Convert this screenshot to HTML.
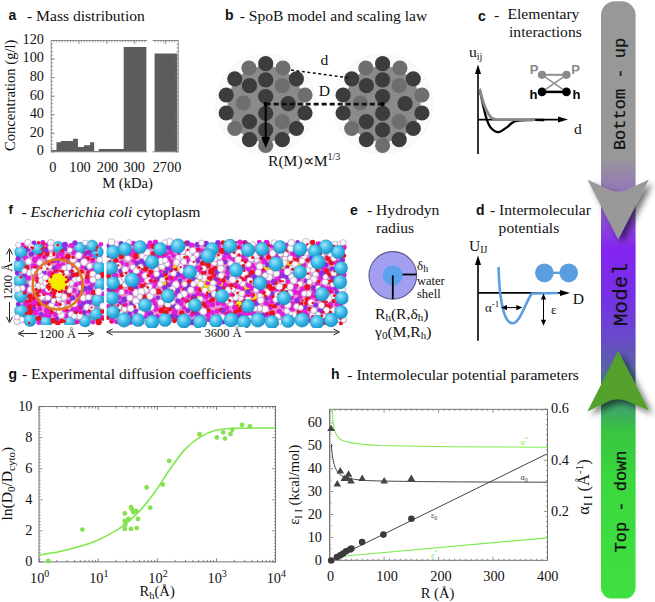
<!DOCTYPE html>
<html><head><meta charset="utf-8"><style>html,body{margin:0;padding:0;background:#fff;}svg{display:block}</style></head>
<body><svg width="655" height="602" viewBox="0 0 655 602">
<rect width="655" height="602" fill="#fff"/>
<text x="8.5" y="20.2" style='font-family:"Liberation Sans",sans-serif;font-size:14px;font-weight:bold' fill="#111" text-anchor="start" >a</text>
<text x="27" y="20.9" style='font-family:"Liberation Serif",serif;font-size:15.6px;font-weight:normal' fill="#111" text-anchor="start" >- Mass distribution</text>
<path d="M51.2,151.8 L51.2,150.1 L56.5,150.1 L56.5,142.2 L60.8,142.2 L60.8,141.1 L66.9,141.1 L66.9,140.9 L73,140.9 L73,138.8 L77.9,138.8 L77.9,147.1 L84,147.1 L84,145.3 L90.1,145.3 L90.1,142.2 L94.2,142.2 L94.2,151.0 L98.7,151.0 L98.7,148.9 L123.7,148.9 L123.7,47.0 L146.4,47.0 L146.4,151.8 Z" fill="#5c5c5c"/>
<rect x="154.6" y="53.5" width="22.7" height="98.3" fill="#5c5c5c"/>
<path d="M51.2,151.8 L51.2,40.5 L147.2,40.5 M152.6,40.5 L178.3,40.5 L178.3,151.8 M51.2,151.8 L147.2,151.8 M152.6,151.8 L178.3,151.8" fill="none" stroke="#808080" stroke-width="0.9"/>
<line x1="54.0" y1="40.5" x2="54.0" y2="42.3" stroke="#808080" stroke-width="0.8"/>
<line x1="56.7" y1="40.5" x2="56.7" y2="42.3" stroke="#808080" stroke-width="0.8"/>
<line x1="59.5" y1="40.5" x2="59.5" y2="42.3" stroke="#808080" stroke-width="0.8"/>
<line x1="62.2" y1="40.5" x2="62.2" y2="42.3" stroke="#808080" stroke-width="0.8"/>
<line x1="65.0" y1="40.5" x2="65.0" y2="42.3" stroke="#808080" stroke-width="0.8"/>
<line x1="67.7" y1="40.5" x2="67.7" y2="42.3" stroke="#808080" stroke-width="0.8"/>
<line x1="70.5" y1="40.5" x2="70.5" y2="42.3" stroke="#808080" stroke-width="0.8"/>
<line x1="73.2" y1="40.5" x2="73.2" y2="42.3" stroke="#808080" stroke-width="0.8"/>
<line x1="76.0" y1="40.5" x2="76.0" y2="42.3" stroke="#808080" stroke-width="0.8"/>
<line x1="78.7" y1="40.5" x2="78.7" y2="42.3" stroke="#808080" stroke-width="0.8"/>
<line x1="81.5" y1="40.5" x2="81.5" y2="42.3" stroke="#808080" stroke-width="0.8"/>
<line x1="84.2" y1="40.5" x2="84.2" y2="42.3" stroke="#808080" stroke-width="0.8"/>
<line x1="87.0" y1="40.5" x2="87.0" y2="42.3" stroke="#808080" stroke-width="0.8"/>
<line x1="89.7" y1="40.5" x2="89.7" y2="42.3" stroke="#808080" stroke-width="0.8"/>
<line x1="92.5" y1="40.5" x2="92.5" y2="42.3" stroke="#808080" stroke-width="0.8"/>
<line x1="95.2" y1="40.5" x2="95.2" y2="42.3" stroke="#808080" stroke-width="0.8"/>
<line x1="98.0" y1="40.5" x2="98.0" y2="42.3" stroke="#808080" stroke-width="0.8"/>
<line x1="100.7" y1="40.5" x2="100.7" y2="42.3" stroke="#808080" stroke-width="0.8"/>
<line x1="103.5" y1="40.5" x2="103.5" y2="42.3" stroke="#808080" stroke-width="0.8"/>
<line x1="106.2" y1="40.5" x2="106.2" y2="42.3" stroke="#808080" stroke-width="0.8"/>
<line x1="109.0" y1="40.5" x2="109.0" y2="42.3" stroke="#808080" stroke-width="0.8"/>
<line x1="111.7" y1="40.5" x2="111.7" y2="42.3" stroke="#808080" stroke-width="0.8"/>
<line x1="114.5" y1="40.5" x2="114.5" y2="42.3" stroke="#808080" stroke-width="0.8"/>
<line x1="117.2" y1="40.5" x2="117.2" y2="42.3" stroke="#808080" stroke-width="0.8"/>
<line x1="120.0" y1="40.5" x2="120.0" y2="42.3" stroke="#808080" stroke-width="0.8"/>
<line x1="122.7" y1="40.5" x2="122.7" y2="42.3" stroke="#808080" stroke-width="0.8"/>
<line x1="125.5" y1="40.5" x2="125.5" y2="42.3" stroke="#808080" stroke-width="0.8"/>
<line x1="128.2" y1="40.5" x2="128.2" y2="42.3" stroke="#808080" stroke-width="0.8"/>
<line x1="130.9" y1="40.5" x2="130.9" y2="42.3" stroke="#808080" stroke-width="0.8"/>
<line x1="133.7" y1="40.5" x2="133.7" y2="42.3" stroke="#808080" stroke-width="0.8"/>
<line x1="136.4" y1="40.5" x2="136.4" y2="42.3" stroke="#808080" stroke-width="0.8"/>
<line x1="139.2" y1="40.5" x2="139.2" y2="42.3" stroke="#808080" stroke-width="0.8"/>
<line x1="141.9" y1="40.5" x2="141.9" y2="42.3" stroke="#808080" stroke-width="0.8"/>
<line x1="144.7" y1="40.5" x2="144.7" y2="42.3" stroke="#808080" stroke-width="0.8"/>
<line x1="155.3" y1="40.5" x2="155.3" y2="42.3" stroke="#808080" stroke-width="0.8"/>
<line x1="158.1" y1="40.5" x2="158.1" y2="42.3" stroke="#808080" stroke-width="0.8"/>
<line x1="160.8" y1="40.5" x2="160.8" y2="42.3" stroke="#808080" stroke-width="0.8"/>
<line x1="163.6" y1="40.5" x2="163.6" y2="42.3" stroke="#808080" stroke-width="0.8"/>
<line x1="166.3" y1="40.5" x2="166.3" y2="42.3" stroke="#808080" stroke-width="0.8"/>
<line x1="169.1" y1="40.5" x2="169.1" y2="42.3" stroke="#808080" stroke-width="0.8"/>
<line x1="171.8" y1="40.5" x2="171.8" y2="42.3" stroke="#808080" stroke-width="0.8"/>
<line x1="174.6" y1="40.5" x2="174.6" y2="42.3" stroke="#808080" stroke-width="0.8"/>
<line x1="79" y1="40.5" x2="79" y2="44.0" stroke="#808080" stroke-width="0.8"/>
<line x1="106.8" y1="40.5" x2="106.8" y2="44.0" stroke="#808080" stroke-width="0.8"/>
<line x1="134.6" y1="40.5" x2="134.6" y2="44.0" stroke="#808080" stroke-width="0.8"/>
<line x1="165.4" y1="40.5" x2="165.4" y2="44.0" stroke="#808080" stroke-width="0.8"/>
<line x1="178.3" y1="151.8" x2="176.5" y2="151.8" stroke="#808080" stroke-width="0.8"/>
<line x1="51.2" y1="151.8" x2="53.0" y2="151.8" stroke="#808080" stroke-width="0.8"/>
<line x1="178.3" y1="148.1" x2="176.5" y2="148.1" stroke="#808080" stroke-width="0.8"/>
<line x1="51.2" y1="148.1" x2="53.0" y2="148.1" stroke="#808080" stroke-width="0.8"/>
<line x1="178.3" y1="144.4" x2="176.5" y2="144.4" stroke="#808080" stroke-width="0.8"/>
<line x1="51.2" y1="144.4" x2="53.0" y2="144.4" stroke="#808080" stroke-width="0.8"/>
<line x1="178.3" y1="140.7" x2="176.5" y2="140.7" stroke="#808080" stroke-width="0.8"/>
<line x1="51.2" y1="140.7" x2="53.0" y2="140.7" stroke="#808080" stroke-width="0.8"/>
<line x1="178.3" y1="137.0" x2="176.5" y2="137.0" stroke="#808080" stroke-width="0.8"/>
<line x1="51.2" y1="137.0" x2="53.0" y2="137.0" stroke="#808080" stroke-width="0.8"/>
<line x1="178.3" y1="133.2" x2="176.5" y2="133.2" stroke="#808080" stroke-width="0.8"/>
<line x1="51.2" y1="133.2" x2="53.0" y2="133.2" stroke="#808080" stroke-width="0.8"/>
<line x1="178.3" y1="129.5" x2="176.5" y2="129.5" stroke="#808080" stroke-width="0.8"/>
<line x1="51.2" y1="129.5" x2="53.0" y2="129.5" stroke="#808080" stroke-width="0.8"/>
<line x1="178.3" y1="125.8" x2="176.5" y2="125.8" stroke="#808080" stroke-width="0.8"/>
<line x1="51.2" y1="125.8" x2="53.0" y2="125.8" stroke="#808080" stroke-width="0.8"/>
<line x1="178.3" y1="122.1" x2="176.5" y2="122.1" stroke="#808080" stroke-width="0.8"/>
<line x1="51.2" y1="122.1" x2="53.0" y2="122.1" stroke="#808080" stroke-width="0.8"/>
<line x1="178.3" y1="118.4" x2="176.5" y2="118.4" stroke="#808080" stroke-width="0.8"/>
<line x1="51.2" y1="118.4" x2="53.0" y2="118.4" stroke="#808080" stroke-width="0.8"/>
<line x1="178.3" y1="114.7" x2="176.5" y2="114.7" stroke="#808080" stroke-width="0.8"/>
<line x1="51.2" y1="114.7" x2="53.0" y2="114.7" stroke="#808080" stroke-width="0.8"/>
<line x1="178.3" y1="111.0" x2="176.5" y2="111.0" stroke="#808080" stroke-width="0.8"/>
<line x1="51.2" y1="111.0" x2="53.0" y2="111.0" stroke="#808080" stroke-width="0.8"/>
<line x1="178.3" y1="107.3" x2="176.5" y2="107.3" stroke="#808080" stroke-width="0.8"/>
<line x1="51.2" y1="107.3" x2="53.0" y2="107.3" stroke="#808080" stroke-width="0.8"/>
<line x1="178.3" y1="103.6" x2="176.5" y2="103.6" stroke="#808080" stroke-width="0.8"/>
<line x1="51.2" y1="103.6" x2="53.0" y2="103.6" stroke="#808080" stroke-width="0.8"/>
<line x1="178.3" y1="99.9" x2="176.5" y2="99.9" stroke="#808080" stroke-width="0.8"/>
<line x1="51.2" y1="99.9" x2="53.0" y2="99.9" stroke="#808080" stroke-width="0.8"/>
<line x1="178.3" y1="96.2" x2="176.5" y2="96.2" stroke="#808080" stroke-width="0.8"/>
<line x1="51.2" y1="96.2" x2="53.0" y2="96.2" stroke="#808080" stroke-width="0.8"/>
<line x1="178.3" y1="92.4" x2="176.5" y2="92.4" stroke="#808080" stroke-width="0.8"/>
<line x1="51.2" y1="92.4" x2="53.0" y2="92.4" stroke="#808080" stroke-width="0.8"/>
<line x1="178.3" y1="88.7" x2="176.5" y2="88.7" stroke="#808080" stroke-width="0.8"/>
<line x1="51.2" y1="88.7" x2="53.0" y2="88.7" stroke="#808080" stroke-width="0.8"/>
<line x1="178.3" y1="85.0" x2="176.5" y2="85.0" stroke="#808080" stroke-width="0.8"/>
<line x1="51.2" y1="85.0" x2="53.0" y2="85.0" stroke="#808080" stroke-width="0.8"/>
<line x1="178.3" y1="81.3" x2="176.5" y2="81.3" stroke="#808080" stroke-width="0.8"/>
<line x1="51.2" y1="81.3" x2="53.0" y2="81.3" stroke="#808080" stroke-width="0.8"/>
<line x1="178.3" y1="77.6" x2="176.5" y2="77.6" stroke="#808080" stroke-width="0.8"/>
<line x1="51.2" y1="77.6" x2="53.0" y2="77.6" stroke="#808080" stroke-width="0.8"/>
<line x1="178.3" y1="73.9" x2="176.5" y2="73.9" stroke="#808080" stroke-width="0.8"/>
<line x1="51.2" y1="73.9" x2="53.0" y2="73.9" stroke="#808080" stroke-width="0.8"/>
<line x1="178.3" y1="70.2" x2="176.5" y2="70.2" stroke="#808080" stroke-width="0.8"/>
<line x1="51.2" y1="70.2" x2="53.0" y2="70.2" stroke="#808080" stroke-width="0.8"/>
<line x1="178.3" y1="66.5" x2="176.5" y2="66.5" stroke="#808080" stroke-width="0.8"/>
<line x1="51.2" y1="66.5" x2="53.0" y2="66.5" stroke="#808080" stroke-width="0.8"/>
<line x1="178.3" y1="62.8" x2="176.5" y2="62.8" stroke="#808080" stroke-width="0.8"/>
<line x1="51.2" y1="62.8" x2="53.0" y2="62.8" stroke="#808080" stroke-width="0.8"/>
<line x1="178.3" y1="59.0" x2="176.5" y2="59.0" stroke="#808080" stroke-width="0.8"/>
<line x1="51.2" y1="59.0" x2="53.0" y2="59.0" stroke="#808080" stroke-width="0.8"/>
<line x1="178.3" y1="55.3" x2="176.5" y2="55.3" stroke="#808080" stroke-width="0.8"/>
<line x1="51.2" y1="55.3" x2="53.0" y2="55.3" stroke="#808080" stroke-width="0.8"/>
<line x1="178.3" y1="51.6" x2="176.5" y2="51.6" stroke="#808080" stroke-width="0.8"/>
<line x1="51.2" y1="51.6" x2="53.0" y2="51.6" stroke="#808080" stroke-width="0.8"/>
<line x1="178.3" y1="47.9" x2="176.5" y2="47.9" stroke="#808080" stroke-width="0.8"/>
<line x1="51.2" y1="47.9" x2="53.0" y2="47.9" stroke="#808080" stroke-width="0.8"/>
<line x1="178.3" y1="44.2" x2="176.5" y2="44.2" stroke="#808080" stroke-width="0.8"/>
<line x1="51.2" y1="44.2" x2="53.0" y2="44.2" stroke="#808080" stroke-width="0.8"/>
<line x1="178.3" y1="40.5" x2="176.5" y2="40.5" stroke="#808080" stroke-width="0.8"/>
<line x1="51.2" y1="40.5" x2="53.0" y2="40.5" stroke="#808080" stroke-width="0.8"/>
<text x="44" y="155.20000000000002" style='font-family:"Liberation Serif",serif;font-size:14.3px;font-weight:normal' fill="#111" text-anchor="end" >0</text>
<line x1="51.2" y1="151.8" x2="54.7" y2="151.8" stroke="#808080" stroke-width="0.9"/>
<line x1="178.3" y1="151.8" x2="174.8" y2="151.8" stroke="#808080" stroke-width="0.9"/>
<text x="44" y="136.65" style='font-family:"Liberation Serif",serif;font-size:14.3px;font-weight:normal' fill="#111" text-anchor="end" >20</text>
<line x1="51.2" y1="133.2" x2="54.7" y2="133.2" stroke="#808080" stroke-width="0.9"/>
<line x1="178.3" y1="133.2" x2="174.8" y2="133.2" stroke="#808080" stroke-width="0.9"/>
<text x="44" y="118.10000000000002" style='font-family:"Liberation Serif",serif;font-size:14.3px;font-weight:normal' fill="#111" text-anchor="end" >40</text>
<line x1="51.2" y1="114.7" x2="54.7" y2="114.7" stroke="#808080" stroke-width="0.9"/>
<line x1="178.3" y1="114.7" x2="174.8" y2="114.7" stroke="#808080" stroke-width="0.9"/>
<text x="44" y="99.55000000000001" style='font-family:"Liberation Serif",serif;font-size:14.3px;font-weight:normal' fill="#111" text-anchor="end" >60</text>
<line x1="51.2" y1="96.2" x2="54.7" y2="96.2" stroke="#808080" stroke-width="0.9"/>
<line x1="178.3" y1="96.2" x2="174.8" y2="96.2" stroke="#808080" stroke-width="0.9"/>
<text x="44" y="81.00000000000001" style='font-family:"Liberation Serif",serif;font-size:14.3px;font-weight:normal' fill="#111" text-anchor="end" >80</text>
<line x1="51.2" y1="77.6" x2="54.7" y2="77.6" stroke="#808080" stroke-width="0.9"/>
<line x1="178.3" y1="77.6" x2="174.8" y2="77.6" stroke="#808080" stroke-width="0.9"/>
<text x="44" y="62.449999999999996" style='font-family:"Liberation Serif",serif;font-size:14.3px;font-weight:normal' fill="#111" text-anchor="end" >100</text>
<line x1="51.2" y1="59.0" x2="54.7" y2="59.0" stroke="#808080" stroke-width="0.9"/>
<line x1="178.3" y1="59.0" x2="174.8" y2="59.0" stroke="#808080" stroke-width="0.9"/>
<text x="44" y="43.9" style='font-family:"Liberation Serif",serif;font-size:14.3px;font-weight:normal' fill="#111" text-anchor="end" >120</text>
<line x1="51.2" y1="40.5" x2="54.7" y2="40.5" stroke="#808080" stroke-width="0.9"/>
<line x1="178.3" y1="40.5" x2="174.8" y2="40.5" stroke="#808080" stroke-width="0.9"/>
<text x="52.8" y="172" style='font-family:"Liberation Serif",serif;font-size:14.3px;font-weight:normal' fill="#111" text-anchor="middle" >0</text>
<text x="80" y="172" style='font-family:"Liberation Serif",serif;font-size:14.3px;font-weight:normal' fill="#111" text-anchor="middle" >100</text>
<text x="107.5" y="172" style='font-family:"Liberation Serif",serif;font-size:14.3px;font-weight:normal' fill="#111" text-anchor="middle" >200</text>
<text x="134.3" y="172" style='font-family:"Liberation Serif",serif;font-size:14.3px;font-weight:normal' fill="#111" text-anchor="middle" >300</text>
<text x="167" y="172" style='font-family:"Liberation Serif",serif;font-size:14.3px;font-weight:normal' fill="#111" text-anchor="middle" >2700</text>
<text x="127.6" y="188" style='font-family:"Liberation Serif",serif;font-size:14.6px;font-weight:normal' fill="#111" text-anchor="middle" >M (kDa)</text>
<text transform="translate(14.5,95.3) rotate(-90)" style='font-family:"Liberation Serif",serif;font-size:14.6px' fill="#111" text-anchor="middle">Concentration (g/l)</text>
<text x="225" y="20.2" style='font-family:"Liberation Sans",sans-serif;font-size:14px;font-weight:bold' fill="#111" text-anchor="start" >b</text>
<text x="239.7" y="20.9" style='font-family:"Liberation Serif",serif;font-size:15.6px;font-weight:normal' fill="#111" text-anchor="start" >- SpoB model and scaling law</text>
<circle cx="265.7" cy="104.1" r="50" fill="#fafafa" stroke="#f0f0f0" stroke-width="0.6"/>
<circle cx="265.7" cy="104.1" r="38" fill="#8a8a8a"/>
<circle cx="248.9" cy="68.0" r="7.6" fill="#6e6e6e"/>
<circle cx="265.7" cy="63.7" r="7.6" fill="#3c3c3c"/>
<circle cx="283.0" cy="68.0" r="7.6" fill="#6e6e6e"/>
<circle cx="234.8" cy="78.8" r="7.6" fill="#3c3c3c"/>
<circle cx="296.4" cy="78.8" r="7.6" fill="#3c3c3c"/>
<circle cx="249.5" cy="85.7" r="7.6" fill="#3c3c3c"/>
<circle cx="265.7" cy="79.9" r="7.6" fill="#3c3c3c"/>
<circle cx="282.3" cy="85.7" r="7.6" fill="#6e6e6e"/>
<circle cx="226.2" cy="95.0" r="7.6" fill="#3c3c3c"/>
<circle cx="305.0" cy="95.0" r="7.6" fill="#6e6e6e"/>
<circle cx="243.4" cy="103.0" r="7.6" fill="#6e6e6e"/>
<circle cx="265.7" cy="96.5" r="7.6" fill="#3c3c3c"/>
<circle cx="288.2" cy="103.7" r="7.6" fill="#3c3c3c"/>
<circle cx="226.2" cy="113.0" r="7.6" fill="#3c3c3c"/>
<circle cx="305.0" cy="113.0" r="7.6" fill="#3c3c3c"/>
<circle cx="249.5" cy="121.6" r="7.6" fill="#3c3c3c"/>
<circle cx="265.7" cy="113.4" r="7.6" fill="#3c3c3c"/>
<circle cx="282.3" cy="121.6" r="7.6" fill="#6e6e6e"/>
<circle cx="234.8" cy="128.5" r="7.6" fill="#6e6e6e"/>
<circle cx="296.4" cy="128.5" r="7.6" fill="#3c3c3c"/>
<circle cx="265.7" cy="129.8" r="7.6" fill="#3c3c3c"/>
<circle cx="249.5" cy="139.7" r="7.6" fill="#3c3c3c"/>
<circle cx="282.3" cy="139.7" r="7.6" fill="#3c3c3c"/>
<circle cx="265.7" cy="145.4" r="7.6" fill="#6e6e6e"/>
<circle cx="382.6" cy="104.1" r="50" fill="#fafafa" stroke="#f0f0f0" stroke-width="0.6"/>
<circle cx="382.6" cy="104.1" r="38" fill="#8a8a8a"/>
<circle cx="365.8" cy="68.0" r="7.6" fill="#6e6e6e"/>
<circle cx="382.6" cy="63.7" r="7.6" fill="#3c3c3c"/>
<circle cx="399.9" cy="68.0" r="7.6" fill="#6e6e6e"/>
<circle cx="351.7" cy="78.8" r="7.6" fill="#3c3c3c"/>
<circle cx="413.3" cy="78.8" r="7.6" fill="#3c3c3c"/>
<circle cx="366.4" cy="85.7" r="7.6" fill="#3c3c3c"/>
<circle cx="382.6" cy="79.9" r="7.6" fill="#3c3c3c"/>
<circle cx="399.2" cy="85.7" r="7.6" fill="#6e6e6e"/>
<circle cx="343.1" cy="95.0" r="7.6" fill="#3c3c3c"/>
<circle cx="421.9" cy="95.0" r="7.6" fill="#6e6e6e"/>
<circle cx="360.3" cy="103.0" r="7.6" fill="#6e6e6e"/>
<circle cx="382.6" cy="96.5" r="7.6" fill="#3c3c3c"/>
<circle cx="405.1" cy="103.7" r="7.6" fill="#3c3c3c"/>
<circle cx="343.1" cy="113.0" r="7.6" fill="#3c3c3c"/>
<circle cx="421.9" cy="113.0" r="7.6" fill="#3c3c3c"/>
<circle cx="366.4" cy="121.6" r="7.6" fill="#3c3c3c"/>
<circle cx="382.6" cy="113.4" r="7.6" fill="#3c3c3c"/>
<circle cx="399.2" cy="121.6" r="7.6" fill="#6e6e6e"/>
<circle cx="351.7" cy="128.5" r="7.6" fill="#6e6e6e"/>
<circle cx="413.3" cy="128.5" r="7.6" fill="#3c3c3c"/>
<circle cx="382.6" cy="129.8" r="7.6" fill="#3c3c3c"/>
<circle cx="366.4" cy="139.7" r="7.6" fill="#3c3c3c"/>
<circle cx="399.2" cy="139.7" r="7.6" fill="#3c3c3c"/>
<circle cx="382.6" cy="145.4" r="7.6" fill="#6e6e6e"/>
<line x1="291" y1="70" x2="350" y2="78" stroke="#111" stroke-width="1.5" stroke-dasharray="3,2.5"/>
<line x1="265.7" y1="104.1" x2="382.6" y2="104.1" stroke="#111" stroke-width="2.6" stroke-dasharray="5,3"/>
<circle cx="265.7" cy="104.1" r="2.2" fill="#000"/><circle cx="382.6" cy="104.1" r="2.2" fill="#000"/>
<line x1="265.7" y1="104.1" x2="265.7" y2="140" stroke="#000" stroke-width="2"/>
<path d="M261.2,137 L265.7,148 L270.2,137 Z" fill="#000"/>
<text x="324.5" y="65" style='font-family:"Liberation Serif",serif;font-size:15.6px;font-weight:normal' fill="#111" text-anchor="middle" >d</text>
<text x="324.5" y="96" style='font-family:"Liberation Serif",serif;font-size:15.6px;font-weight:normal' fill="#111" text-anchor="middle" >D</text>
<text x="268" y="166" style='font-family:"Liberation Serif",serif;font-size:15.6px;font-weight:normal' fill="#111" text-anchor="start" >R(M)∝M<tspan dy="-6" font-size="10">1/3</tspan></text>
<text x="478" y="20.5" style='font-family:"Liberation Sans",sans-serif;font-size:14px;font-weight:bold' fill="#111" text-anchor="start" >c</text>
<text x="494" y="19.5" style='font-family:"Liberation Serif",serif;font-size:15.6px;font-weight:normal' fill="#111" text-anchor="start" >-</text>
<text x="507.5" y="19.3" style='font-family:"Liberation Serif",serif;font-size:15.6px;font-weight:normal' fill="#111" text-anchor="start" >Elementary</text>
<text x="509" y="36.8" style='font-family:"Liberation Serif",serif;font-size:15.6px;font-weight:normal' fill="#111" text-anchor="start" >interactions</text>
<line x1="478" y1="154" x2="478" y2="70" stroke="#000" stroke-width="1.6"/><path d="M475,74 L478,64.5 L481,74 Z" fill="#000"/>
<line x1="478" y1="119.6" x2="562" y2="119.6" stroke="#000" stroke-width="1.6"/><path d="M558,116.6 L568,119.6 L558,122.6 Z" fill="#000"/>
<text x="469" y="57" style='font-family:"Liberation Serif",serif;font-size:15.6px;font-weight:normal' fill="#111" text-anchor="start" >u<tspan dy="3" font-size="10">ij</tspan></text>
<text x="578" y="133.5" style='font-family:"Liberation Serif",serif;font-size:15.6px;font-weight:normal' fill="#111" text-anchor="middle" >d</text>
<path d="M479.6,88.9 C480.2,91.5 481.9,99.8 483,104.7 C484.1,109.6 485.2,114.7 486.5,118.5 C487.8,122.3 488.7,125.1 490.6,127.4 C492.6,129.7 495.7,132.1 498.2,132.2 C500.7,132.3 503.3,129.7 505.7,128.1 C508.1,126.5 510.5,123.9 512.6,122.6 C514.7,121.3 515.2,120.9 518.1,120.5 C521.0,120.1 525.6,120.1 530,120 C534.4,119.9 541.8,120.0 544.2,120" fill="none" stroke="#000" stroke-width="2.3"/>
<path d="M479.6,88.9 C480.3,91.3 482.3,99.4 483.7,103.4 C485.1,107.4 486.3,110.4 487.9,113 C489.5,115.6 490.5,117.8 493.4,118.9 C496.2,120.0 498.0,119.5 505,119.6 C512.0,119.7 530.2,119.6 535.2,119.6" fill="none" stroke="#8a8a8a" stroke-width="2.8"/>
<line x1="542" y1="74.8" x2="566.5" y2="74.8" stroke="#8f8f8f" stroke-width="2"/><line x1="542" y1="74.8" x2="566.5" y2="91.9" stroke="#8f8f8f" stroke-width="1.5"/><line x1="566.5" y1="74.8" x2="542" y2="91.9" stroke="#8f8f8f" stroke-width="1.5"/>
<line x1="542" y1="91.9" x2="566.5" y2="91.9" stroke="#000" stroke-width="2.5"/>
<circle cx="542" cy="74.8" r="4.1" fill="#8a8a8a"/><circle cx="566.5" cy="74.8" r="4.1" fill="#8a8a8a"/><circle cx="542" cy="91.9" r="4.3" fill="#000"/><circle cx="566.5" cy="91.9" r="4.3" fill="#000"/>
<text x="529.8" y="73.8" style='font-family:"Liberation Sans",sans-serif;font-size:13px;font-weight:bold' fill="#8a8a8a" text-anchor="start" >P</text>
<text x="571.3" y="73.8" style='font-family:"Liberation Sans",sans-serif;font-size:13px;font-weight:bold' fill="#8a8a8a" text-anchor="start" >P</text>
<text x="529.5" y="99.4" style='font-family:"Liberation Sans",sans-serif;font-size:13px;font-weight:bold' fill="#000" text-anchor="start" >h</text>
<text x="572.5" y="99.4" style='font-family:"Liberation Sans",sans-serif;font-size:13px;font-weight:bold' fill="#000" text-anchor="start" >h</text>
<text x="8.6" y="213.6" style='font-family:"Liberation Sans",sans-serif;font-size:13px;font-weight:bold' fill="#111" text-anchor="start" >f</text>
<text x="21.5" y="216.8" style='font-family:"Liberation Serif",serif;font-size:15.6px;font-weight:normal' fill="#111" text-anchor="start" >- <tspan font-style="italic">Escherichia coli</tspan> cytoplasm</text>
<defs><radialGradient id="bs" cx="0.38" cy="0.35" r="0.7"><stop offset="0" stop-color="#9be8fc"/><stop offset="0.5" stop-color="#3cbbe8"/><stop offset="1" stop-color="#1890c8"/></radialGradient><radialGradient id="ws" cx="0.4" cy="0.38" r="0.7"><stop offset="0" stop-color="#ffffff"/><stop offset="0.75" stop-color="#f6f0f8"/><stop offset="1" stop-color="#c9a0d0"/></radialGradient><clipPath id="c1"><rect x="13" y="237" width="91" height="91"/></clipPath><clipPath id="c2"><rect x="106.5" y="236" width="242" height="92"/></clipPath></defs>
<g clip-path="url(#c1)">
<rect x="19" y="244.5" width="82" height="76.5" fill="#e890d0"/>
<circle cx="21.0" cy="252.0" r="6.3" fill="url(#bs)" stroke="#1a7fb5" stroke-width="0.4"/>
<circle cx="19.0" cy="266.0" r="6.5" fill="url(#bs)" stroke="#1a7fb5" stroke-width="0.4"/>
<circle cx="20.0" cy="281.0" r="6.5" fill="url(#bs)" stroke="#1a7fb5" stroke-width="0.4"/>
<circle cx="21.0" cy="296.0" r="6.5" fill="url(#bs)" stroke="#1a7fb5" stroke-width="0.4"/>
<circle cx="21.0" cy="311.0" r="6.5" fill="url(#bs)" stroke="#1a7fb5" stroke-width="0.4"/>
<circle cx="30.0" cy="320.0" r="6.5" fill="url(#bs)" stroke="#1a7fb5" stroke-width="0.4"/>
<circle cx="46.0" cy="322.0" r="6.0" fill="url(#bs)" stroke="#1a7fb5" stroke-width="0.4"/>
<circle cx="97.0" cy="252.0" r="6.3" fill="url(#bs)" stroke="#1a7fb5" stroke-width="0.4"/>
<circle cx="99.0" cy="268.0" r="6.5" fill="url(#bs)" stroke="#1a7fb5" stroke-width="0.4"/>
<circle cx="100.0" cy="284.0" r="6.5" fill="url(#bs)" stroke="#1a7fb5" stroke-width="0.4"/>
<circle cx="98.0" cy="300.0" r="6.5" fill="url(#bs)" stroke="#1a7fb5" stroke-width="0.4"/>
<circle cx="96.0" cy="314.0" r="6.5" fill="url(#bs)" stroke="#1a7fb5" stroke-width="0.4"/>
<circle cx="85.0" cy="321.0" r="6.0" fill="url(#bs)" stroke="#1a7fb5" stroke-width="0.4"/>
<circle cx="70.0" cy="322.0" r="6.0" fill="url(#bs)" stroke="#1a7fb5" stroke-width="0.4"/>
<circle cx="80.0" cy="248.0" r="6.0" fill="url(#bs)" stroke="#1a7fb5" stroke-width="0.4"/>
<circle cx="92.0" cy="246.0" r="6.0" fill="url(#bs)" stroke="#1a7fb5" stroke-width="0.4"/>
<circle cx="38.0" cy="249.0" r="6.0" fill="url(#bs)" stroke="#1a7fb5" stroke-width="0.4"/>
<circle cx="58.0" cy="247.0" r="5.8" fill="url(#bs)" stroke="#1a7fb5" stroke-width="0.4"/>
<circle cx="56.2" cy="276.5" r="3.1" fill="#ee1020"/>
<circle cx="102.9" cy="311.1" r="2.7" fill="#ee1020"/>
<circle cx="88.5" cy="272.6" r="2.4" fill="#ee1020"/>
<circle cx="35.9" cy="294.5" r="3.1" fill="#ee1020"/>
<circle cx="93.5" cy="292.4" r="2.7" fill="#ee1020"/>
<circle cx="37.2" cy="281.3" r="2.6" fill="#ee1020"/>
<circle cx="26.9" cy="267.6" r="2.5" fill="#ee1020"/>
<circle cx="61.0" cy="289.7" r="2.3" fill="#ee1020"/>
<circle cx="77.5" cy="274.6" r="2.7" fill="#ee1020"/>
<circle cx="53.3" cy="320.8" r="3.0" fill="#ee1020"/>
<circle cx="61.6" cy="321.0" r="2.4" fill="#ee1020"/>
<circle cx="98.7" cy="322.0" r="3.2" fill="#ee1020"/>
<circle cx="67.8" cy="256.6" r="2.9" fill="#ee1020"/>
<circle cx="29.9" cy="296.2" r="2.7" fill="#ee1020"/>
<circle cx="54.5" cy="296.9" r="2.6" fill="#ee1020"/>
<circle cx="39.3" cy="303.5" r="2.8" fill="#ee1020"/>
<circle cx="87.7" cy="258.7" r="2.4" fill="#ee1020"/>
<circle cx="30.2" cy="311.8" r="3.1" fill="#ee1020"/>
<circle cx="38.6" cy="318.5" r="2.8" fill="#ee1020"/>
<circle cx="52.0" cy="311.3" r="2.6" fill="#ee1020"/>
<circle cx="81.4" cy="271.8" r="2.6" fill="#ee1020"/>
<circle cx="47.2" cy="254.1" r="2.6" fill="#ee1020"/>
<circle cx="69.2" cy="294.8" r="2.4" fill="#ee1020"/>
<circle cx="33.6" cy="298.8" r="2.3" fill="#ee1020"/>
<circle cx="86.9" cy="276.9" r="2.6" fill="#ee1020"/>
<circle cx="102.8" cy="275.0" r="3.1" fill="#ee1020"/>
<circle cx="29.6" cy="306.8" r="3.0" fill="#ee1020"/>
<circle cx="73.1" cy="275.1" r="2.5" fill="#ee1020"/>
<circle cx="38.9" cy="290.5" r="2.5" fill="#ee1020"/>
<circle cx="29.8" cy="301.1" r="2.3" fill="#ee1020"/>
<circle cx="57.8" cy="323.0" r="2.7" fill="#ee1020"/>
<circle cx="80.8" cy="306.5" r="2.9" fill="#8c2ee0"/>
<circle cx="57.0" cy="318.4" r="2.3" fill="#8c2ee0"/>
<circle cx="85.6" cy="253.7" r="2.4" fill="#8c2ee0"/>
<circle cx="35.0" cy="259.8" r="3.1" fill="#e21cd8"/>
<circle cx="31.3" cy="254.2" r="2.6" fill="#8c2ee0"/>
<circle cx="42.9" cy="291.1" r="2.4" fill="#e21cd8"/>
<circle cx="87.4" cy="281.2" r="2.6" fill="#e21cd8"/>
<circle cx="100.9" cy="244.3" r="2.4" fill="#e21cd8"/>
<circle cx="33.9" cy="303.3" r="3.2" fill="#e21cd8"/>
<circle cx="58.2" cy="265.9" r="3.0" fill="#e21cd8"/>
<circle cx="46.1" cy="249.7" r="2.8" fill="#8c2ee0"/>
<circle cx="84.3" cy="312.3" r="2.6" fill="#8c2ee0"/>
<circle cx="47.1" cy="310.4" r="3.1" fill="#e21cd8"/>
<circle cx="61.6" cy="285.1" r="3.2" fill="#e21cd8"/>
<circle cx="71.3" cy="245.9" r="2.9" fill="#e21cd8"/>
<circle cx="44.3" cy="257.1" r="2.4" fill="#e21cd8"/>
<circle cx="65.7" cy="292.0" r="2.4" fill="#8c2ee0"/>
<circle cx="54.1" cy="260.7" r="2.6" fill="#e21cd8"/>
<circle cx="70.5" cy="278.2" r="2.4" fill="#8c2ee0"/>
<circle cx="62.8" cy="264.5" r="2.3" fill="#e21cd8"/>
<circle cx="68.9" cy="302.3" r="2.9" fill="#e21cd8"/>
<circle cx="82.4" cy="266.7" r="2.4" fill="#e21cd8"/>
<circle cx="56.9" cy="271.6" r="2.8" fill="#e21cd8"/>
<circle cx="53.8" cy="288.8" r="3.0" fill="#e21cd8"/>
<circle cx="50.2" cy="274.0" r="3.1" fill="#e21cd8"/>
<circle cx="33.9" cy="266.4" r="3.1" fill="#e21cd8"/>
<circle cx="54.1" cy="267.8" r="2.4" fill="#8c2ee0"/>
<circle cx="61.5" cy="253.3" r="3.0" fill="#e21cd8"/>
<circle cx="48.9" cy="301.8" r="2.5" fill="#8c2ee0"/>
<circle cx="78.3" cy="295.2" r="2.5" fill="#e21cd8"/>
<circle cx="68.1" cy="261.7" r="2.4" fill="#e21cd8"/>
<circle cx="70.7" cy="271.0" r="2.4" fill="#8c2ee0"/>
<circle cx="26.3" cy="286.1" r="2.6" fill="#8c2ee0"/>
<circle cx="28.2" cy="249.1" r="2.6" fill="#8c2ee0"/>
<circle cx="44.0" cy="303.1" r="2.7" fill="#8c2ee0"/>
<circle cx="64.9" cy="244.7" r="3.0" fill="#8c2ee0"/>
<circle cx="47.3" cy="262.5" r="2.5" fill="#e21cd8"/>
<circle cx="75.7" cy="312.0" r="2.6" fill="#8c2ee0"/>
<circle cx="89.1" cy="302.0" r="2.9" fill="#8c2ee0"/>
<circle cx="72.6" cy="298.1" r="2.8" fill="#8c2ee0"/>
<circle cx="25.7" cy="258.1" r="2.7" fill="#e21cd8"/>
<circle cx="26.0" cy="303.5" r="2.9" fill="#e21cd8"/>
<circle cx="84.9" cy="288.8" r="2.9" fill="#8c2ee0"/>
<circle cx="49.9" cy="284.1" r="2.7" fill="#e21cd8"/>
<circle cx="35.6" cy="276.4" r="3.2" fill="#e21cd8"/>
<circle cx="64.4" cy="309.3" r="2.6" fill="#e21cd8"/>
<circle cx="88.3" cy="292.9" r="2.5" fill="#e21cd8"/>
<circle cx="42.7" cy="242.6" r="2.5" fill="#e21cd8"/>
<circle cx="80.9" cy="283.1" r="2.8" fill="#e21cd8"/>
<circle cx="18.2" cy="304.2" r="2.4" fill="#8c2ee0"/>
<circle cx="93.1" cy="322.2" r="2.3" fill="#e21cd8"/>
<circle cx="74.2" cy="290.4" r="2.5" fill="#e21cd8"/>
<circle cx="39.7" cy="308.7" r="2.6" fill="#e21cd8"/>
<circle cx="28.3" cy="277.8" r="2.7" fill="#e21cd8"/>
<circle cx="79.7" cy="301.4" r="3.1" fill="#e21cd8"/>
<circle cx="41.2" cy="314.5" r="2.5" fill="#8c2ee0"/>
<circle cx="55.3" cy="314.6" r="2.5" fill="#e21cd8"/>
<circle cx="75.5" cy="284.6" r="2.5" fill="#e21cd8"/>
<circle cx="77.3" cy="322.1" r="2.4" fill="#e21cd8"/>
<circle cx="56.6" cy="304.1" r="2.4" fill="#e21cd8"/>
<circle cx="35.8" cy="312.5" r="2.9" fill="#e21cd8"/>
<circle cx="62.7" cy="258.4" r="2.7" fill="#e21cd8"/>
<circle cx="57.1" cy="256.0" r="2.7" fill="#e21cd8"/>
<circle cx="90.0" cy="288.1" r="3.0" fill="#8c2ee0"/>
<circle cx="47.2" cy="244.6" r="2.3" fill="#e21cd8"/>
<circle cx="72.4" cy="308.5" r="2.8" fill="#e21cd8"/>
<circle cx="92.7" cy="260.4" r="2.6" fill="#e21cd8"/>
<circle cx="73.9" cy="252.7" r="2.8" fill="#e21cd8"/>
<circle cx="102.7" cy="317.7" r="2.7" fill="#e21cd8"/>
<circle cx="34.0" cy="242.8" r="2.4" fill="#8c2ee0"/>
<circle cx="65.8" cy="316.0" r="2.5" fill="#e21cd8"/>
<circle cx="22.5" cy="244.7" r="2.3" fill="#e21cd8"/>
<circle cx="90.6" cy="255.5" r="2.3" fill="#e21cd8"/>
<circle cx="49.2" cy="315.4" r="2.6" fill="#e21cd8"/>
<circle cx="33.9" cy="308.2" r="2.4" fill="#8c2ee0"/>
<circle cx="79.7" cy="260.0" r="2.4" fill="#8c2ee0"/>
<circle cx="72.3" cy="265.5" r="2.4" fill="#e21cd8"/>
<circle cx="39.1" cy="256.2" r="2.5" fill="#e21cd8"/>
<circle cx="86.3" cy="268.3" r="2.3" fill="#8c2ee0"/>
<circle cx="83.6" cy="257.2" r="2.3" fill="#e21cd8"/>
<circle cx="84.0" cy="303.0" r="2.5" fill="#8c2ee0"/>
<circle cx="80.6" cy="291.9" r="2.4" fill="#8c2ee0"/>
<circle cx="74.9" cy="242.8" r="2.6" fill="#8c2ee0"/>
<circle cx="92.4" cy="284.1" r="2.6" fill="#e21cd8"/>
<circle cx="38.8" cy="322.7" r="2.4" fill="#e21cd8"/>
<circle cx="44.0" cy="272.4" r="2.6" fill="#8c2ee0"/>
<circle cx="58.3" cy="260.6" r="2.4" fill="#8c2ee0"/>
<circle cx="50.5" cy="294.0" r="2.7" fill="#e21cd8"/>
<circle cx="17.1" cy="273.1" r="2.4" fill="#8c2ee0"/>
<circle cx="65.0" cy="249.1" r="2.3" fill="#8c2ee0"/>
<circle cx="89.1" cy="311.3" r="2.3" fill="#e21cd8"/>
<circle cx="38.9" cy="267.2" r="2.6" fill="#e21cd8"/>
<circle cx="26.0" cy="290.2" r="2.4" fill="#e21cd8"/>
<circle cx="102.9" cy="293.7" r="2.3" fill="#e21cd8"/>
<circle cx="38.0" cy="298.9" r="2.7" fill="#e21cd8"/>
<circle cx="17.9" cy="258.8" r="2.5" fill="#8c2ee0"/>
<circle cx="80.0" cy="311.2" r="2.6" fill="#e21cd8"/>
<circle cx="89.1" cy="252.1" r="2.3" fill="#8c2ee0"/>
<circle cx="24.5" cy="275.1" r="2.3" fill="#8c2ee0"/>
<circle cx="68.3" cy="310.9" r="2.6" fill="#e21cd8"/>
<circle cx="45.1" cy="315.2" r="2.3" fill="#e21cd8"/>
<circle cx="46.4" cy="292.9" r="2.4" fill="#e21cd8"/>
<circle cx="91.7" cy="269.8" r="2.3" fill="#e21cd8"/>
<circle cx="76.7" cy="307.8" r="2.5" fill="#e21cd8"/>
<circle cx="38.2" cy="286.3" r="3.2" fill="url(#ws)" stroke="#a080b0" stroke-width="0.5"/>
<circle cx="27.9" cy="242.6" r="3.4" fill="url(#ws)" stroke="#a080b0" stroke-width="0.5"/>
<circle cx="63.4" cy="297.1" r="3.7" fill="url(#ws)" stroke="#a080b0" stroke-width="0.5"/>
<circle cx="75.3" cy="269.7" r="2.7" fill="url(#ws)" stroke="#a080b0" stroke-width="0.5"/>
<circle cx="58.4" cy="299.2" r="3.0" fill="url(#ws)" stroke="#a080b0" stroke-width="0.5"/>
<circle cx="48.5" cy="289.1" r="3.6" fill="url(#ws)" stroke="#a080b0" stroke-width="0.5"/>
<circle cx="62.1" cy="304.9" r="3.1" fill="url(#ws)" stroke="#a080b0" stroke-width="0.5"/>
<circle cx="43.9" cy="268.0" r="3.3" fill="url(#ws)" stroke="#a080b0" stroke-width="0.5"/>
<circle cx="89.6" cy="266.2" r="2.9" fill="url(#ws)" stroke="#a080b0" stroke-width="0.5"/>
<circle cx="56.0" cy="281.8" r="3.8" fill="url(#ws)" stroke="#a080b0" stroke-width="0.5"/>
<circle cx="29.6" cy="272.8" r="3.1" fill="url(#ws)" stroke="#a080b0" stroke-width="0.5"/>
<circle cx="74.1" cy="303.7" r="3.5" fill="url(#ws)" stroke="#a080b0" stroke-width="0.5"/>
<circle cx="77.6" cy="265.1" r="3.1" fill="url(#ws)" stroke="#a080b0" stroke-width="0.5"/>
<circle cx="83.2" cy="298.1" r="3.2" fill="url(#ws)" stroke="#a080b0" stroke-width="0.5"/>
<circle cx="74.8" cy="279.8" r="3.0" fill="url(#ws)" stroke="#a080b0" stroke-width="0.5"/>
<circle cx="72.9" cy="260.1" r="3.2" fill="url(#ws)" stroke="#a080b0" stroke-width="0.5"/>
<circle cx="69.6" cy="290.0" r="3.1" fill="url(#ws)" stroke="#a080b0" stroke-width="0.5"/>
<circle cx="41.0" cy="275.5" r="3.1" fill="url(#ws)" stroke="#a080b0" stroke-width="0.5"/>
<circle cx="69.8" cy="250.1" r="2.7" fill="url(#ws)" stroke="#a080b0" stroke-width="0.5"/>
<circle cx="71.1" cy="314.2" r="2.9" fill="url(#ws)" stroke="#a080b0" stroke-width="0.5"/>
<circle cx="41.6" cy="280.9" r="3.2" fill="url(#ws)" stroke="#a080b0" stroke-width="0.5"/>
<circle cx="84.2" cy="262.3" r="3.7" fill="url(#ws)" stroke="#a080b0" stroke-width="0.5"/>
<circle cx="30.2" cy="289.7" r="3.1" fill="url(#ws)" stroke="#a080b0" stroke-width="0.5"/>
<circle cx="52.6" cy="255.5" r="3.4" fill="url(#ws)" stroke="#a080b0" stroke-width="0.5"/>
<circle cx="71.3" cy="283.2" r="2.9" fill="url(#ws)" stroke="#a080b0" stroke-width="0.5"/>
<circle cx="42.0" cy="296.8" r="3.4" fill="url(#ws)" stroke="#a080b0" stroke-width="0.5"/>
<circle cx="78.7" cy="255.6" r="3.5" fill="url(#ws)" stroke="#a080b0" stroke-width="0.5"/>
<circle cx="32.4" cy="283.4" r="3.7" fill="url(#ws)" stroke="#a080b0" stroke-width="0.5"/>
<circle cx="66.1" cy="272.8" r="3.2" fill="url(#ws)" stroke="#a080b0" stroke-width="0.5"/>
<circle cx="79.4" cy="316.0" r="3.4" fill="url(#ws)" stroke="#a080b0" stroke-width="0.5"/>
<circle cx="55.6" cy="309.0" r="3.0" fill="url(#ws)" stroke="#a080b0" stroke-width="0.5"/>
<circle cx="98.6" cy="291.8" r="3.6" fill="url(#ws)" stroke="#a080b0" stroke-width="0.5"/>
<circle cx="92.8" cy="274.1" r="3.2" fill="url(#ws)" stroke="#a080b0" stroke-width="0.5"/>
<circle cx="24.5" cy="271.1" r="2.8" fill="url(#ws)" stroke="#a080b0" stroke-width="0.5"/>
<circle cx="50.8" cy="242.7" r="3.3" fill="url(#ws)" stroke="#a080b0" stroke-width="0.5"/>
<circle cx="22.4" cy="288.1" r="2.9" fill="url(#ws)" stroke="#a080b0" stroke-width="0.5"/>
<circle cx="87.2" cy="307.2" r="3.5" fill="url(#ws)" stroke="#a080b0" stroke-width="0.5"/>
<circle cx="28.7" cy="261.5" r="3.3" fill="url(#ws)" stroke="#a080b0" stroke-width="0.5"/>
<circle cx="80.6" cy="287.7" r="2.8" fill="url(#ws)" stroke="#a080b0" stroke-width="0.5"/>
<circle cx="61.4" cy="315.1" r="3.5" fill="url(#ws)" stroke="#a080b0" stroke-width="0.5"/>
<circle cx="39.3" cy="271.3" r="2.8" fill="url(#ws)" stroke="#a080b0" stroke-width="0.5"/>
<circle cx="63.7" cy="277.7" r="3.8" fill="url(#ws)" stroke="#a080b0" stroke-width="0.5"/>
<circle cx="66.4" cy="282.8" r="3.7" fill="url(#ws)" stroke="#a080b0" stroke-width="0.5"/>
<circle cx="21.2" cy="319.7" r="3.3" fill="url(#ws)" stroke="#a080b0" stroke-width="0.5"/>
<circle cx="61.4" cy="272.5" r="2.9" fill="url(#ws)" stroke="#a080b0" stroke-width="0.5"/>
<circle cx="47.9" cy="297.8" r="2.9" fill="url(#ws)" stroke="#a080b0" stroke-width="0.5"/>
<circle cx="93.1" cy="279.9" r="3.2" fill="url(#ws)" stroke="#a080b0" stroke-width="0.5"/>
<circle cx="102.9" cy="306.1" r="3.4" fill="url(#ws)" stroke="#a080b0" stroke-width="0.5"/>
<circle cx="68.5" cy="267.3" r="3.3" fill="url(#ws)" stroke="#a080b0" stroke-width="0.5"/>
<circle cx="49.4" cy="279.5" r="3.0" fill="url(#ws)" stroke="#a080b0" stroke-width="0.5"/>
<circle cx="50.7" cy="247.7" r="2.9" fill="url(#ws)" stroke="#a080b0" stroke-width="0.5"/>
<circle cx="39.8" cy="262.7" r="3.0" fill="url(#ws)" stroke="#a080b0" stroke-width="0.5"/>
<circle cx="82.1" cy="276.5" r="3.1" fill="url(#ws)" stroke="#a080b0" stroke-width="0.5"/>
<circle cx="18.4" cy="245.0" r="2.9" fill="url(#ws)" stroke="#a080b0" stroke-width="0.5"/>
<circle cx="48.9" cy="266.4" r="3.3" fill="url(#ws)" stroke="#a080b0" stroke-width="0.5"/>
<circle cx="99.8" cy="259.8" r="3.0" fill="url(#ws)" stroke="#a080b0" stroke-width="0.5"/>
<circle cx="51.4" cy="305.7" r="3.1" fill="url(#ws)" stroke="#a080b0" stroke-width="0.5"/>
<circle cx="98.0" cy="276.8" r="2.9" fill="url(#ws)" stroke="#a080b0" stroke-width="0.5"/>
<circle cx="91.5" cy="307.7" r="2.8" fill="url(#ws)" stroke="#a080b0" stroke-width="0.5"/>
<circle cx="42.9" cy="286.3" r="3.1" fill="url(#ws)" stroke="#a080b0" stroke-width="0.5"/>
<circle cx="58.8" cy="294.2" r="3.5" fill="url(#ws)" stroke="#a080b0" stroke-width="0.5"/>
<circle cx="78.7" cy="279.1" r="2.7" fill="url(#ws)" stroke="#a080b0" stroke-width="0.5"/>
<circle cx="45.4" cy="277.8" r="3.1" fill="url(#ws)" stroke="#a080b0" stroke-width="0.5"/>
<circle cx="45.5" cy="282.9" r="2.9" fill="url(#ws)" stroke="#a080b0" stroke-width="0.5"/>
<circle cx="65.3" cy="288.1" r="2.9" fill="url(#ws)" stroke="#a080b0" stroke-width="0.5"/>
<circle cx="34.6" cy="289.3" r="3.2" fill="url(#ws)" stroke="#a080b0" stroke-width="0.5"/>
<circle cx="17.6" cy="289.0" r="3.4" fill="url(#ws)" stroke="#a080b0" stroke-width="0.5"/>
<circle cx="85.2" cy="242.8" r="2.7" fill="url(#ws)" stroke="#a080b0" stroke-width="0.5"/>
<circle cx="59.4" cy="311.0" r="3.1" fill="url(#ws)" stroke="#a080b0" stroke-width="0.5"/>
<circle cx="68.6" cy="307.0" r="2.7" fill="url(#ws)" stroke="#a080b0" stroke-width="0.5"/>
<circle cx="49.7" cy="259.0" r="2.8" fill="url(#ws)" stroke="#a080b0" stroke-width="0.5"/>
<circle cx="53.9" cy="301.0" r="2.9" fill="url(#ws)" stroke="#a080b0" stroke-width="0.5"/>
<circle cx="88.5" cy="297.3" r="3.0" fill="url(#ws)" stroke="#a080b0" stroke-width="0.5"/>
<circle cx="17.0" cy="321.4" r="3.2" fill="url(#ws)" stroke="#a080b0" stroke-width="0.5"/>
<circle cx="64.3" cy="268.0" r="2.8" fill="url(#ws)" stroke="#a080b0" stroke-width="0.5"/>
<circle cx="74.4" cy="316.3" r="2.8" fill="url(#ws)" stroke="#a080b0" stroke-width="0.5"/>
<circle cx="34.3" cy="271.6" r="3.5" fill="url(#ws)" stroke="#a080b0" stroke-width="0.5"/>
<circle cx="31.3" cy="246.6" r="2.8" fill="url(#ws)" stroke="#a080b0" stroke-width="0.5"/>
<circle cx="17.1" cy="317.2" r="2.9" fill="url(#ws)" stroke="#a080b0" stroke-width="0.5"/>
<circle cx="68.6" cy="302.8" r="1.2" fill="#ee1020"/>
<circle cx="38.4" cy="304.5" r="1.5" fill="#ee1020"/>
<circle cx="46.6" cy="303.6" r="1.4" fill="#ee1020"/>
<circle cx="57.7" cy="245.1" r="1.5" fill="#ee1020"/>
<circle cx="43.8" cy="257.1" r="1.1" fill="#ee1020"/>
<circle cx="38.5" cy="242.7" r="1.6" fill="#ee1020"/>
<circle cx="50.5" cy="286.2" r="1.1" fill="#ee1020"/>
<circle cx="31.6" cy="247.4" r="1.3" fill="#ee1020"/>
<circle cx="34.8" cy="266.9" r="1.5" fill="#ee1020"/>
<circle cx="68.1" cy="279.9" r="1.6" fill="#ee1020"/>
<circle cx="76.3" cy="312.5" r="1.8" fill="#ee1020"/>
<circle cx="102.6" cy="318.8" r="1.7" fill="#ee1020"/>
<circle cx="40.0" cy="254.9" r="1.7" fill="#ee1020"/>
<circle cx="53.8" cy="253.0" r="1.6" fill="#ee1020"/>
<circle cx="42.3" cy="254.0" r="1.2" fill="#ee1020"/>
<circle cx="76.2" cy="322.7" r="1.2" fill="#ee1020"/>
<circle cx="73.1" cy="257.4" r="1.7" fill="#ee1020"/>
<circle cx="62.3" cy="258.3" r="1.2" fill="#ee1020"/>
<circle cx="57.2" cy="270.5" r="1.3" fill="#ee1020"/>
<circle cx="62.7" cy="271.7" r="1.6" fill="#ee1020"/>
<circle cx="66.8" cy="310.4" r="1.2" fill="#ee1020"/>
<circle cx="86.7" cy="252.1" r="1.2" fill="#ee1020"/>
<circle cx="96.7" cy="255.1" r="1.3" fill="#ee1020"/>
<circle cx="43.6" cy="294.6" r="1.5" fill="#ee1020"/>
<circle cx="96.2" cy="250.3" r="1.2" fill="#ee1020"/>
<circle cx="41.9" cy="249.2" r="1.2" fill="#ee1020"/>
<circle cx="80.4" cy="312.7" r="1.5" fill="#ee1020"/>
<circle cx="64.2" cy="321.2" r="1.6" fill="#ee1020"/>
<circle cx="37.2" cy="277.9" r="1.2" fill="#ee1020"/>
<circle cx="97.1" cy="247.4" r="1.4" fill="#ee1020"/>
<circle cx="51.8" cy="261.8" r="1.6" fill="#ee1020"/>
<circle cx="34.2" cy="306.0" r="1.2" fill="#ee1020"/>
<circle cx="55.5" cy="280.1" r="1.4" fill="#ee1020"/>
<circle cx="72.6" cy="271.2" r="1.4" fill="#ee1020"/>
<circle cx="43.4" cy="246.7" r="1.3" fill="#ee1020"/>
<circle cx="43.6" cy="243.6" r="1.6" fill="#ee1020"/>
<circle cx="56.2" cy="301.9" r="1.1" fill="#ee1020"/>
<circle cx="71.5" cy="271.1" r="1.1" fill="#ee1020"/>
<circle cx="62.2" cy="250.7" r="1.7" fill="#ee1020"/>
<circle cx="73.3" cy="276.3" r="1.4" fill="#ee1020"/>
<circle cx="50.3" cy="288.1" r="1.4" fill="#ee1020"/>
<circle cx="25.2" cy="247.3" r="1.2" fill="#ee1020"/>
<circle cx="39.7" cy="295.8" r="1.1" fill="#ee1020"/>
<circle cx="41.4" cy="267.7" r="1.2" fill="#ee1020"/>
<circle cx="53.3" cy="290.0" r="1.7" fill="#ee1020"/>
<circle cx="92.7" cy="259.4" r="1.3" fill="#ee1020"/>
<circle cx="89.1" cy="310.5" r="1.3" fill="#ee1020"/>
<circle cx="82.7" cy="286.3" r="1.7" fill="#ee1020"/>
<circle cx="21.0" cy="277.0" r="1.5" fill="#ee1020"/>
<circle cx="57.0" cy="286.7" r="1.2" fill="#ee1020"/>
<circle cx="79.8" cy="307.8" r="1.1" fill="#ee1020"/>
<circle cx="26.4" cy="313.5" r="1.6" fill="#ee1020"/>
<circle cx="29.1" cy="323.0" r="1.2" fill="#ee1020"/>
<circle cx="60.2" cy="304.4" r="1.6" fill="#ee1020"/>
<circle cx="26.8" cy="301.5" r="1.4" fill="#ee1020"/>
<circle cx="45.7" cy="248.1" r="1.1" fill="#ee1020"/>
<circle cx="91.5" cy="307.6" r="1.1" fill="#ee1020"/>
<circle cx="53.9" cy="254.8" r="1.7" fill="#ee1020"/>
<circle cx="61.1" cy="291.8" r="1.4" fill="#ee1020"/>
<circle cx="32.7" cy="248.1" r="1.4" fill="#ee1020"/>
<circle cx="43.1" cy="251.9" r="1.2" fill="#ee1020"/>
<circle cx="36.0" cy="289.7" r="1.8" fill="#ee1020"/>
<circle cx="67.0" cy="309.6" r="1.3" fill="#ee1020"/>
<circle cx="48.9" cy="264.2" r="1.7" fill="#ee1020"/>
<circle cx="37.4" cy="318.5" r="1.7" fill="#ee1020"/>
<circle cx="24.5" cy="293.0" r="1.8" fill="#ee1020"/>
<circle cx="47.6" cy="268.6" r="1.2" fill="#ee1020"/>
<circle cx="57.8" cy="282.5" r="9.5" fill="#f5ec00"/>
<circle cx="51.0" cy="277.0" r="1.4" fill="#ee1020"/>
<circle cx="54.7" cy="271.3" r="1.4" fill="#ee1020"/>
<circle cx="53.2" cy="273.1" r="1.4" fill="#ee1020"/>
<circle cx="47.7" cy="286.4" r="1.4" fill="#ee1020"/>
<circle cx="66.4" cy="287.1" r="1.4" fill="#ee1020"/>
<circle cx="47.1" cy="281.2" r="1.4" fill="#ee1020"/>
<circle cx="54.8" cy="293.6" r="1.4" fill="#ee1020"/>
<circle cx="54.3" cy="293.4" r="1.4" fill="#ee1020"/>
<circle cx="59.2" cy="291.9" r="1.4" fill="#ee1020"/>
<circle cx="50.2" cy="286.8" r="1.4" fill="#ee1020"/>
<circle cx="66.8" cy="287.8" r="1.4" fill="#ee1020"/>
<circle cx="52.7" cy="289.4" r="1.4" fill="#ee1020"/>
<circle cx="48.9" cy="289.6" r="1.4" fill="#ee1020"/>
<circle cx="60.5" cy="271.1" r="1.4" fill="#ee1020"/>
<circle cx="49.3" cy="284.1" r="1.4" fill="#ee1020"/>
<circle cx="66.2" cy="288.5" r="1.4" fill="#ee1020"/>
<circle cx="67.2" cy="281.7" r="1.4" fill="#ee1020"/>
<circle cx="55.4" cy="290.8" r="1.4" fill="#ee1020"/>
<circle cx="65.3" cy="291.3" r="1.4" fill="#ee1020"/>
<circle cx="56.2" cy="291.1" r="1.4" fill="#ee1020"/>
<circle cx="66.4" cy="277.2" r="1.4" fill="#ee1020"/>
<circle cx="54.2" cy="291.9" r="1.4" fill="#ee1020"/>
<circle cx="51.9" cy="274.2" r="1.4" fill="#ee1020"/>
<circle cx="61.9" cy="290.9" r="1.4" fill="#ee1020"/>
<circle cx="51.2" cy="292.7" r="1.4" fill="#ee1020"/>
<circle cx="47.6" cy="285.4" r="1.4" fill="#ee1020"/>
<circle cx="54.5" cy="290.7" r="1.4" fill="#ee1020"/>
<circle cx="47.7" cy="287.6" r="1.4" fill="#ee1020"/>
<circle cx="66.0" cy="282.1" r="1.4" fill="#ee1020"/>
<circle cx="63.5" cy="274.6" r="1.4" fill="#ee1020"/>
<circle cx="57.8" cy="284.5" r="25" fill="none" stroke="#e07a20" stroke-width="2.6"/>
</g>
<g clip-path="url(#c2)">
<rect x="110" y="244" width="232" height="77" fill="#e890d0"/>
<circle cx="221.6" cy="250.9" r="3.2" fill="#ee1020"/>
<circle cx="238.3" cy="303.2" r="3.0" fill="#ee1020"/>
<circle cx="145.4" cy="268.6" r="3.1" fill="#ee1020"/>
<circle cx="202.8" cy="263.6" r="2.8" fill="#ee1020"/>
<circle cx="161.3" cy="310.4" r="2.9" fill="#ee1020"/>
<circle cx="327.8" cy="258.2" r="2.7" fill="#ee1020"/>
<circle cx="130.9" cy="288.3" r="2.8" fill="#ee1020"/>
<circle cx="144.2" cy="297.2" r="2.9" fill="#ee1020"/>
<circle cx="241.9" cy="277.9" r="2.6" fill="#ee1020"/>
<circle cx="309.6" cy="309.1" r="2.4" fill="#ee1020"/>
<circle cx="203.8" cy="272.5" r="2.7" fill="#ee1020"/>
<circle cx="210.2" cy="278.3" r="2.6" fill="#ee1020"/>
<circle cx="301.0" cy="303.8" r="2.4" fill="#ee1020"/>
<circle cx="181.8" cy="313.1" r="2.8" fill="#ee1020"/>
<circle cx="326.5" cy="270.9" r="2.9" fill="#ee1020"/>
<circle cx="307.6" cy="260.1" r="2.4" fill="#ee1020"/>
<circle cx="203.8" cy="303.9" r="2.5" fill="#ee1020"/>
<circle cx="211.4" cy="271.5" r="3.2" fill="#ee1020"/>
<circle cx="115.9" cy="260.7" r="2.7" fill="#ee1020"/>
<circle cx="135.6" cy="256.2" r="2.9" fill="#ee1020"/>
<circle cx="231.7" cy="285.4" r="2.5" fill="#ee1020"/>
<circle cx="272.1" cy="313.3" r="3.1" fill="#ee1020"/>
<circle cx="290.7" cy="262.3" r="2.3" fill="#ee1020"/>
<circle cx="142.4" cy="286.4" r="3.0" fill="#ee1020"/>
<circle cx="120.1" cy="286.5" r="3.1" fill="#ee1020"/>
<circle cx="331.4" cy="262.2" r="3.0" fill="#ee1020"/>
<circle cx="239.2" cy="309.9" r="2.9" fill="#ee1020"/>
<circle cx="329.6" cy="282.0" r="2.5" fill="#ee1020"/>
<circle cx="158.2" cy="291.4" r="3.0" fill="#ee1020"/>
<circle cx="333.3" cy="300.9" r="2.3" fill="#ee1020"/>
<circle cx="121.4" cy="256.5" r="2.7" fill="#ee1020"/>
<circle cx="223.1" cy="280.7" r="2.7" fill="#ee1020"/>
<circle cx="189.4" cy="281.7" r="2.6" fill="#ee1020"/>
<circle cx="268.9" cy="286.4" r="3.1" fill="#ee1020"/>
<circle cx="274.9" cy="306.1" r="2.4" fill="#ee1020"/>
<circle cx="307.3" cy="287.2" r="3.1" fill="#ee1020"/>
<circle cx="251.6" cy="272.7" r="2.9" fill="#ee1020"/>
<circle cx="174.3" cy="320.9" r="2.3" fill="#ee1020"/>
<circle cx="208.2" cy="310.5" r="2.6" fill="#ee1020"/>
<circle cx="165.9" cy="312.5" r="2.7" fill="#ee1020"/>
<circle cx="212.5" cy="299.7" r="2.6" fill="#ee1020"/>
<circle cx="200.4" cy="289.3" r="2.8" fill="#ee1020"/>
<circle cx="299.0" cy="312.9" r="2.8" fill="#ee1020"/>
<circle cx="268.7" cy="257.1" r="2.7" fill="#ee1020"/>
<circle cx="187.3" cy="301.4" r="2.5" fill="#ee1020"/>
<circle cx="307.7" cy="299.2" r="2.9" fill="#ee1020"/>
<circle cx="323.7" cy="301.7" r="2.4" fill="#ee1020"/>
<circle cx="296.5" cy="260.1" r="2.7" fill="#ee1020"/>
<circle cx="214.8" cy="268.3" r="2.6" fill="#ee1020"/>
<circle cx="312.6" cy="242.3" r="2.6" fill="#ee1020"/>
<circle cx="317.0" cy="270.4" r="2.7" fill="#ee1020"/>
<circle cx="153.2" cy="246.1" r="3.0" fill="#ee1020"/>
<circle cx="208.0" cy="265.4" r="2.9" fill="#ee1020"/>
<circle cx="112.5" cy="290.0" r="2.6" fill="#ee1020"/>
<circle cx="121.8" cy="274.7" r="2.4" fill="#ee1020"/>
<circle cx="338.5" cy="274.7" r="2.6" fill="#ee1020"/>
<circle cx="223.0" cy="242.7" r="2.4" fill="#ee1020"/>
<circle cx="150.7" cy="272.1" r="2.6" fill="#ee1020"/>
<circle cx="108.3" cy="276.0" r="2.9" fill="#ee1020"/>
<circle cx="253.8" cy="299.4" r="2.7" fill="#ee1020"/>
<circle cx="285.2" cy="286.5" r="2.8" fill="#ee1020"/>
<circle cx="235.4" cy="312.0" r="2.4" fill="#ee1020"/>
<circle cx="153.0" cy="253.7" r="2.5" fill="#ee1020"/>
<circle cx="282.9" cy="290.6" r="2.6" fill="#ee1020"/>
<circle cx="169.5" cy="308.6" r="2.8" fill="#ee1020"/>
<circle cx="175.9" cy="268.5" r="2.7" fill="#ee1020"/>
<circle cx="164.7" cy="307.2" r="2.3" fill="#ee1020"/>
<circle cx="108.1" cy="317.5" r="2.4" fill="#ee1020"/>
<circle cx="286.7" cy="250.6" r="2.4" fill="#ee1020"/>
<circle cx="329.2" cy="275.1" r="2.5" fill="#ee1020"/>
<circle cx="273.0" cy="288.6" r="2.4" fill="#ee1020"/>
<circle cx="165.1" cy="283.3" r="2.5" fill="#ee1020"/>
<circle cx="341.0" cy="322.9" r="2.3" fill="#ee1020"/>
<circle cx="324.2" cy="322.6" r="2.5" fill="#ee1020"/>
<circle cx="325.9" cy="305.9" r="2.6" fill="#ee1020"/>
<circle cx="243.4" cy="301.0" r="2.3" fill="#ee1020"/>
<circle cx="344.0" cy="255.7" r="2.3" fill="#ee1020"/>
<circle cx="306.4" cy="303.3" r="2.4" fill="#ee1020"/>
<circle cx="214.1" cy="275.6" r="2.3" fill="#ee1020"/>
<circle cx="179.5" cy="269.0" r="2.4" fill="#f4e400"/>
<circle cx="174.4" cy="264.4" r="3.5" fill="#f4e400"/>
<circle cx="157.9" cy="269.8" r="3.1" fill="#f4e400"/>
<circle cx="172.8" cy="265.5" r="2.9" fill="#f4e400"/>
<circle cx="163.8" cy="266.0" r="2.9" fill="#f4e400"/>
<circle cx="164.3" cy="271.8" r="3.4" fill="#f4e400"/>
<circle cx="172.7" cy="293.6" r="3.2" fill="#f4e400"/>
<circle cx="159.6" cy="270.2" r="2.7" fill="#f4e400"/>
<circle cx="157.7" cy="269.8" r="2.7" fill="#f4e400"/>
<circle cx="176.4" cy="275.7" r="2.5" fill="#f4e400"/>
<circle cx="165.0" cy="274.2" r="3.5" fill="#f4e400"/>
<circle cx="154.5" cy="278.3" r="3.3" fill="#f4e400"/>
<circle cx="162.5" cy="283.1" r="3.6" fill="#f4e400"/>
<circle cx="170.4" cy="263.3" r="2.7" fill="#f4e400"/>
<circle cx="205.5" cy="282.1" r="2.4" fill="#f4e400"/>
<circle cx="197.9" cy="296.7" r="2.4" fill="#f4e400"/>
<circle cx="212.9" cy="288.6" r="3.5" fill="#f4e400"/>
<circle cx="215.9" cy="280.8" r="3.3" fill="#f4e400"/>
<circle cx="220.8" cy="285.8" r="3.7" fill="#f4e400"/>
<circle cx="215.2" cy="281.6" r="2.6" fill="#f4e400"/>
<circle cx="195.7" cy="286.0" r="2.5" fill="#f4e400"/>
<circle cx="201.6" cy="281.0" r="3.3" fill="#f4e400"/>
<circle cx="206.8" cy="283.0" r="3.5" fill="#f4e400"/>
<circle cx="214.4" cy="289.6" r="2.8" fill="#f4e400"/>
<circle cx="206.8" cy="292.1" r="2.8" fill="#f4e400"/>
<circle cx="203.3" cy="287.3" r="2.8" fill="#f4e400"/>
<circle cx="216.3" cy="288.6" r="3.1" fill="#f4e400"/>
<circle cx="207.3" cy="287.1" r="3.0" fill="#f4e400"/>
<circle cx="267.0" cy="267.7" r="2.8" fill="#f4e400"/>
<circle cx="281.0" cy="272.6" r="2.9" fill="#f4e400"/>
<circle cx="300.1" cy="271.8" r="3.3" fill="#f4e400"/>
<circle cx="288.0" cy="267.6" r="3.3" fill="#f4e400"/>
<circle cx="280.2" cy="266.3" r="3.3" fill="#f4e400"/>
<circle cx="295.1" cy="265.4" r="2.8" fill="#f4e400"/>
<circle cx="279.8" cy="275.1" r="2.5" fill="#f4e400"/>
<circle cx="285.1" cy="274.5" r="3.1" fill="#f4e400"/>
<circle cx="282.1" cy="276.9" r="3.1" fill="#f4e400"/>
<circle cx="291.0" cy="267.3" r="2.8" fill="#f4e400"/>
<circle cx="285.8" cy="263.5" r="3.3" fill="#f4e400"/>
<circle cx="273.7" cy="264.2" r="2.4" fill="#f4e400"/>
<circle cx="280.8" cy="263.7" r="3.2" fill="#f4e400"/>
<circle cx="299.6" cy="264.7" r="2.4" fill="#f4e400"/>
<circle cx="247.3" cy="288.5" r="3.2" fill="#f4e400"/>
<circle cx="264.5" cy="292.9" r="3.1" fill="#f4e400"/>
<circle cx="262.7" cy="293.6" r="2.9" fill="#f4e400"/>
<circle cx="258.5" cy="283.9" r="3.6" fill="#f4e400"/>
<circle cx="239.0" cy="303.5" r="2.5" fill="#f4e400"/>
<circle cx="242.6" cy="294.7" r="2.5" fill="#f4e400"/>
<circle cx="253.4" cy="296.4" r="3.3" fill="#f4e400"/>
<circle cx="260.9" cy="288.5" r="2.3" fill="#f4e400"/>
<circle cx="259.8" cy="289.9" r="2.4" fill="#f4e400"/>
<circle cx="242.7" cy="293.7" r="3.3" fill="#f4e400"/>
<circle cx="250.0" cy="297.0" r="2.5" fill="#f4e400"/>
<circle cx="238.4" cy="304.3" r="2.8" fill="#f4e400"/>
<circle cx="248.5" cy="289.2" r="3.5" fill="#f4e400"/>
<circle cx="250.7" cy="288.4" r="2.9" fill="#f4e400"/>
<circle cx="223.7" cy="322.1" r="2.4" fill="#8c2ee0"/>
<circle cx="266.3" cy="303.6" r="3.0" fill="#e21cd8"/>
<circle cx="170.0" cy="277.8" r="2.8" fill="#e21cd8"/>
<circle cx="152.8" cy="276.4" r="2.8" fill="#e21cd8"/>
<circle cx="243.0" cy="256.3" r="2.7" fill="#e21cd8"/>
<circle cx="255.6" cy="268.7" r="2.4" fill="#e21cd8"/>
<circle cx="282.1" cy="271.3" r="2.6" fill="#e21cd8"/>
<circle cx="320.2" cy="310.7" r="2.9" fill="#8c2ee0"/>
<circle cx="157.8" cy="297.7" r="2.3" fill="#8c2ee0"/>
<circle cx="342.2" cy="260.1" r="2.9" fill="#8c2ee0"/>
<circle cx="133.9" cy="261.1" r="2.5" fill="#e21cd8"/>
<circle cx="119.3" cy="297.6" r="2.3" fill="#e21cd8"/>
<circle cx="165.6" cy="272.7" r="2.8" fill="#8c2ee0"/>
<circle cx="248.5" cy="268.9" r="2.8" fill="#e21cd8"/>
<circle cx="120.7" cy="270.7" r="2.5" fill="#8c2ee0"/>
<circle cx="210.0" cy="295.1" r="2.3" fill="#8c2ee0"/>
<circle cx="176.0" cy="294.6" r="2.4" fill="#e21cd8"/>
<circle cx="287.9" cy="281.6" r="2.4" fill="#e21cd8"/>
<circle cx="183.7" cy="276.7" r="2.9" fill="#e21cd8"/>
<circle cx="207.8" cy="314.9" r="2.6" fill="#e21cd8"/>
<circle cx="239.3" cy="247.5" r="2.6" fill="#e21cd8"/>
<circle cx="199.3" cy="267.6" r="2.4" fill="#e21cd8"/>
<circle cx="177.9" cy="301.0" r="2.5" fill="#8c2ee0"/>
<circle cx="175.7" cy="277.8" r="2.4" fill="#e21cd8"/>
<circle cx="330.3" cy="304.8" r="2.9" fill="#e21cd8"/>
<circle cx="271.9" cy="293.6" r="2.7" fill="#8c2ee0"/>
<circle cx="191.9" cy="314.8" r="2.4" fill="#e21cd8"/>
<circle cx="121.7" cy="262.9" r="2.6" fill="#e21cd8"/>
<circle cx="130.7" cy="271.4" r="2.8" fill="#e21cd8"/>
<circle cx="112.0" cy="320.7" r="2.8" fill="#e21cd8"/>
<circle cx="150.3" cy="314.0" r="3.1" fill="#8c2ee0"/>
<circle cx="198.4" cy="250.0" r="2.7" fill="#e21cd8"/>
<circle cx="229.5" cy="256.1" r="2.9" fill="#e21cd8"/>
<circle cx="295.0" cy="286.5" r="2.6" fill="#e21cd8"/>
<circle cx="315.6" cy="305.1" r="2.5" fill="#8c2ee0"/>
<circle cx="321.0" cy="278.3" r="3.0" fill="#e21cd8"/>
<circle cx="212.1" cy="304.4" r="2.9" fill="#e21cd8"/>
<circle cx="223.7" cy="303.7" r="2.6" fill="#e21cd8"/>
<circle cx="317.7" cy="283.6" r="2.6" fill="#e21cd8"/>
<circle cx="142.1" cy="279.4" r="3.0" fill="#e21cd8"/>
<circle cx="229.4" cy="312.6" r="2.6" fill="#e21cd8"/>
<circle cx="294.4" cy="291.9" r="3.0" fill="#e21cd8"/>
<circle cx="302.5" cy="289.2" r="2.6" fill="#e21cd8"/>
<circle cx="183.0" cy="299.4" r="3.0" fill="#e21cd8"/>
<circle cx="217.9" cy="242.8" r="2.7" fill="#8c2ee0"/>
<circle cx="161.4" cy="276.0" r="2.8" fill="#8c2ee0"/>
<circle cx="174.9" cy="311.9" r="3.1" fill="#e21cd8"/>
<circle cx="264.2" cy="261.2" r="2.9" fill="#e21cd8"/>
<circle cx="188.4" cy="296.3" r="2.5" fill="#e21cd8"/>
<circle cx="157.4" cy="316.3" r="2.4" fill="#e21cd8"/>
<circle cx="227.4" cy="272.3" r="2.6" fill="#e21cd8"/>
<circle cx="248.0" cy="291.8" r="2.8" fill="#8c2ee0"/>
<circle cx="245.0" cy="242.5" r="2.6" fill="#8c2ee0"/>
<circle cx="217.2" cy="272.0" r="2.7" fill="#8c2ee0"/>
<circle cx="274.0" cy="281.9" r="3.1" fill="#8c2ee0"/>
<circle cx="217.2" cy="311.0" r="2.6" fill="#e21cd8"/>
<circle cx="131.6" cy="303.9" r="2.6" fill="#8c2ee0"/>
<circle cx="171.3" cy="261.7" r="2.5" fill="#e21cd8"/>
<circle cx="173.3" cy="306.1" r="2.8" fill="#8c2ee0"/>
<circle cx="177.2" cy="290.3" r="3.0" fill="#8c2ee0"/>
<circle cx="248.8" cy="284.9" r="3.0" fill="#e21cd8"/>
<circle cx="261.3" cy="291.4" r="2.8" fill="#e21cd8"/>
<circle cx="297.0" cy="300.7" r="2.9" fill="#8c2ee0"/>
<circle cx="332.1" cy="269.2" r="2.7" fill="#8c2ee0"/>
<circle cx="163.2" cy="256.2" r="3.0" fill="#e21cd8"/>
<circle cx="202.6" cy="250.9" r="2.4" fill="#e21cd8"/>
<circle cx="331.0" cy="287.9" r="2.3" fill="#e21cd8"/>
<circle cx="271.6" cy="302.2" r="2.3" fill="#e21cd8"/>
<circle cx="282.7" cy="314.6" r="2.7" fill="#e21cd8"/>
<circle cx="254.2" cy="277.1" r="3.1" fill="#8c2ee0"/>
<circle cx="170.9" cy="269.9" r="2.6" fill="#8c2ee0"/>
<circle cx="266.6" cy="242.8" r="3.1" fill="#e21cd8"/>
<circle cx="187.8" cy="310.5" r="2.5" fill="#8c2ee0"/>
<circle cx="155.8" cy="308.8" r="3.0" fill="#e21cd8"/>
<circle cx="194.0" cy="297.1" r="3.1" fill="#8c2ee0"/>
<circle cx="168.6" cy="258.2" r="2.4" fill="#e21cd8"/>
<circle cx="218.1" cy="302.9" r="2.7" fill="#e21cd8"/>
<circle cx="155.3" cy="303.9" r="2.7" fill="#e21cd8"/>
<circle cx="299.6" cy="292.8" r="2.9" fill="#e21cd8"/>
<circle cx="336.9" cy="304.0" r="2.5" fill="#e21cd8"/>
<circle cx="215.8" cy="279.3" r="2.5" fill="#8c2ee0"/>
<circle cx="305.9" cy="280.7" r="2.5" fill="#8c2ee0"/>
<circle cx="197.7" cy="293.7" r="2.5" fill="#e21cd8"/>
<circle cx="209.1" cy="319.4" r="2.6" fill="#e21cd8"/>
<circle cx="217.3" cy="287.8" r="3.0" fill="#8c2ee0"/>
<circle cx="272.0" cy="246.3" r="2.3" fill="#e21cd8"/>
<circle cx="124.2" cy="299.6" r="3.1" fill="#8c2ee0"/>
<circle cx="246.6" cy="260.5" r="2.7" fill="#e21cd8"/>
<circle cx="155.8" cy="283.1" r="2.9" fill="#e21cd8"/>
<circle cx="242.6" cy="289.4" r="2.3" fill="#e21cd8"/>
<circle cx="263.0" cy="271.5" r="2.9" fill="#e21cd8"/>
<circle cx="137.6" cy="263.6" r="2.9" fill="#8c2ee0"/>
<circle cx="293.3" cy="254.5" r="3.2" fill="#e21cd8"/>
<circle cx="169.0" cy="284.9" r="2.4" fill="#8c2ee0"/>
<circle cx="277.0" cy="290.2" r="2.4" fill="#e21cd8"/>
<circle cx="191.6" cy="245.3" r="2.8" fill="#e21cd8"/>
<circle cx="169.1" cy="247.6" r="3.1" fill="#8c2ee0"/>
<circle cx="248.6" cy="313.8" r="2.4" fill="#e21cd8"/>
<circle cx="305.1" cy="307.6" r="2.6" fill="#8c2ee0"/>
<circle cx="282.9" cy="306.1" r="2.6" fill="#e21cd8"/>
<circle cx="207.6" cy="283.2" r="2.3" fill="#e21cd8"/>
<circle cx="188.3" cy="260.5" r="2.7" fill="#e21cd8"/>
<circle cx="225.6" cy="285.5" r="3.1" fill="#e21cd8"/>
<circle cx="337.0" cy="292.1" r="2.5" fill="#8c2ee0"/>
<circle cx="133.5" cy="251.3" r="2.7" fill="#e21cd8"/>
<circle cx="133.4" cy="243.3" r="2.6" fill="#e21cd8"/>
<circle cx="135.6" cy="287.6" r="2.9" fill="#8c2ee0"/>
<circle cx="253.2" cy="313.0" r="3.1" fill="#e21cd8"/>
<circle cx="322.6" cy="286.6" r="2.3" fill="#e21cd8"/>
<circle cx="197.5" cy="244.6" r="2.9" fill="#8c2ee0"/>
<circle cx="141.4" cy="272.6" r="2.3" fill="#e21cd8"/>
<circle cx="291.6" cy="309.2" r="3.2" fill="#e21cd8"/>
<circle cx="240.0" cy="242.2" r="2.7" fill="#e21cd8"/>
<circle cx="256.7" cy="303.3" r="2.7" fill="#8c2ee0"/>
<circle cx="141.8" cy="261.1" r="2.6" fill="#8c2ee0"/>
<circle cx="219.2" cy="282.8" r="2.6" fill="#e21cd8"/>
<circle cx="332.9" cy="278.5" r="2.9" fill="#8c2ee0"/>
<circle cx="313.6" cy="287.8" r="2.9" fill="#8c2ee0"/>
<circle cx="270.5" cy="307.3" r="2.7" fill="#e21cd8"/>
<circle cx="131.0" cy="292.7" r="2.6" fill="#e21cd8"/>
<circle cx="129.8" cy="313.3" r="2.4" fill="#8c2ee0"/>
<circle cx="195.5" cy="288.4" r="2.9" fill="#e21cd8"/>
<circle cx="238.9" cy="287.0" r="2.7" fill="#e21cd8"/>
<circle cx="172.3" cy="316.2" r="2.6" fill="#8c2ee0"/>
<circle cx="170.9" cy="252.2" r="2.5" fill="#e21cd8"/>
<circle cx="126.7" cy="264.6" r="2.3" fill="#e21cd8"/>
<circle cx="225.0" cy="261.8" r="2.7" fill="#8c2ee0"/>
<circle cx="314.6" cy="292.1" r="2.5" fill="#e21cd8"/>
<circle cx="334.9" cy="288.1" r="2.3" fill="#8c2ee0"/>
<circle cx="234.9" cy="307.5" r="2.7" fill="#e21cd8"/>
<circle cx="222.9" cy="310.3" r="3.1" fill="#8c2ee0"/>
<circle cx="196.2" cy="313.2" r="2.6" fill="#8c2ee0"/>
<circle cx="164.8" cy="287.6" r="2.7" fill="#8c2ee0"/>
<circle cx="316.8" cy="299.0" r="2.4" fill="#e21cd8"/>
<circle cx="279.2" cy="311.6" r="2.8" fill="#e21cd8"/>
<circle cx="226.0" cy="252.9" r="2.5" fill="#8c2ee0"/>
<circle cx="303.7" cy="265.0" r="2.8" fill="#e21cd8"/>
<circle cx="298.3" cy="279.2" r="2.9" fill="#e21cd8"/>
<circle cx="231.9" cy="295.1" r="2.6" fill="#e21cd8"/>
<circle cx="312.1" cy="296.1" r="2.7" fill="#e21cd8"/>
<circle cx="184.5" cy="307.9" r="2.5" fill="#e21cd8"/>
<circle cx="243.7" cy="313.8" r="3.1" fill="#e21cd8"/>
<circle cx="263.8" cy="314.8" r="2.8" fill="#8c2ee0"/>
<circle cx="192.5" cy="322.4" r="2.9" fill="#8c2ee0"/>
<circle cx="292.3" cy="303.7" r="2.6" fill="#e21cd8"/>
<circle cx="251.7" cy="295.0" r="3.0" fill="#e21cd8"/>
<circle cx="336.5" cy="262.3" r="2.9" fill="#e21cd8"/>
<circle cx="233.3" cy="259.0" r="2.9" fill="#e21cd8"/>
<circle cx="187.4" cy="243.1" r="2.9" fill="#8c2ee0"/>
<circle cx="178.7" cy="274.4" r="2.9" fill="#8c2ee0"/>
<circle cx="282.1" cy="275.8" r="3.0" fill="#8c2ee0"/>
<circle cx="259.2" cy="242.1" r="2.4" fill="#e21cd8"/>
<circle cx="252.4" cy="265.8" r="2.7" fill="#e21cd8"/>
<circle cx="287.2" cy="245.3" r="2.8" fill="#e21cd8"/>
<circle cx="135.6" cy="311.2" r="2.7" fill="#8c2ee0"/>
<circle cx="304.4" cy="312.2" r="3.2" fill="#e21cd8"/>
<circle cx="291.8" cy="297.9" r="2.4" fill="#e21cd8"/>
<circle cx="171.1" cy="265.7" r="2.4" fill="#e21cd8"/>
<circle cx="145.9" cy="316.9" r="2.3" fill="#e21cd8"/>
<circle cx="206.0" cy="296.8" r="2.8" fill="#e21cd8"/>
<circle cx="212.3" cy="312.6" r="2.5" fill="#e21cd8"/>
<circle cx="173.5" cy="255.8" r="2.4" fill="#e21cd8"/>
<circle cx="267.6" cy="264.9" r="2.6" fill="#8c2ee0"/>
<circle cx="245.3" cy="295.9" r="2.4" fill="#e21cd8"/>
<circle cx="121.0" cy="243.4" r="2.3" fill="#8c2ee0"/>
<circle cx="115.1" cy="275.8" r="3.1" fill="#e21cd8"/>
<circle cx="325.9" cy="264.9" r="2.7" fill="#8c2ee0"/>
<circle cx="181.0" cy="304.1" r="2.5" fill="#e21cd8"/>
<circle cx="147.3" cy="246.7" r="2.8" fill="#e21cd8"/>
<circle cx="205.9" cy="243.9" r="3.1" fill="#8c2ee0"/>
<circle cx="287.5" cy="267.4" r="2.4" fill="#8c2ee0"/>
<circle cx="311.1" cy="258.3" r="2.5" fill="#8c2ee0"/>
<circle cx="150.0" cy="242.9" r="2.6" fill="#e21cd8"/>
<circle cx="176.9" cy="317.5" r="2.8" fill="#8c2ee0"/>
<circle cx="266.7" cy="298.4" r="2.4" fill="#8c2ee0"/>
<circle cx="299.9" cy="297.3" r="2.4" fill="#e21cd8"/>
<circle cx="327.1" cy="288.8" r="2.6" fill="#e21cd8"/>
<circle cx="225.2" cy="314.3" r="2.4" fill="#e21cd8"/>
<circle cx="193.7" cy="278.5" r="2.6" fill="#8c2ee0"/>
<circle cx="180.0" cy="280.6" r="2.3" fill="#8c2ee0"/>
<circle cx="126.1" cy="291.8" r="2.4" fill="#e21cd8"/>
<circle cx="131.1" cy="317.4" r="2.3" fill="#e21cd8"/>
<circle cx="199.9" cy="256.9" r="2.3" fill="#8c2ee0"/>
<circle cx="278.1" cy="278.5" r="2.9" fill="#e21cd8"/>
<circle cx="116.8" cy="321.7" r="2.5" fill="#e21cd8"/>
<circle cx="239.2" cy="315.8" r="2.7" fill="#8c2ee0"/>
<circle cx="130.9" cy="322.4" r="2.4" fill="#e21cd8"/>
<circle cx="197.6" cy="260.9" r="2.5" fill="#8c2ee0"/>
<circle cx="277.2" cy="256.4" r="2.8" fill="#e21cd8"/>
<circle cx="224.0" cy="257.6" r="2.6" fill="#e21cd8"/>
<circle cx="331.5" cy="291.8" r="2.4" fill="#e21cd8"/>
<circle cx="270.9" cy="298.1" r="2.5" fill="#e21cd8"/>
<circle cx="125.5" cy="304.8" r="2.4" fill="#e21cd8"/>
<circle cx="252.0" cy="288.4" r="2.7" fill="#e21cd8"/>
<circle cx="321.9" cy="273.3" r="3.1" fill="#8c2ee0"/>
<circle cx="185.3" cy="289.1" r="2.5" fill="#8c2ee0"/>
<circle cx="309.9" cy="320.6" r="2.3" fill="#e21cd8"/>
<circle cx="227.0" cy="308.0" r="2.4" fill="#e21cd8"/>
<circle cx="130.1" cy="254.6" r="2.5" fill="#e21cd8"/>
<circle cx="120.3" cy="303.0" r="2.3" fill="#8c2ee0"/>
<circle cx="158.0" cy="256.2" r="3.1" fill="#e21cd8"/>
<circle cx="318.6" cy="244.4" r="3.1" fill="#e21cd8"/>
<circle cx="227.6" cy="277.4" r="2.4" fill="#8c2ee0"/>
<circle cx="138.7" cy="283.1" r="2.4" fill="#e21cd8"/>
<circle cx="228.2" cy="268.0" r="2.4" fill="#8c2ee0"/>
<circle cx="138.8" cy="275.9" r="2.6" fill="#e21cd8"/>
<circle cx="172.7" cy="281.4" r="2.6" fill="#e21cd8"/>
<circle cx="261.1" cy="257.0" r="2.6" fill="#8c2ee0"/>
<circle cx="166.8" cy="253.7" r="2.3" fill="#e21cd8"/>
<circle cx="207.6" cy="302.1" r="2.3" fill="#e21cd8"/>
<circle cx="343.5" cy="275.0" r="3.1" fill="#e21cd8"/>
<circle cx="108.2" cy="306.3" r="2.3" fill="#e21cd8"/>
<circle cx="180.2" cy="286.4" r="2.5" fill="#e21cd8"/>
<circle cx="116.9" cy="290.3" r="2.4" fill="#e21cd8"/>
<circle cx="145.9" cy="312.6" r="2.5" fill="#e21cd8"/>
<circle cx="340.7" cy="304.8" r="2.3" fill="#e21cd8"/>
<circle cx="200.2" cy="314.9" r="2.3" fill="#e21cd8"/>
<circle cx="221.7" cy="288.5" r="2.5" fill="#8c2ee0"/>
<circle cx="234.1" cy="301.6" r="2.4" fill="#e21cd8"/>
<circle cx="286.8" cy="276.9" r="2.5" fill="#8c2ee0"/>
<circle cx="188.7" cy="286.1" r="2.5" fill="#8c2ee0"/>
<circle cx="179.4" cy="253.7" r="2.4" fill="#e21cd8"/>
<circle cx="343.9" cy="247.2" r="2.8" fill="#e21cd8"/>
<circle cx="108.4" cy="289.8" r="2.3" fill="#8c2ee0"/>
<circle cx="160.5" cy="271.4" r="2.4" fill="#e21cd8"/>
<circle cx="268.1" cy="281.7" r="2.4" fill="#e21cd8"/>
<circle cx="298.3" cy="255.9" r="2.4" fill="#8c2ee0"/>
<circle cx="297.6" cy="242.3" r="2.3" fill="#8c2ee0"/>
<circle cx="278.0" cy="303.4" r="2.3" fill="#8c2ee0"/>
<circle cx="308.4" cy="315.4" r="2.4" fill="#e21cd8"/>
<circle cx="202.1" cy="294.5" r="2.4" fill="#e21cd8"/>
<circle cx="235.5" cy="283.6" r="2.4" fill="#e21cd8"/>
<circle cx="155.5" cy="242.0" r="2.6" fill="#e21cd8"/>
<circle cx="268.2" cy="315.8" r="2.3" fill="#e21cd8"/>
<circle cx="207.3" cy="306.4" r="2.4" fill="#e21cd8"/>
<circle cx="157.7" cy="278.4" r="2.7" fill="#8c2ee0"/>
<circle cx="245.8" cy="279.0" r="2.3" fill="#e21cd8"/>
<circle cx="166.8" cy="268.5" r="2.4" fill="#8c2ee0"/>
<circle cx="152.9" cy="299.8" r="2.8" fill="#e21cd8"/>
<circle cx="218.7" cy="247.0" r="2.3" fill="#e21cd8"/>
<circle cx="322.8" cy="267.8" r="2.5" fill="#e21cd8"/>
<circle cx="195.5" cy="267.3" r="2.4" fill="#e21cd8"/>
<circle cx="243.0" cy="268.0" r="2.6" fill="#8c2ee0"/>
<circle cx="151.6" cy="281.4" r="2.4" fill="#e21cd8"/>
<circle cx="268.1" cy="252.9" r="2.4" fill="#e21cd8"/>
<circle cx="108.7" cy="245.8" r="2.5" fill="#8c2ee0"/>
<circle cx="153.6" cy="287.3" r="2.5" fill="#e21cd8"/>
<circle cx="248.9" cy="276.4" r="2.4" fill="#8c2ee0"/>
<circle cx="145.2" cy="264.1" r="2.5" fill="#8c2ee0"/>
<circle cx="199.5" cy="271.6" r="2.4" fill="#e21cd8"/>
<circle cx="184.8" cy="267.1" r="2.4" fill="#e21cd8"/>
<circle cx="232.7" cy="279.7" r="3.6" fill="url(#ws)" stroke="#a080b0" stroke-width="0.5"/>
<circle cx="290.9" cy="248.2" r="3.7" fill="url(#ws)" stroke="#a080b0" stroke-width="0.5"/>
<circle cx="222.4" cy="317.3" r="3.1" fill="url(#ws)" stroke="#a080b0" stroke-width="0.5"/>
<circle cx="125.0" cy="284.6" r="3.0" fill="url(#ws)" stroke="#a080b0" stroke-width="0.5"/>
<circle cx="178.6" cy="258.0" r="3.2" fill="url(#ws)" stroke="#a080b0" stroke-width="0.5"/>
<circle cx="282.8" cy="281.1" r="3.0" fill="url(#ws)" stroke="#a080b0" stroke-width="0.5"/>
<circle cx="304.3" cy="256.5" r="2.9" fill="url(#ws)" stroke="#a080b0" stroke-width="0.5"/>
<circle cx="276.3" cy="273.7" r="3.3" fill="url(#ws)" stroke="#a080b0" stroke-width="0.5"/>
<circle cx="238.4" cy="259.7" r="3.7" fill="url(#ws)" stroke="#a080b0" stroke-width="0.5"/>
<circle cx="343.6" cy="319.6" r="3.1" fill="url(#ws)" stroke="#a080b0" stroke-width="0.5"/>
<circle cx="196.8" cy="281.9" r="2.8" fill="url(#ws)" stroke="#a080b0" stroke-width="0.5"/>
<circle cx="212.4" cy="288.0" r="3.6" fill="url(#ws)" stroke="#a080b0" stroke-width="0.5"/>
<circle cx="272.8" cy="253.4" r="3.3" fill="url(#ws)" stroke="#a080b0" stroke-width="0.5"/>
<circle cx="287.2" cy="290.6" r="2.8" fill="url(#ws)" stroke="#a080b0" stroke-width="0.5"/>
<circle cx="124.4" cy="309.5" r="2.8" fill="url(#ws)" stroke="#a080b0" stroke-width="0.5"/>
<circle cx="287.8" cy="305.0" r="3.5" fill="url(#ws)" stroke="#a080b0" stroke-width="0.5"/>
<circle cx="312.4" cy="315.1" r="3.0" fill="url(#ws)" stroke="#a080b0" stroke-width="0.5"/>
<circle cx="285.6" cy="254.5" r="2.9" fill="url(#ws)" stroke="#a080b0" stroke-width="0.5"/>
<circle cx="234.0" cy="254.3" r="3.4" fill="url(#ws)" stroke="#a080b0" stroke-width="0.5"/>
<circle cx="136.0" cy="301.2" r="3.6" fill="url(#ws)" stroke="#a080b0" stroke-width="0.5"/>
<circle cx="126.2" cy="274.6" r="3.3" fill="url(#ws)" stroke="#a080b0" stroke-width="0.5"/>
<circle cx="190.9" cy="290.1" r="3.4" fill="url(#ws)" stroke="#a080b0" stroke-width="0.5"/>
<circle cx="213.2" cy="283.1" r="2.9" fill="url(#ws)" stroke="#a080b0" stroke-width="0.5"/>
<circle cx="279.6" cy="322.0" r="2.7" fill="url(#ws)" stroke="#a080b0" stroke-width="0.5"/>
<circle cx="325.1" cy="282.0" r="3.3" fill="url(#ws)" stroke="#a080b0" stroke-width="0.5"/>
<circle cx="184.6" cy="284.2" r="2.8" fill="url(#ws)" stroke="#a080b0" stroke-width="0.5"/>
<circle cx="237.2" cy="292.8" r="3.7" fill="url(#ws)" stroke="#a080b0" stroke-width="0.5"/>
<circle cx="265.1" cy="309.2" r="3.7" fill="url(#ws)" stroke="#a080b0" stroke-width="0.5"/>
<circle cx="307.7" cy="276.4" r="2.8" fill="url(#ws)" stroke="#a080b0" stroke-width="0.5"/>
<circle cx="203.4" cy="311.5" r="3.6" fill="url(#ws)" stroke="#a080b0" stroke-width="0.5"/>
<circle cx="182.5" cy="256.5" r="2.8" fill="url(#ws)" stroke="#a080b0" stroke-width="0.5"/>
<circle cx="312.4" cy="269.9" r="3.1" fill="url(#ws)" stroke="#a080b0" stroke-width="0.5"/>
<circle cx="311.0" cy="302.4" r="3.2" fill="url(#ws)" stroke="#a080b0" stroke-width="0.5"/>
<circle cx="277.7" cy="316.5" r="3.1" fill="url(#ws)" stroke="#a080b0" stroke-width="0.5"/>
<circle cx="333.0" cy="296.3" r="2.9" fill="url(#ws)" stroke="#a080b0" stroke-width="0.5"/>
<circle cx="219.2" cy="256.5" r="3.2" fill="url(#ws)" stroke="#a080b0" stroke-width="0.5"/>
<circle cx="259.3" cy="308.5" r="3.2" fill="url(#ws)" stroke="#a080b0" stroke-width="0.5"/>
<circle cx="230.7" cy="303.6" r="2.9" fill="url(#ws)" stroke="#a080b0" stroke-width="0.5"/>
<circle cx="127.9" cy="258.4" r="3.0" fill="url(#ws)" stroke="#a080b0" stroke-width="0.5"/>
<circle cx="220.6" cy="263.4" r="3.1" fill="url(#ws)" stroke="#a080b0" stroke-width="0.5"/>
<circle cx="315.5" cy="274.6" r="3.0" fill="url(#ws)" stroke="#a080b0" stroke-width="0.5"/>
<circle cx="256.6" cy="259.8" r="2.9" fill="url(#ws)" stroke="#a080b0" stroke-width="0.5"/>
<circle cx="240.5" cy="298.0" r="3.1" fill="url(#ws)" stroke="#a080b0" stroke-width="0.5"/>
<circle cx="252.8" cy="244.6" r="2.9" fill="url(#ws)" stroke="#a080b0" stroke-width="0.5"/>
<circle cx="125.2" cy="269.7" r="3.3" fill="url(#ws)" stroke="#a080b0" stroke-width="0.5"/>
<circle cx="295.2" cy="264.8" r="3.6" fill="url(#ws)" stroke="#a080b0" stroke-width="0.5"/>
<circle cx="136.1" cy="292.7" r="3.6" fill="url(#ws)" stroke="#a080b0" stroke-width="0.5"/>
<circle cx="121.7" cy="292.3" r="2.8" fill="url(#ws)" stroke="#a080b0" stroke-width="0.5"/>
<circle cx="248.3" cy="298.8" r="2.9" fill="url(#ws)" stroke="#a080b0" stroke-width="0.5"/>
<circle cx="145.9" cy="290.0" r="3.3" fill="url(#ws)" stroke="#a080b0" stroke-width="0.5"/>
<circle cx="294.1" cy="314.8" r="3.2" fill="url(#ws)" stroke="#a080b0" stroke-width="0.5"/>
<circle cx="149.7" cy="286.7" r="2.8" fill="url(#ws)" stroke="#a080b0" stroke-width="0.5"/>
<circle cx="291.3" cy="276.6" r="2.9" fill="url(#ws)" stroke="#a080b0" stroke-width="0.5"/>
<circle cx="270.1" cy="272.5" r="3.3" fill="url(#ws)" stroke="#a080b0" stroke-width="0.5"/>
<circle cx="132.9" cy="267.3" r="2.8" fill="url(#ws)" stroke="#a080b0" stroke-width="0.5"/>
<circle cx="196.5" cy="254.9" r="2.9" fill="url(#ws)" stroke="#a080b0" stroke-width="0.5"/>
<circle cx="183.7" cy="262.0" r="3.2" fill="url(#ws)" stroke="#a080b0" stroke-width="0.5"/>
<circle cx="156.5" cy="269.6" r="2.7" fill="url(#ws)" stroke="#a080b0" stroke-width="0.5"/>
<circle cx="313.5" cy="279.5" r="3.5" fill="url(#ws)" stroke="#a080b0" stroke-width="0.5"/>
<circle cx="306.1" cy="242.1" r="3.7" fill="url(#ws)" stroke="#a080b0" stroke-width="0.5"/>
<circle cx="200.9" cy="284.4" r="3.1" fill="url(#ws)" stroke="#a080b0" stroke-width="0.5"/>
<circle cx="162.1" cy="266.4" r="3.3" fill="url(#ws)" stroke="#a080b0" stroke-width="0.5"/>
<circle cx="308.6" cy="293.7" r="2.9" fill="url(#ws)" stroke="#a080b0" stroke-width="0.5"/>
<circle cx="150.1" cy="296.3" r="3.4" fill="url(#ws)" stroke="#a080b0" stroke-width="0.5"/>
<circle cx="293.8" cy="280.5" r="3.4" fill="url(#ws)" stroke="#a080b0" stroke-width="0.5"/>
<circle cx="267.1" cy="292.4" r="3.7" fill="url(#ws)" stroke="#a080b0" stroke-width="0.5"/>
<circle cx="292.3" cy="269.1" r="3.5" fill="url(#ws)" stroke="#a080b0" stroke-width="0.5"/>
<circle cx="196.7" cy="274.5" r="3.1" fill="url(#ws)" stroke="#a080b0" stroke-width="0.5"/>
<circle cx="141.3" cy="313.0" r="3.7" fill="url(#ws)" stroke="#a080b0" stroke-width="0.5"/>
<circle cx="260.1" cy="296.1" r="2.9" fill="url(#ws)" stroke="#a080b0" stroke-width="0.5"/>
<circle cx="339.6" cy="244.2" r="2.8" fill="url(#ws)" stroke="#a080b0" stroke-width="0.5"/>
<circle cx="187.0" cy="249.2" r="3.1" fill="url(#ws)" stroke="#a080b0" stroke-width="0.5"/>
<circle cx="160.8" cy="261.2" r="3.5" fill="url(#ws)" stroke="#a080b0" stroke-width="0.5"/>
<circle cx="321.5" cy="305.5" r="3.2" fill="url(#ws)" stroke="#a080b0" stroke-width="0.5"/>
<circle cx="338.2" cy="319.4" r="2.8" fill="url(#ws)" stroke="#a080b0" stroke-width="0.5"/>
<circle cx="162.4" cy="280.2" r="3.0" fill="url(#ws)" stroke="#a080b0" stroke-width="0.5"/>
<circle cx="130.7" cy="308.4" r="3.5" fill="url(#ws)" stroke="#a080b0" stroke-width="0.5"/>
<circle cx="269.1" cy="277.3" r="3.5" fill="url(#ws)" stroke="#a080b0" stroke-width="0.5"/>
<circle cx="147.6" cy="279.9" r="3.3" fill="url(#ws)" stroke="#a080b0" stroke-width="0.5"/>
<circle cx="137.5" cy="306.1" r="2.9" fill="url(#ws)" stroke="#a080b0" stroke-width="0.5"/>
<circle cx="188.8" cy="254.1" r="3.6" fill="url(#ws)" stroke="#a080b0" stroke-width="0.5"/>
<circle cx="326.6" cy="310.2" r="3.3" fill="url(#ws)" stroke="#a080b0" stroke-width="0.5"/>
<circle cx="200.4" cy="299.0" r="2.7" fill="url(#ws)" stroke="#a080b0" stroke-width="0.5"/>
<circle cx="290.4" cy="286.8" r="3.3" fill="url(#ws)" stroke="#a080b0" stroke-width="0.5"/>
<circle cx="285.0" cy="259.1" r="2.8" fill="url(#ws)" stroke="#a080b0" stroke-width="0.5"/>
<circle cx="220.8" cy="268.8" r="3.4" fill="url(#ws)" stroke="#a080b0" stroke-width="0.5"/>
<circle cx="296.6" cy="306.5" r="3.0" fill="url(#ws)" stroke="#a080b0" stroke-width="0.5"/>
<circle cx="279.4" cy="286.8" r="3.3" fill="url(#ws)" stroke="#a080b0" stroke-width="0.5"/>
<circle cx="160.8" cy="302.6" r="3.4" fill="url(#ws)" stroke="#a080b0" stroke-width="0.5"/>
<circle cx="214.3" cy="263.2" r="2.8" fill="url(#ws)" stroke="#a080b0" stroke-width="0.5"/>
<circle cx="259.7" cy="266.6" r="3.4" fill="url(#ws)" stroke="#a080b0" stroke-width="0.5"/>
<circle cx="167.9" cy="304.1" r="3.5" fill="url(#ws)" stroke="#a080b0" stroke-width="0.5"/>
<circle cx="204.0" cy="278.1" r="3.4" fill="url(#ws)" stroke="#a080b0" stroke-width="0.5"/>
<circle cx="142.6" cy="255.6" r="3.3" fill="url(#ws)" stroke="#a080b0" stroke-width="0.5"/>
<circle cx="169.4" cy="242.0" r="3.7" fill="url(#ws)" stroke="#a080b0" stroke-width="0.5"/>
<circle cx="115.6" cy="244.3" r="3.1" fill="url(#ws)" stroke="#a080b0" stroke-width="0.5"/>
<circle cx="201.5" cy="242.9" r="2.9" fill="url(#ws)" stroke="#a080b0" stroke-width="0.5"/>
<circle cx="256.5" cy="254.9" r="3.7" fill="url(#ws)" stroke="#a080b0" stroke-width="0.5"/>
<circle cx="241.8" cy="264.2" r="2.9" fill="url(#ws)" stroke="#a080b0" stroke-width="0.5"/>
<circle cx="175.9" cy="284.7" r="3.7" fill="url(#ws)" stroke="#a080b0" stroke-width="0.5"/>
<circle cx="221.3" cy="275.6" r="3.1" fill="url(#ws)" stroke="#a080b0" stroke-width="0.5"/>
<circle cx="287.5" cy="271.8" r="3.5" fill="url(#ws)" stroke="#a080b0" stroke-width="0.5"/>
<circle cx="129.9" cy="297.9" r="3.2" fill="url(#ws)" stroke="#a080b0" stroke-width="0.5"/>
<circle cx="334.7" cy="244.3" r="3.1" fill="url(#ws)" stroke="#a080b0" stroke-width="0.5"/>
<circle cx="180.6" cy="266.6" r="3.0" fill="url(#ws)" stroke="#a080b0" stroke-width="0.5"/>
<circle cx="343.2" cy="242.6" r="3.0" fill="url(#ws)" stroke="#a080b0" stroke-width="0.5"/>
<circle cx="173.5" cy="273.5" r="3.1" fill="url(#ws)" stroke="#a080b0" stroke-width="0.5"/>
<circle cx="204.9" cy="290.5" r="3.1" fill="url(#ws)" stroke="#a080b0" stroke-width="0.5"/>
<circle cx="249.9" cy="280.4" r="3.1" fill="url(#ws)" stroke="#a080b0" stroke-width="0.5"/>
<circle cx="184.0" cy="293.9" r="3.5" fill="url(#ws)" stroke="#a080b0" stroke-width="0.5"/>
<circle cx="145.1" cy="275.7" r="3.1" fill="url(#ws)" stroke="#a080b0" stroke-width="0.5"/>
<circle cx="321.9" cy="254.3" r="3.3" fill="url(#ws)" stroke="#a080b0" stroke-width="0.5"/>
<circle cx="342.1" cy="290.2" r="3.5" fill="url(#ws)" stroke="#a080b0" stroke-width="0.5"/>
<circle cx="325.5" cy="277.0" r="2.7" fill="url(#ws)" stroke="#a080b0" stroke-width="0.5"/>
<circle cx="310.0" cy="265.7" r="2.9" fill="url(#ws)" stroke="#a080b0" stroke-width="0.5"/>
<circle cx="276.2" cy="299.0" r="3.6" fill="url(#ws)" stroke="#a080b0" stroke-width="0.5"/>
<circle cx="118.0" cy="265.9" r="3.5" fill="url(#ws)" stroke="#a080b0" stroke-width="0.5"/>
<circle cx="230.6" cy="263.5" r="2.9" fill="url(#ws)" stroke="#a080b0" stroke-width="0.5"/>
<circle cx="214.4" cy="293.9" r="3.1" fill="url(#ws)" stroke="#a080b0" stroke-width="0.5"/>
<circle cx="119.0" cy="307.1" r="2.8" fill="url(#ws)" stroke="#a080b0" stroke-width="0.5"/>
<circle cx="242.6" cy="283.6" r="3.0" fill="url(#ws)" stroke="#a080b0" stroke-width="0.5"/>
<circle cx="244.4" cy="273.7" r="3.8" fill="url(#ws)" stroke="#a080b0" stroke-width="0.5"/>
<circle cx="256.1" cy="290.1" r="2.8" fill="url(#ws)" stroke="#a080b0" stroke-width="0.5"/>
<circle cx="192.6" cy="263.7" r="3.8" fill="url(#ws)" stroke="#a080b0" stroke-width="0.5"/>
<circle cx="284.1" cy="263.1" r="3.1" fill="url(#ws)" stroke="#a080b0" stroke-width="0.5"/>
<circle cx="111.4" cy="242.1" r="3.5" fill="url(#ws)" stroke="#a080b0" stroke-width="0.5"/>
<circle cx="290.1" cy="313.7" r="2.8" fill="url(#ws)" stroke="#a080b0" stroke-width="0.5"/>
<circle cx="291.4" cy="242.8" r="3.5" fill="url(#ws)" stroke="#a080b0" stroke-width="0.5"/>
<circle cx="160.2" cy="284.2" r="2.8" fill="url(#ws)" stroke="#a080b0" stroke-width="0.5"/>
<circle cx="333.9" cy="273.2" r="3.0" fill="url(#ws)" stroke="#a080b0" stroke-width="0.5"/>
<circle cx="313.8" cy="310.4" r="3.1" fill="url(#ws)" stroke="#a080b0" stroke-width="0.5"/>
<circle cx="300.0" cy="284.0" r="2.9" fill="url(#ws)" stroke="#a080b0" stroke-width="0.5"/>
<circle cx="146.9" cy="252.4" r="3.6" fill="url(#ws)" stroke="#a080b0" stroke-width="0.5"/>
<circle cx="153.1" cy="291.7" r="3.4" fill="url(#ws)" stroke="#a080b0" stroke-width="0.5"/>
<circle cx="136.2" cy="271.1" r="3.4" fill="url(#ws)" stroke="#a080b0" stroke-width="0.5"/>
<circle cx="120.4" cy="280.8" r="3.6" fill="url(#ws)" stroke="#a080b0" stroke-width="0.5"/>
<circle cx="286.9" cy="311.2" r="2.9" fill="url(#ws)" stroke="#a080b0" stroke-width="0.5"/>
<circle cx="318.0" cy="314.5" r="2.7" fill="url(#ws)" stroke="#a080b0" stroke-width="0.5"/>
<circle cx="239.2" cy="252.6" r="3.4" fill="url(#ws)" stroke="#a080b0" stroke-width="0.5"/>
<circle cx="258.2" cy="272.5" r="3.3" fill="url(#ws)" stroke="#a080b0" stroke-width="0.5"/>
<circle cx="140.6" cy="267.0" r="2.9" fill="url(#ws)" stroke="#a080b0" stroke-width="0.5"/>
<circle cx="230.8" cy="299.4" r="2.8" fill="url(#ws)" stroke="#a080b0" stroke-width="0.5"/>
<circle cx="260.8" cy="300.5" r="3.3" fill="url(#ws)" stroke="#a080b0" stroke-width="0.5"/>
<circle cx="304.3" cy="293.6" r="2.9" fill="url(#ws)" stroke="#a080b0" stroke-width="0.5"/>
<circle cx="302.1" cy="260.9" r="3.0" fill="url(#ws)" stroke="#a080b0" stroke-width="0.5"/>
<circle cx="203.8" cy="268.3" r="2.8" fill="url(#ws)" stroke="#a080b0" stroke-width="0.5"/>
<circle cx="232.7" cy="289.8" r="2.9" fill="url(#ws)" stroke="#a080b0" stroke-width="0.5"/>
<circle cx="324.2" cy="316.9" r="2.9" fill="url(#ws)" stroke="#a080b0" stroke-width="0.5"/>
<circle cx="192.8" cy="258.4" r="3.0" fill="url(#ws)" stroke="#a080b0" stroke-width="0.5"/>
<circle cx="108.0" cy="258.9" r="2.9" fill="url(#ws)" stroke="#a080b0" stroke-width="0.5"/>
<circle cx="176.6" cy="262.4" r="3.2" fill="url(#ws)" stroke="#a080b0" stroke-width="0.5"/>
<circle cx="330.6" cy="253.6" r="3.4" fill="url(#ws)" stroke="#a080b0" stroke-width="0.5"/>
<circle cx="308.7" cy="246.6" r="2.9" fill="url(#ws)" stroke="#a080b0" stroke-width="0.5"/>
<circle cx="300.7" cy="307.7" r="2.8" fill="url(#ws)" stroke="#a080b0" stroke-width="0.5"/>
<circle cx="265.1" cy="275.3" r="2.9" fill="url(#ws)" stroke="#a080b0" stroke-width="0.5"/>
<circle cx="332.8" cy="310.5" r="3.3" fill="url(#ws)" stroke="#a080b0" stroke-width="0.5"/>
<circle cx="177.6" cy="307.1" r="2.8" fill="url(#ws)" stroke="#a080b0" stroke-width="0.5"/>
<circle cx="128.9" cy="242.3" r="2.8" fill="url(#ws)" stroke="#a080b0" stroke-width="0.5"/>
<circle cx="146.1" cy="258.4" r="2.8" fill="url(#ws)" stroke="#a080b0" stroke-width="0.5"/>
<circle cx="306.4" cy="253.2" r="2.8" fill="url(#ws)" stroke="#a080b0" stroke-width="0.5"/>
<circle cx="239.3" cy="281.1" r="2.8" fill="url(#ws)" stroke="#a080b0" stroke-width="0.5"/>
<circle cx="141.3" cy="291.8" r="3.7" fill="url(#ws)" stroke="#a080b0" stroke-width="0.5"/>
<circle cx="328.6" cy="298.7" r="3.6" fill="url(#ws)" stroke="#a080b0" stroke-width="0.5"/>
<circle cx="333.9" cy="258.4" r="3.0" fill="url(#ws)" stroke="#a080b0" stroke-width="0.5"/>
<circle cx="192.7" cy="250.6" r="3.4" fill="url(#ws)" stroke="#a080b0" stroke-width="0.5"/>
<circle cx="228.0" cy="290.2" r="3.5" fill="url(#ws)" stroke="#a080b0" stroke-width="0.5"/>
<circle cx="251.4" cy="258.6" r="3.5" fill="url(#ws)" stroke="#a080b0" stroke-width="0.5"/>
<circle cx="120.5" cy="312.9" r="3.2" fill="url(#ws)" stroke="#a080b0" stroke-width="0.5"/>
<circle cx="139.9" cy="296.7" r="2.8" fill="url(#ws)" stroke="#a080b0" stroke-width="0.5"/>
<circle cx="151.6" cy="307.3" r="2.9" fill="url(#ws)" stroke="#a080b0" stroke-width="0.5"/>
<circle cx="290.2" cy="293.7" r="3.0" fill="url(#ws)" stroke="#a080b0" stroke-width="0.5"/>
<circle cx="274.3" cy="242.7" r="3.0" fill="url(#ws)" stroke="#a080b0" stroke-width="0.5"/>
<circle cx="309.6" cy="282.0" r="2.7" fill="url(#ws)" stroke="#a080b0" stroke-width="0.5"/>
<circle cx="250.0" cy="318.1" r="2.8" fill="url(#ws)" stroke="#a080b0" stroke-width="0.5"/>
<circle cx="255.1" cy="308.9" r="2.7" fill="url(#ws)" stroke="#a080b0" stroke-width="0.5"/>
<circle cx="307.5" cy="270.4" r="3.0" fill="url(#ws)" stroke="#a080b0" stroke-width="0.5"/>
<circle cx="167.2" cy="264.1" r="2.8" fill="url(#ws)" stroke="#a080b0" stroke-width="0.5"/>
<circle cx="165.1" cy="260.3" r="2.9" fill="url(#ws)" stroke="#a080b0" stroke-width="0.5"/>
<circle cx="290.5" cy="258.3" r="2.9" fill="url(#ws)" stroke="#a080b0" stroke-width="0.5"/>
<circle cx="164.8" cy="242.5" r="2.8" fill="url(#ws)" stroke="#a080b0" stroke-width="0.5"/>
<circle cx="172.7" cy="288.9" r="3.0" fill="url(#ws)" stroke="#a080b0" stroke-width="0.5"/>
<circle cx="235.6" cy="297.5" r="3.1" fill="url(#ws)" stroke="#a080b0" stroke-width="0.5"/>
<circle cx="181.7" cy="270.7" r="2.8" fill="url(#ws)" stroke="#a080b0" stroke-width="0.5"/>
<circle cx="280.7" cy="254.0" r="2.8" fill="url(#ws)" stroke="#a080b0" stroke-width="0.5"/>
<circle cx="199.9" cy="277.1" r="2.7" fill="url(#ws)" stroke="#a080b0" stroke-width="0.5"/>
<circle cx="183.0" cy="251.7" r="2.9" fill="url(#ws)" stroke="#a080b0" stroke-width="0.5"/>
<circle cx="172.3" cy="302.0" r="3.0" fill="url(#ws)" stroke="#a080b0" stroke-width="0.5"/>
<circle cx="144.7" cy="321.5" r="2.7" fill="url(#ws)" stroke="#a080b0" stroke-width="0.5"/>
<circle cx="248.5" cy="264.4" r="2.8" fill="url(#ws)" stroke="#a080b0" stroke-width="0.5"/>
<circle cx="277.5" cy="294.5" r="3.0" fill="url(#ws)" stroke="#a080b0" stroke-width="0.5"/>
<circle cx="179.8" cy="296.2" r="2.8" fill="url(#ws)" stroke="#a080b0" stroke-width="0.5"/>
<circle cx="215.0" cy="259.1" r="2.7" fill="url(#ws)" stroke="#a080b0" stroke-width="0.5"/>
<circle cx="188.2" cy="305.3" r="2.8" fill="url(#ws)" stroke="#a080b0" stroke-width="0.5"/>
<circle cx="318.3" cy="287.9" r="2.7" fill="url(#ws)" stroke="#a080b0" stroke-width="0.5"/>
<circle cx="227.3" cy="300.9" r="2.8" fill="url(#ws)" stroke="#a080b0" stroke-width="0.5"/>
<circle cx="241.9" cy="293.6" r="3.1" fill="url(#ws)" stroke="#a080b0" stroke-width="0.5"/>
<circle cx="124.4" cy="278.8" r="2.9" fill="url(#ws)" stroke="#a080b0" stroke-width="0.5"/>
<circle cx="193.4" cy="284.1" r="2.9" fill="url(#ws)" stroke="#a080b0" stroke-width="0.5"/>
<circle cx="156.6" cy="274.1" r="3.0" fill="url(#ws)" stroke="#a080b0" stroke-width="0.5"/>
<circle cx="332.9" cy="284.4" r="2.8" fill="url(#ws)" stroke="#a080b0" stroke-width="0.5"/>
<circle cx="237.5" cy="281.5" r="1.5" fill="#ee1020"/>
<circle cx="253.5" cy="272.1" r="1.4" fill="#ee1020"/>
<circle cx="264.1" cy="292.1" r="1.3" fill="#ee1020"/>
<circle cx="172.0" cy="290.8" r="1.4" fill="#ee1020"/>
<circle cx="206.9" cy="295.4" r="1.2" fill="#ee1020"/>
<circle cx="317.9" cy="263.1" r="1.5" fill="#ee1020"/>
<circle cx="329.3" cy="306.1" r="1.5" fill="#ee1020"/>
<circle cx="137.4" cy="274.7" r="1.2" fill="#ee1020"/>
<circle cx="286.6" cy="291.3" r="1.5" fill="#ee1020"/>
<circle cx="321.8" cy="316.1" r="1.5" fill="#ee1020"/>
<circle cx="267.1" cy="313.6" r="1.7" fill="#ee1020"/>
<circle cx="221.3" cy="243.0" r="1.2" fill="#ee1020"/>
<circle cx="253.2" cy="317.7" r="1.2" fill="#ee1020"/>
<circle cx="297.7" cy="285.2" r="1.1" fill="#ee1020"/>
<circle cx="187.9" cy="322.7" r="1.5" fill="#ee1020"/>
<circle cx="248.3" cy="295.7" r="1.3" fill="#ee1020"/>
<circle cx="201.3" cy="268.5" r="1.6" fill="#ee1020"/>
<circle cx="180.6" cy="266.9" r="1.1" fill="#ee1020"/>
<circle cx="281.1" cy="251.3" r="1.4" fill="#ee1020"/>
<circle cx="340.5" cy="318.3" r="1.6" fill="#ee1020"/>
<circle cx="192.9" cy="312.3" r="1.7" fill="#ee1020"/>
<circle cx="130.6" cy="318.9" r="1.4" fill="#ee1020"/>
<circle cx="259.4" cy="318.8" r="1.6" fill="#ee1020"/>
<circle cx="160.0" cy="248.5" r="1.6" fill="#ee1020"/>
<circle cx="178.8" cy="244.9" r="1.2" fill="#ee1020"/>
<circle cx="145.2" cy="283.7" r="1.1" fill="#ee1020"/>
<circle cx="315.5" cy="296.2" r="1.4" fill="#ee1020"/>
<circle cx="244.3" cy="270.9" r="1.2" fill="#ee1020"/>
<circle cx="243.5" cy="279.6" r="1.7" fill="#ee1020"/>
<circle cx="280.0" cy="297.3" r="1.3" fill="#ee1020"/>
<circle cx="207.3" cy="292.9" r="1.3" fill="#ee1020"/>
<circle cx="205.8" cy="322.8" r="1.2" fill="#ee1020"/>
<circle cx="330.4" cy="312.4" r="1.8" fill="#ee1020"/>
<circle cx="111.3" cy="321.8" r="1.6" fill="#ee1020"/>
<circle cx="139.0" cy="267.5" r="1.6" fill="#ee1020"/>
<circle cx="165.6" cy="274.9" r="1.8" fill="#ee1020"/>
<circle cx="233.2" cy="295.1" r="1.7" fill="#ee1020"/>
<circle cx="302.8" cy="255.1" r="1.2" fill="#ee1020"/>
<circle cx="272.9" cy="296.8" r="1.7" fill="#ee1020"/>
<circle cx="163.3" cy="254.2" r="1.7" fill="#ee1020"/>
<circle cx="308.1" cy="273.8" r="1.2" fill="#ee1020"/>
<circle cx="278.6" cy="260.3" r="1.3" fill="#ee1020"/>
<circle cx="270.2" cy="305.7" r="1.6" fill="#ee1020"/>
<circle cx="157.5" cy="244.2" r="1.4" fill="#ee1020"/>
<circle cx="211.2" cy="268.8" r="1.1" fill="#ee1020"/>
<circle cx="180.0" cy="283.1" r="1.1" fill="#ee1020"/>
<circle cx="183.1" cy="289.4" r="1.1" fill="#ee1020"/>
<circle cx="184.4" cy="257.2" r="1.2" fill="#ee1020"/>
<circle cx="148.4" cy="275.5" r="1.8" fill="#ee1020"/>
<circle cx="238.3" cy="247.5" r="1.8" fill="#ee1020"/>
<circle cx="297.6" cy="314.6" r="1.2" fill="#ee1020"/>
<circle cx="276.0" cy="283.1" r="1.6" fill="#ee1020"/>
<circle cx="126.1" cy="273.1" r="1.5" fill="#ee1020"/>
<circle cx="229.4" cy="285.3" r="1.3" fill="#ee1020"/>
<circle cx="316.2" cy="255.0" r="1.6" fill="#ee1020"/>
<circle cx="267.5" cy="244.6" r="1.2" fill="#ee1020"/>
<circle cx="147.2" cy="267.5" r="1.7" fill="#ee1020"/>
<circle cx="150.3" cy="280.6" r="1.7" fill="#ee1020"/>
<circle cx="212.1" cy="260.1" r="1.3" fill="#ee1020"/>
<circle cx="234.0" cy="252.5" r="1.5" fill="#ee1020"/>
<circle cx="112.5" cy="268.1" r="1.3" fill="#ee1020"/>
<circle cx="134.8" cy="254.8" r="1.2" fill="#ee1020"/>
<circle cx="334.6" cy="271.3" r="1.3" fill="#ee1020"/>
<circle cx="240.7" cy="306.5" r="1.2" fill="#ee1020"/>
<circle cx="245.5" cy="261.7" r="1.8" fill="#ee1020"/>
<circle cx="283.1" cy="281.3" r="1.1" fill="#ee1020"/>
<circle cx="198.0" cy="249.4" r="1.7" fill="#ee1020"/>
<circle cx="236.0" cy="242.2" r="1.3" fill="#ee1020"/>
<circle cx="325.5" cy="251.5" r="1.3" fill="#ee1020"/>
<circle cx="171.7" cy="277.6" r="1.6" fill="#ee1020"/>
<circle cx="149.3" cy="309.1" r="1.2" fill="#ee1020"/>
<circle cx="278.8" cy="294.2" r="1.4" fill="#ee1020"/>
<circle cx="297.9" cy="242.8" r="1.1" fill="#ee1020"/>
<circle cx="242.5" cy="259.9" r="1.5" fill="#ee1020"/>
<circle cx="166.8" cy="278.7" r="1.8" fill="#ee1020"/>
<circle cx="258.6" cy="254.1" r="1.3" fill="#ee1020"/>
<circle cx="118.2" cy="265.4" r="1.2" fill="#ee1020"/>
<circle cx="209.8" cy="272.4" r="1.4" fill="#ee1020"/>
<circle cx="246.4" cy="252.2" r="1.4" fill="#ee1020"/>
<circle cx="233.7" cy="313.2" r="1.3" fill="#ee1020"/>
<circle cx="318.7" cy="281.4" r="1.6" fill="#ee1020"/>
<circle cx="302.4" cy="300.4" r="1.2" fill="#ee1020"/>
<circle cx="141.8" cy="269.1" r="1.2" fill="#ee1020"/>
<circle cx="262.8" cy="278.8" r="1.4" fill="#ee1020"/>
<circle cx="229.7" cy="300.5" r="1.6" fill="#ee1020"/>
<circle cx="205.4" cy="306.3" r="1.7" fill="#ee1020"/>
<circle cx="218.5" cy="255.1" r="1.5" fill="#ee1020"/>
<circle cx="265.4" cy="296.1" r="1.5" fill="#ee1020"/>
<circle cx="264.2" cy="292.2" r="1.5" fill="#ee1020"/>
<circle cx="245.4" cy="252.4" r="1.5" fill="#ee1020"/>
<circle cx="112.1" cy="305.0" r="1.6" fill="#ee1020"/>
<circle cx="231.4" cy="288.4" r="1.1" fill="#ee1020"/>
<circle cx="263.2" cy="269.5" r="1.2" fill="#ee1020"/>
<circle cx="191.8" cy="299.2" r="1.6" fill="#ee1020"/>
<circle cx="252.6" cy="257.5" r="1.6" fill="#ee1020"/>
<circle cx="134.9" cy="306.8" r="1.5" fill="#ee1020"/>
<circle cx="133.0" cy="290.2" r="1.1" fill="#ee1020"/>
<circle cx="226.3" cy="298.6" r="1.1" fill="#ee1020"/>
<circle cx="293.6" cy="258.9" r="1.1" fill="#ee1020"/>
<circle cx="210.3" cy="300.9" r="1.6" fill="#ee1020"/>
<circle cx="243.1" cy="265.9" r="1.8" fill="#ee1020"/>
<circle cx="340.5" cy="252.9" r="1.3" fill="#ee1020"/>
<circle cx="263.8" cy="293.3" r="1.6" fill="#ee1020"/>
<circle cx="331.9" cy="280.9" r="1.7" fill="#ee1020"/>
<circle cx="237.5" cy="305.5" r="1.3" fill="#ee1020"/>
<circle cx="175.6" cy="242.6" r="1.2" fill="#ee1020"/>
<circle cx="218.8" cy="279.4" r="1.3" fill="#ee1020"/>
<circle cx="108.1" cy="256.2" r="1.5" fill="#ee1020"/>
<circle cx="224.2" cy="288.0" r="1.6" fill="#ee1020"/>
<circle cx="224.7" cy="277.0" r="1.2" fill="#ee1020"/>
<circle cx="330.5" cy="307.7" r="1.3" fill="#ee1020"/>
<circle cx="270.3" cy="289.4" r="1.6" fill="#ee1020"/>
<circle cx="268.6" cy="245.5" r="1.7" fill="#ee1020"/>
<circle cx="280.5" cy="281.0" r="1.5" fill="#ee1020"/>
<circle cx="147.8" cy="287.5" r="1.3" fill="#ee1020"/>
<circle cx="302.9" cy="321.5" r="1.4" fill="#ee1020"/>
<circle cx="192.7" cy="298.2" r="1.7" fill="#ee1020"/>
<circle cx="324.6" cy="292.7" r="1.3" fill="#ee1020"/>
<circle cx="235.6" cy="286.9" r="1.3" fill="#ee1020"/>
<circle cx="329.9" cy="249.0" r="1.4" fill="#ee1020"/>
<circle cx="314.5" cy="263.2" r="1.5" fill="#ee1020"/>
<circle cx="182.6" cy="298.3" r="1.1" fill="#ee1020"/>
<circle cx="207.4" cy="250.4" r="1.3" fill="#ee1020"/>
<circle cx="109.5" cy="261.2" r="1.2" fill="#ee1020"/>
<circle cx="226.9" cy="312.6" r="1.2" fill="#ee1020"/>
<circle cx="113.5" cy="315.0" r="1.5" fill="#ee1020"/>
<circle cx="248.5" cy="275.8" r="1.3" fill="#ee1020"/>
<circle cx="193.8" cy="262.1" r="1.1" fill="#ee1020"/>
<circle cx="292.8" cy="269.2" r="1.7" fill="#ee1020"/>
<circle cx="276.4" cy="282.4" r="1.4" fill="#ee1020"/>
<circle cx="330.3" cy="291.2" r="1.8" fill="#ee1020"/>
<circle cx="299.6" cy="268.4" r="1.2" fill="#ee1020"/>
<circle cx="246.1" cy="276.5" r="1.5" fill="#ee1020"/>
<circle cx="250.6" cy="281.7" r="1.5" fill="#ee1020"/>
<circle cx="303.7" cy="272.9" r="1.8" fill="#ee1020"/>
<circle cx="259.6" cy="254.1" r="1.7" fill="#ee1020"/>
<circle cx="254.0" cy="280.7" r="1.3" fill="#ee1020"/>
<circle cx="253.7" cy="295.1" r="1.3" fill="#ee1020"/>
<circle cx="154.9" cy="280.7" r="1.7" fill="#ee1020"/>
<circle cx="261.3" cy="258.6" r="1.3" fill="#ee1020"/>
<circle cx="280.9" cy="265.3" r="1.2" fill="#ee1020"/>
<circle cx="123.6" cy="305.0" r="1.2" fill="#ee1020"/>
<circle cx="160.9" cy="292.7" r="1.8" fill="#ee1020"/>
<circle cx="187.7" cy="249.8" r="1.3" fill="#ee1020"/>
<circle cx="122.2" cy="275.6" r="1.7" fill="#ee1020"/>
<circle cx="139.3" cy="249.6" r="1.3" fill="#ee1020"/>
<circle cx="208.0" cy="278.1" r="1.2" fill="#ee1020"/>
<circle cx="315.3" cy="259.3" r="1.6" fill="#ee1020"/>
<circle cx="259.9" cy="284.6" r="1.5" fill="#ee1020"/>
<circle cx="325.9" cy="322.8" r="1.6" fill="#ee1020"/>
<circle cx="273.6" cy="306.4" r="1.6" fill="#ee1020"/>
<circle cx="243.5" cy="242.1" r="1.6" fill="#ee1020"/>
<circle cx="320.9" cy="253.8" r="1.4" fill="#ee1020"/>
<circle cx="326.8" cy="301.7" r="1.2" fill="#ee1020"/>
<circle cx="287.7" cy="266.7" r="1.4" fill="#ee1020"/>
<circle cx="137.0" cy="253.1" r="1.8" fill="#ee1020"/>
<circle cx="324.4" cy="319.9" r="1.8" fill="#ee1020"/>
<circle cx="237.6" cy="292.8" r="1.4" fill="#ee1020"/>
<circle cx="133.9" cy="256.4" r="1.4" fill="#ee1020"/>
<circle cx="342.5" cy="266.3" r="1.5" fill="#ee1020"/>
<circle cx="176.0" cy="320.2" r="1.3" fill="#ee1020"/>
<circle cx="171.6" cy="271.2" r="1.1" fill="#ee1020"/>
<circle cx="248.1" cy="244.0" r="1.7" fill="#ee1020"/>
<circle cx="185.4" cy="242.5" r="1.6" fill="#ee1020"/>
<circle cx="334.4" cy="295.5" r="1.6" fill="#ee1020"/>
<circle cx="118.1" cy="305.6" r="1.3" fill="#ee1020"/>
<circle cx="334.0" cy="246.2" r="1.4" fill="#ee1020"/>
<circle cx="161.9" cy="311.4" r="1.3" fill="#ee1020"/>
<circle cx="119.0" cy="310.7" r="1.7" fill="#ee1020"/>
<circle cx="110.3" cy="297.4" r="1.7" fill="#ee1020"/>
<circle cx="307.2" cy="244.4" r="1.2" fill="#ee1020"/>
<circle cx="323.0" cy="312.1" r="1.7" fill="#ee1020"/>
<circle cx="334.2" cy="281.2" r="1.8" fill="#ee1020"/>
<circle cx="217.1" cy="290.6" r="1.6" fill="#ee1020"/>
<circle cx="142.9" cy="245.8" r="1.8" fill="#ee1020"/>
<circle cx="312.6" cy="316.6" r="1.7" fill="#ee1020"/>
<circle cx="298.5" cy="246.7" r="1.4" fill="#ee1020"/>
<circle cx="173.1" cy="318.1" r="1.1" fill="#ee1020"/>
<circle cx="239.1" cy="254.9" r="1.6" fill="#ee1020"/>
<circle cx="204.9" cy="305.7" r="1.8" fill="#ee1020"/>
<circle cx="312.8" cy="303.0" r="1.3" fill="#ee1020"/>
<circle cx="220.0" cy="309.6" r="1.6" fill="#ee1020"/>
<circle cx="187.3" cy="256.7" r="1.5" fill="#ee1020"/>
<circle cx="113.0" cy="252.0" r="6.8" fill="url(#bs)" stroke="#1a7fb5" stroke-width="0.4"/>
<circle cx="111.0" cy="268.0" r="6.6" fill="url(#bs)" stroke="#1a7fb5" stroke-width="0.4"/>
<circle cx="113.0" cy="283.0" r="6.6" fill="url(#bs)" stroke="#1a7fb5" stroke-width="0.4"/>
<circle cx="112.0" cy="298.0" r="6.8" fill="url(#bs)" stroke="#1a7fb5" stroke-width="0.4"/>
<circle cx="113.0" cy="312.0" r="6.6" fill="url(#bs)" stroke="#1a7fb5" stroke-width="0.4"/>
<circle cx="124.0" cy="320.0" r="7.2" fill="url(#bs)" stroke="#1a7fb5" stroke-width="0.4"/>
<circle cx="138.0" cy="320.0" r="6.6" fill="url(#bs)" stroke="#1a7fb5" stroke-width="0.4"/>
<circle cx="152.0" cy="322.0" r="6.9" fill="url(#bs)" stroke="#1a7fb5" stroke-width="0.4"/>
<circle cx="165.0" cy="320.0" r="6.6" fill="url(#bs)" stroke="#1a7fb5" stroke-width="0.4"/>
<circle cx="184.0" cy="321.0" r="7.2" fill="url(#bs)" stroke="#1a7fb5" stroke-width="0.4"/>
<circle cx="200.0" cy="322.0" r="6.9" fill="url(#bs)" stroke="#1a7fb5" stroke-width="0.4"/>
<circle cx="216.0" cy="321.0" r="6.6" fill="url(#bs)" stroke="#1a7fb5" stroke-width="0.4"/>
<circle cx="231.0" cy="320.0" r="7.2" fill="url(#bs)" stroke="#1a7fb5" stroke-width="0.4"/>
<circle cx="244.0" cy="322.0" r="6.8" fill="url(#bs)" stroke="#1a7fb5" stroke-width="0.4"/>
<circle cx="258.0" cy="320.0" r="7.2" fill="url(#bs)" stroke="#1a7fb5" stroke-width="0.4"/>
<circle cx="272.0" cy="322.0" r="6.8" fill="url(#bs)" stroke="#1a7fb5" stroke-width="0.4"/>
<circle cx="288.0" cy="321.0" r="6.6" fill="url(#bs)" stroke="#1a7fb5" stroke-width="0.4"/>
<circle cx="302.0" cy="320.0" r="7.2" fill="url(#bs)" stroke="#1a7fb5" stroke-width="0.4"/>
<circle cx="317.0" cy="322.0" r="6.9" fill="url(#bs)" stroke="#1a7fb5" stroke-width="0.4"/>
<circle cx="331.0" cy="320.0" r="6.9" fill="url(#bs)" stroke="#1a7fb5" stroke-width="0.4"/>
<circle cx="341.0" cy="312.0" r="6.6" fill="url(#bs)" stroke="#1a7fb5" stroke-width="0.4"/>
<circle cx="342.0" cy="298.0" r="6.6" fill="url(#bs)" stroke="#1a7fb5" stroke-width="0.4"/>
<circle cx="340.0" cy="282.0" r="6.9" fill="url(#bs)" stroke="#1a7fb5" stroke-width="0.4"/>
<circle cx="341.0" cy="268.0" r="6.6" fill="url(#bs)" stroke="#1a7fb5" stroke-width="0.4"/>
<circle cx="338.0" cy="252.0" r="6.8" fill="url(#bs)" stroke="#1a7fb5" stroke-width="0.4"/>
<circle cx="125.0" cy="249.0" r="6.6" fill="url(#bs)" stroke="#1a7fb5" stroke-width="0.4"/>
<circle cx="140.0" cy="247.0" r="6.6" fill="url(#bs)" stroke="#1a7fb5" stroke-width="0.4"/>
<circle cx="160.0" cy="249.0" r="6.6" fill="url(#bs)" stroke="#1a7fb5" stroke-width="0.4"/>
<circle cx="178.0" cy="246.0" r="7.2" fill="url(#bs)" stroke="#1a7fb5" stroke-width="0.4"/>
<circle cx="212.0" cy="249.0" r="6.6" fill="url(#bs)" stroke="#1a7fb5" stroke-width="0.4"/>
<circle cx="230.0" cy="246.0" r="6.9" fill="url(#bs)" stroke="#1a7fb5" stroke-width="0.4"/>
<circle cx="262.0" cy="249.0" r="6.8" fill="url(#bs)" stroke="#1a7fb5" stroke-width="0.4"/>
<circle cx="280.0" cy="247.0" r="6.6" fill="url(#bs)" stroke="#1a7fb5" stroke-width="0.4"/>
<circle cx="300.0" cy="249.0" r="6.9" fill="url(#bs)" stroke="#1a7fb5" stroke-width="0.4"/>
<circle cx="326.0" cy="247.0" r="7.2" fill="url(#bs)" stroke="#1a7fb5" stroke-width="0.4"/>
<circle cx="315.0" cy="251.0" r="6.6" fill="url(#bs)" stroke="#1a7fb5" stroke-width="0.4"/>
<circle cx="132.0" cy="280.0" r="7.2" fill="url(#bs)" stroke="#1a7fb5" stroke-width="0.4"/>
<circle cx="152.0" cy="262.0" r="6.8" fill="url(#bs)" stroke="#1a7fb5" stroke-width="0.4"/>
<circle cx="168.0" cy="296.0" r="6.9" fill="url(#bs)" stroke="#1a7fb5" stroke-width="0.4"/>
<circle cx="190.0" cy="272.0" r="6.8" fill="url(#bs)" stroke="#1a7fb5" stroke-width="0.4"/>
<circle cx="208.0" cy="256.0" r="7.2" fill="url(#bs)" stroke="#1a7fb5" stroke-width="0.4"/>
<circle cx="222.0" cy="296.0" r="6.8" fill="url(#bs)" stroke="#1a7fb5" stroke-width="0.4"/>
<circle cx="236.0" cy="270.0" r="6.9" fill="url(#bs)" stroke="#1a7fb5" stroke-width="0.4"/>
<circle cx="248.0" cy="250.0" r="6.8" fill="url(#bs)" stroke="#1a7fb5" stroke-width="0.4"/>
<circle cx="260.0" cy="283.0" r="6.8" fill="url(#bs)" stroke="#1a7fb5" stroke-width="0.4"/>
<circle cx="276.0" cy="264.0" r="7.2" fill="url(#bs)" stroke="#1a7fb5" stroke-width="0.4"/>
<circle cx="284.0" cy="298.0" r="6.9" fill="url(#bs)" stroke="#1a7fb5" stroke-width="0.4"/>
<circle cx="300.0" cy="272.0" r="6.8" fill="url(#bs)" stroke="#1a7fb5" stroke-width="0.4"/>
<circle cx="318.0" cy="262.0" r="7.2" fill="url(#bs)" stroke="#1a7fb5" stroke-width="0.4"/>
<circle cx="322.0" cy="294.0" r="6.9" fill="url(#bs)" stroke="#1a7fb5" stroke-width="0.4"/>
<circle cx="248.0" cy="306.0" r="6.6" fill="url(#bs)" stroke="#1a7fb5" stroke-width="0.4"/>
<circle cx="195.0" cy="305.0" r="6.6" fill="url(#bs)" stroke="#1a7fb5" stroke-width="0.4"/>
<circle cx="145.0" cy="305.0" r="6.6" fill="url(#bs)" stroke="#1a7fb5" stroke-width="0.4"/>
</g>
<rect x="38" y="325" width="40" height="14" fill="#fff"/>
<line x1="20" y1="333.5" x2="92" y2="333.5" stroke="#222" stroke-width="1"/>
<path d="M24,330.5 L18,333.5 L24,336.5" fill="none" stroke="#222" stroke-width="1"/>
<path d="M88,330.5 L94,333.5 L88,336.5" fill="none" stroke="#222" stroke-width="1"/>
<rect x="37" y="326" width="41" height="14" fill="#fff"/>
<text x="57.5" y="338" style='font-family:"Liberation Serif",serif;font-size:12.5px;font-weight:normal' fill="#111" text-anchor="middle" >1200 Å</text>
<line x1="9.5" y1="250.5" x2="9.5" y2="320.8" stroke="#222" stroke-width="1"/>
<path d="M6.5,254.5 L9.5,248.5 L12.5,254.5" fill="none" stroke="#222" stroke-width="1"/>
<path d="M6.5,316.8 L9.5,322.8 L12.5,316.8" fill="none" stroke="#222" stroke-width="1"/>
<rect x="1" y="262" width="13" height="40" fill="#fff"/>
<text transform="translate(11.8,281.4) rotate(-90)" style='font-family:"Liberation Serif",serif;font-size:12.5px' fill="#111" text-anchor="middle">1200 Å</text>
<line x1="108.6" y1="332" x2="337.5" y2="332" stroke="#222" stroke-width="1"/>
<path d="M112.6,329 L106.6,332 L112.6,335" fill="none" stroke="#222" stroke-width="1"/>
<path d="M333.5,329 L339.5,332 L333.5,335" fill="none" stroke="#222" stroke-width="1"/>
<rect x="201" y="327" width="44" height="12" fill="#fff"/>
<text x="223" y="337" style='font-family:"Liberation Serif",serif;font-size:12.5px;font-weight:normal' fill="#111" text-anchor="middle" >3600 Å</text>
<text x="350" y="215" style='font-family:"Liberation Sans",sans-serif;font-size:14px;font-weight:bold' fill="#111" text-anchor="start" >e</text>
<text x="367" y="215" style='font-family:"Liberation Serif",serif;font-size:15.6px;font-weight:normal' fill="#111" text-anchor="start" >- Hydrodyn</text>
<text x="376" y="232.5" style='font-family:"Liberation Serif",serif;font-size:15.6px;font-weight:normal' fill="#111" text-anchor="start" >radius</text>
<circle cx="392.8" cy="275.4" r="23.8" fill="#a39ef0" stroke="#5a5a90" stroke-width="1.1"/>
<circle cx="392.8" cy="275.4" r="10" fill="#5aa2ee"/>
<line x1="392.8" y1="275.4" x2="392.8" y2="299" stroke="#000" stroke-width="1.8"/>
<line x1="402.5" y1="274.5" x2="416.5" y2="274.5" stroke="#000" stroke-width="1.8"/>
<text x="417" y="270" style='font-family:"Liberation Serif",serif;font-size:13px;font-weight:normal' fill="#111" text-anchor="start" >δ<tspan dy="2" font-size="10">h</tspan></text>
<text x="417" y="284.5" style='font-family:"Liberation Serif",serif;font-size:12.5px;font-weight:normal' fill="#111" text-anchor="start" >water</text>
<text x="417" y="297.5" style='font-family:"Liberation Serif",serif;font-size:12.5px;font-weight:normal' fill="#111" text-anchor="start" >shell</text>
<text x="375" y="319" style='font-family:"Liberation Serif",serif;font-size:15.6px;font-weight:normal' fill="#111" text-anchor="start" >R<tspan dy="2" font-size="11">h</tspan><tspan dy="-2">(R,δ</tspan><tspan dy="2" font-size="11">h</tspan><tspan dy="-2">)</tspan></text>
<text x="375" y="337" style='font-family:"Liberation Serif",serif;font-size:15.6px;font-weight:normal' fill="#111" text-anchor="start" >γ<tspan dy="2" font-size="11">0</tspan><tspan dy="-2">(M,R</tspan><tspan dy="2" font-size="11">h</tspan><tspan dy="-2">)</tspan></text>
<text x="476" y="215" style='font-family:"Liberation Sans",sans-serif;font-size:14px;font-weight:bold' fill="#111" text-anchor="start" >d</text>
<text x="490" y="215" style='font-family:"Liberation Serif",serif;font-size:15.6px;font-weight:normal' fill="#111" text-anchor="start" >- Intermolecular</text>
<text x="498.6" y="232.5" style='font-family:"Liberation Serif",serif;font-size:15.6px;font-weight:normal' fill="#111" text-anchor="start" >potentials</text>
<text x="469" y="251" style='font-family:"Liberation Serif",serif;font-size:15.6px;font-weight:normal' fill="#111" text-anchor="start" >U<tspan dy="2" font-size="10">IJ</tspan></text>
<line x1="478" y1="340.7" x2="478" y2="262" stroke="#000" stroke-width="1.6"/><path d="M475,265 L478,255.5 L481,265 Z" fill="#000"/>
<line x1="478" y1="292.9" x2="563" y2="292.9" stroke="#000" stroke-width="1.6"/><path d="M560,289.9 L570,292.9 L560,295.9 Z" fill="#000"/>
<text x="578.5" y="303.6" style='font-family:"Liberation Serif",serif;font-size:15.6px;font-weight:normal' fill="#111" text-anchor="middle" >D</text>
<path d="M498.6,267 C499,290 502,320 511,323 C520,326 526,300 532,293.5 L558,293" fill="none" stroke="#5b9ee0" stroke-width="2.6"/>
<circle cx="544.4" cy="272.8" r="9.4" fill="#5b9ee0"/><circle cx="568.7" cy="272.8" r="9.4" fill="#5b9ee0"/><rect x="550" y="271.6" width="13" height="2.4" fill="#5b9ee0"/>
<line x1="503" y1="307.6" x2="520.3" y2="307.6" stroke="#000" stroke-width="1"/>
<path d="M507,305.0 L501,307.6 L507,310.20000000000005 Z" fill="#000"/>
<path d="M516.3,305.0 L522.3,307.6 L516.3,310.20000000000005 Z" fill="#000"/>
<line x1="543.5" y1="295.5" x2="543.5" y2="323.8" stroke="#000" stroke-width="1"/>
<path d="M540.9,299.5 L543.5,293.5 L546.1,299.5 Z" fill="#000"/>
<path d="M540.9,319.8 L543.5,325.8 L546.1,319.8 Z" fill="#000"/>
<text x="485" y="312" style='font-family:"Liberation Serif",serif;font-size:13px;font-weight:normal' fill="#111" text-anchor="start" >α<tspan dy="-5" font-size="9">-1</tspan></text>
<text x="551" y="313.5" style='font-family:"Liberation Serif",serif;font-size:13px;font-weight:normal' fill="#111" text-anchor="start" >ε</text>
<text x="8.5" y="379.2" style='font-family:"Liberation Sans",sans-serif;font-size:14px;font-weight:bold' fill="#111" text-anchor="start" >g</text>
<text x="22" y="378.7" style='font-family:"Liberation Serif",serif;font-size:15.6px;font-weight:normal' fill="#111" text-anchor="start" >- Experimental diffusion coefficients</text>
<rect x="39" y="406.6" width="236.60000000000002" height="155.29999999999995" fill="none" stroke="#666" stroke-width="0.9"/>
<line x1="39.0" y1="561.9" x2="39.0" y2="558.4" stroke="#666" stroke-width="0.8"/>
<line x1="39.0" y1="406.6" x2="39.0" y2="410.1" stroke="#666" stroke-width="0.8"/>
<line x1="56.8" y1="561.9" x2="56.8" y2="559.9" stroke="#666" stroke-width="0.8"/>
<line x1="56.8" y1="406.6" x2="56.8" y2="408.6" stroke="#666" stroke-width="0.8"/>
<line x1="67.2" y1="561.9" x2="67.2" y2="559.9" stroke="#666" stroke-width="0.8"/>
<line x1="67.2" y1="406.6" x2="67.2" y2="408.6" stroke="#666" stroke-width="0.8"/>
<line x1="74.6" y1="561.9" x2="74.6" y2="559.9" stroke="#666" stroke-width="0.8"/>
<line x1="74.6" y1="406.6" x2="74.6" y2="408.6" stroke="#666" stroke-width="0.8"/>
<line x1="80.3" y1="561.9" x2="80.3" y2="559.9" stroke="#666" stroke-width="0.8"/>
<line x1="80.3" y1="406.6" x2="80.3" y2="408.6" stroke="#666" stroke-width="0.8"/>
<line x1="85.0" y1="561.9" x2="85.0" y2="559.9" stroke="#666" stroke-width="0.8"/>
<line x1="85.0" y1="406.6" x2="85.0" y2="408.6" stroke="#666" stroke-width="0.8"/>
<line x1="89.0" y1="561.9" x2="89.0" y2="559.9" stroke="#666" stroke-width="0.8"/>
<line x1="89.0" y1="406.6" x2="89.0" y2="408.6" stroke="#666" stroke-width="0.8"/>
<line x1="92.4" y1="561.9" x2="92.4" y2="559.9" stroke="#666" stroke-width="0.8"/>
<line x1="92.4" y1="406.6" x2="92.4" y2="408.6" stroke="#666" stroke-width="0.8"/>
<line x1="95.4" y1="561.9" x2="95.4" y2="559.9" stroke="#666" stroke-width="0.8"/>
<line x1="95.4" y1="406.6" x2="95.4" y2="408.6" stroke="#666" stroke-width="0.8"/>
<line x1="98.2" y1="561.9" x2="98.2" y2="558.4" stroke="#666" stroke-width="0.8"/>
<line x1="98.2" y1="406.6" x2="98.2" y2="410.1" stroke="#666" stroke-width="0.8"/>
<line x1="116.0" y1="561.9" x2="116.0" y2="559.9" stroke="#666" stroke-width="0.8"/>
<line x1="116.0" y1="406.6" x2="116.0" y2="408.6" stroke="#666" stroke-width="0.8"/>
<line x1="126.4" y1="561.9" x2="126.4" y2="559.9" stroke="#666" stroke-width="0.8"/>
<line x1="126.4" y1="406.6" x2="126.4" y2="408.6" stroke="#666" stroke-width="0.8"/>
<line x1="133.8" y1="561.9" x2="133.8" y2="559.9" stroke="#666" stroke-width="0.8"/>
<line x1="133.8" y1="406.6" x2="133.8" y2="408.6" stroke="#666" stroke-width="0.8"/>
<line x1="139.5" y1="561.9" x2="139.5" y2="559.9" stroke="#666" stroke-width="0.8"/>
<line x1="139.5" y1="406.6" x2="139.5" y2="408.6" stroke="#666" stroke-width="0.8"/>
<line x1="144.2" y1="561.9" x2="144.2" y2="559.9" stroke="#666" stroke-width="0.8"/>
<line x1="144.2" y1="406.6" x2="144.2" y2="408.6" stroke="#666" stroke-width="0.8"/>
<line x1="148.1" y1="561.9" x2="148.1" y2="559.9" stroke="#666" stroke-width="0.8"/>
<line x1="148.1" y1="406.6" x2="148.1" y2="408.6" stroke="#666" stroke-width="0.8"/>
<line x1="151.6" y1="561.9" x2="151.6" y2="559.9" stroke="#666" stroke-width="0.8"/>
<line x1="151.6" y1="406.6" x2="151.6" y2="408.6" stroke="#666" stroke-width="0.8"/>
<line x1="154.6" y1="561.9" x2="154.6" y2="559.9" stroke="#666" stroke-width="0.8"/>
<line x1="154.6" y1="406.6" x2="154.6" y2="408.6" stroke="#666" stroke-width="0.8"/>
<line x1="157.3" y1="561.9" x2="157.3" y2="558.4" stroke="#666" stroke-width="0.8"/>
<line x1="157.3" y1="406.6" x2="157.3" y2="410.1" stroke="#666" stroke-width="0.8"/>
<line x1="175.1" y1="561.9" x2="175.1" y2="559.9" stroke="#666" stroke-width="0.8"/>
<line x1="175.1" y1="406.6" x2="175.1" y2="408.6" stroke="#666" stroke-width="0.8"/>
<line x1="185.5" y1="561.9" x2="185.5" y2="559.9" stroke="#666" stroke-width="0.8"/>
<line x1="185.5" y1="406.6" x2="185.5" y2="408.6" stroke="#666" stroke-width="0.8"/>
<line x1="192.9" y1="561.9" x2="192.9" y2="559.9" stroke="#666" stroke-width="0.8"/>
<line x1="192.9" y1="406.6" x2="192.9" y2="408.6" stroke="#666" stroke-width="0.8"/>
<line x1="198.6" y1="561.9" x2="198.6" y2="559.9" stroke="#666" stroke-width="0.8"/>
<line x1="198.6" y1="406.6" x2="198.6" y2="408.6" stroke="#666" stroke-width="0.8"/>
<line x1="203.3" y1="561.9" x2="203.3" y2="559.9" stroke="#666" stroke-width="0.8"/>
<line x1="203.3" y1="406.6" x2="203.3" y2="408.6" stroke="#666" stroke-width="0.8"/>
<line x1="207.3" y1="561.9" x2="207.3" y2="559.9" stroke="#666" stroke-width="0.8"/>
<line x1="207.3" y1="406.6" x2="207.3" y2="408.6" stroke="#666" stroke-width="0.8"/>
<line x1="210.7" y1="561.9" x2="210.7" y2="559.9" stroke="#666" stroke-width="0.8"/>
<line x1="210.7" y1="406.6" x2="210.7" y2="408.6" stroke="#666" stroke-width="0.8"/>
<line x1="213.7" y1="561.9" x2="213.7" y2="559.9" stroke="#666" stroke-width="0.8"/>
<line x1="213.7" y1="406.6" x2="213.7" y2="408.6" stroke="#666" stroke-width="0.8"/>
<line x1="216.5" y1="561.9" x2="216.5" y2="558.4" stroke="#666" stroke-width="0.8"/>
<line x1="216.5" y1="406.6" x2="216.5" y2="410.1" stroke="#666" stroke-width="0.8"/>
<line x1="234.3" y1="561.9" x2="234.3" y2="559.9" stroke="#666" stroke-width="0.8"/>
<line x1="234.3" y1="406.6" x2="234.3" y2="408.6" stroke="#666" stroke-width="0.8"/>
<line x1="244.7" y1="561.9" x2="244.7" y2="559.9" stroke="#666" stroke-width="0.8"/>
<line x1="244.7" y1="406.6" x2="244.7" y2="408.6" stroke="#666" stroke-width="0.8"/>
<line x1="252.1" y1="561.9" x2="252.1" y2="559.9" stroke="#666" stroke-width="0.8"/>
<line x1="252.1" y1="406.6" x2="252.1" y2="408.6" stroke="#666" stroke-width="0.8"/>
<line x1="257.8" y1="561.9" x2="257.8" y2="559.9" stroke="#666" stroke-width="0.8"/>
<line x1="257.8" y1="406.6" x2="257.8" y2="408.6" stroke="#666" stroke-width="0.8"/>
<line x1="262.5" y1="561.9" x2="262.5" y2="559.9" stroke="#666" stroke-width="0.8"/>
<line x1="262.5" y1="406.6" x2="262.5" y2="408.6" stroke="#666" stroke-width="0.8"/>
<line x1="266.4" y1="561.9" x2="266.4" y2="559.9" stroke="#666" stroke-width="0.8"/>
<line x1="266.4" y1="406.6" x2="266.4" y2="408.6" stroke="#666" stroke-width="0.8"/>
<line x1="269.9" y1="561.9" x2="269.9" y2="559.9" stroke="#666" stroke-width="0.8"/>
<line x1="269.9" y1="406.6" x2="269.9" y2="408.6" stroke="#666" stroke-width="0.8"/>
<line x1="272.9" y1="561.9" x2="272.9" y2="559.9" stroke="#666" stroke-width="0.8"/>
<line x1="272.9" y1="406.6" x2="272.9" y2="408.6" stroke="#666" stroke-width="0.8"/>
<line x1="39" y1="561.9" x2="42.5" y2="561.9" stroke="#666" stroke-width="0.7"/>
<line x1="275.6" y1="561.9" x2="272.1" y2="561.9" stroke="#666" stroke-width="0.7"/>
<line x1="39" y1="558.8" x2="40.6" y2="558.8" stroke="#666" stroke-width="0.7"/>
<line x1="275.6" y1="558.8" x2="274.0" y2="558.8" stroke="#666" stroke-width="0.7"/>
<line x1="39" y1="555.7" x2="40.6" y2="555.7" stroke="#666" stroke-width="0.7"/>
<line x1="275.6" y1="555.7" x2="274.0" y2="555.7" stroke="#666" stroke-width="0.7"/>
<line x1="39" y1="552.6" x2="40.6" y2="552.6" stroke="#666" stroke-width="0.7"/>
<line x1="275.6" y1="552.6" x2="274.0" y2="552.6" stroke="#666" stroke-width="0.7"/>
<line x1="39" y1="549.5" x2="40.6" y2="549.5" stroke="#666" stroke-width="0.7"/>
<line x1="275.6" y1="549.5" x2="274.0" y2="549.5" stroke="#666" stroke-width="0.7"/>
<line x1="39" y1="546.4" x2="40.6" y2="546.4" stroke="#666" stroke-width="0.7"/>
<line x1="275.6" y1="546.4" x2="274.0" y2="546.4" stroke="#666" stroke-width="0.7"/>
<line x1="39" y1="543.3" x2="40.6" y2="543.3" stroke="#666" stroke-width="0.7"/>
<line x1="275.6" y1="543.3" x2="274.0" y2="543.3" stroke="#666" stroke-width="0.7"/>
<line x1="39" y1="540.2" x2="40.6" y2="540.2" stroke="#666" stroke-width="0.7"/>
<line x1="275.6" y1="540.2" x2="274.0" y2="540.2" stroke="#666" stroke-width="0.7"/>
<line x1="39" y1="537.1" x2="40.6" y2="537.1" stroke="#666" stroke-width="0.7"/>
<line x1="275.6" y1="537.1" x2="274.0" y2="537.1" stroke="#666" stroke-width="0.7"/>
<line x1="39" y1="533.9" x2="40.6" y2="533.9" stroke="#666" stroke-width="0.7"/>
<line x1="275.6" y1="533.9" x2="274.0" y2="533.9" stroke="#666" stroke-width="0.7"/>
<line x1="39" y1="530.8" x2="42.5" y2="530.8" stroke="#666" stroke-width="0.7"/>
<line x1="275.6" y1="530.8" x2="272.1" y2="530.8" stroke="#666" stroke-width="0.7"/>
<line x1="39" y1="527.7" x2="40.6" y2="527.7" stroke="#666" stroke-width="0.7"/>
<line x1="275.6" y1="527.7" x2="274.0" y2="527.7" stroke="#666" stroke-width="0.7"/>
<line x1="39" y1="524.6" x2="40.6" y2="524.6" stroke="#666" stroke-width="0.7"/>
<line x1="275.6" y1="524.6" x2="274.0" y2="524.6" stroke="#666" stroke-width="0.7"/>
<line x1="39" y1="521.5" x2="40.6" y2="521.5" stroke="#666" stroke-width="0.7"/>
<line x1="275.6" y1="521.5" x2="274.0" y2="521.5" stroke="#666" stroke-width="0.7"/>
<line x1="39" y1="518.4" x2="40.6" y2="518.4" stroke="#666" stroke-width="0.7"/>
<line x1="275.6" y1="518.4" x2="274.0" y2="518.4" stroke="#666" stroke-width="0.7"/>
<line x1="39" y1="515.3" x2="40.6" y2="515.3" stroke="#666" stroke-width="0.7"/>
<line x1="275.6" y1="515.3" x2="274.0" y2="515.3" stroke="#666" stroke-width="0.7"/>
<line x1="39" y1="512.2" x2="40.6" y2="512.2" stroke="#666" stroke-width="0.7"/>
<line x1="275.6" y1="512.2" x2="274.0" y2="512.2" stroke="#666" stroke-width="0.7"/>
<line x1="39" y1="509.1" x2="40.6" y2="509.1" stroke="#666" stroke-width="0.7"/>
<line x1="275.6" y1="509.1" x2="274.0" y2="509.1" stroke="#666" stroke-width="0.7"/>
<line x1="39" y1="506.0" x2="40.6" y2="506.0" stroke="#666" stroke-width="0.7"/>
<line x1="275.6" y1="506.0" x2="274.0" y2="506.0" stroke="#666" stroke-width="0.7"/>
<line x1="39" y1="502.9" x2="40.6" y2="502.9" stroke="#666" stroke-width="0.7"/>
<line x1="275.6" y1="502.9" x2="274.0" y2="502.9" stroke="#666" stroke-width="0.7"/>
<line x1="39" y1="499.8" x2="42.5" y2="499.8" stroke="#666" stroke-width="0.7"/>
<line x1="275.6" y1="499.8" x2="272.1" y2="499.8" stroke="#666" stroke-width="0.7"/>
<line x1="39" y1="496.7" x2="40.6" y2="496.7" stroke="#666" stroke-width="0.7"/>
<line x1="275.6" y1="496.7" x2="274.0" y2="496.7" stroke="#666" stroke-width="0.7"/>
<line x1="39" y1="493.6" x2="40.6" y2="493.6" stroke="#666" stroke-width="0.7"/>
<line x1="275.6" y1="493.6" x2="274.0" y2="493.6" stroke="#666" stroke-width="0.7"/>
<line x1="39" y1="490.5" x2="40.6" y2="490.5" stroke="#666" stroke-width="0.7"/>
<line x1="275.6" y1="490.5" x2="274.0" y2="490.5" stroke="#666" stroke-width="0.7"/>
<line x1="39" y1="487.4" x2="40.6" y2="487.4" stroke="#666" stroke-width="0.7"/>
<line x1="275.6" y1="487.4" x2="274.0" y2="487.4" stroke="#666" stroke-width="0.7"/>
<line x1="39" y1="484.2" x2="40.6" y2="484.2" stroke="#666" stroke-width="0.7"/>
<line x1="275.6" y1="484.2" x2="274.0" y2="484.2" stroke="#666" stroke-width="0.7"/>
<line x1="39" y1="481.1" x2="40.6" y2="481.1" stroke="#666" stroke-width="0.7"/>
<line x1="275.6" y1="481.1" x2="274.0" y2="481.1" stroke="#666" stroke-width="0.7"/>
<line x1="39" y1="478.0" x2="40.6" y2="478.0" stroke="#666" stroke-width="0.7"/>
<line x1="275.6" y1="478.0" x2="274.0" y2="478.0" stroke="#666" stroke-width="0.7"/>
<line x1="39" y1="474.9" x2="40.6" y2="474.9" stroke="#666" stroke-width="0.7"/>
<line x1="275.6" y1="474.9" x2="274.0" y2="474.9" stroke="#666" stroke-width="0.7"/>
<line x1="39" y1="471.8" x2="40.6" y2="471.8" stroke="#666" stroke-width="0.7"/>
<line x1="275.6" y1="471.8" x2="274.0" y2="471.8" stroke="#666" stroke-width="0.7"/>
<line x1="39" y1="468.7" x2="42.5" y2="468.7" stroke="#666" stroke-width="0.7"/>
<line x1="275.6" y1="468.7" x2="272.1" y2="468.7" stroke="#666" stroke-width="0.7"/>
<line x1="39" y1="465.6" x2="40.6" y2="465.6" stroke="#666" stroke-width="0.7"/>
<line x1="275.6" y1="465.6" x2="274.0" y2="465.6" stroke="#666" stroke-width="0.7"/>
<line x1="39" y1="462.5" x2="40.6" y2="462.5" stroke="#666" stroke-width="0.7"/>
<line x1="275.6" y1="462.5" x2="274.0" y2="462.5" stroke="#666" stroke-width="0.7"/>
<line x1="39" y1="459.4" x2="40.6" y2="459.4" stroke="#666" stroke-width="0.7"/>
<line x1="275.6" y1="459.4" x2="274.0" y2="459.4" stroke="#666" stroke-width="0.7"/>
<line x1="39" y1="456.3" x2="40.6" y2="456.3" stroke="#666" stroke-width="0.7"/>
<line x1="275.6" y1="456.3" x2="274.0" y2="456.3" stroke="#666" stroke-width="0.7"/>
<line x1="39" y1="453.2" x2="40.6" y2="453.2" stroke="#666" stroke-width="0.7"/>
<line x1="275.6" y1="453.2" x2="274.0" y2="453.2" stroke="#666" stroke-width="0.7"/>
<line x1="39" y1="450.1" x2="40.6" y2="450.1" stroke="#666" stroke-width="0.7"/>
<line x1="275.6" y1="450.1" x2="274.0" y2="450.1" stroke="#666" stroke-width="0.7"/>
<line x1="39" y1="447.0" x2="40.6" y2="447.0" stroke="#666" stroke-width="0.7"/>
<line x1="275.6" y1="447.0" x2="274.0" y2="447.0" stroke="#666" stroke-width="0.7"/>
<line x1="39" y1="443.9" x2="40.6" y2="443.9" stroke="#666" stroke-width="0.7"/>
<line x1="275.6" y1="443.9" x2="274.0" y2="443.9" stroke="#666" stroke-width="0.7"/>
<line x1="39" y1="440.8" x2="40.6" y2="440.8" stroke="#666" stroke-width="0.7"/>
<line x1="275.6" y1="440.8" x2="274.0" y2="440.8" stroke="#666" stroke-width="0.7"/>
<line x1="39" y1="437.7" x2="42.5" y2="437.7" stroke="#666" stroke-width="0.7"/>
<line x1="275.6" y1="437.7" x2="272.1" y2="437.7" stroke="#666" stroke-width="0.7"/>
<line x1="39" y1="434.6" x2="40.6" y2="434.6" stroke="#666" stroke-width="0.7"/>
<line x1="275.6" y1="434.6" x2="274.0" y2="434.6" stroke="#666" stroke-width="0.7"/>
<line x1="39" y1="431.4" x2="40.6" y2="431.4" stroke="#666" stroke-width="0.7"/>
<line x1="275.6" y1="431.4" x2="274.0" y2="431.4" stroke="#666" stroke-width="0.7"/>
<line x1="39" y1="428.3" x2="40.6" y2="428.3" stroke="#666" stroke-width="0.7"/>
<line x1="275.6" y1="428.3" x2="274.0" y2="428.3" stroke="#666" stroke-width="0.7"/>
<line x1="39" y1="425.2" x2="40.6" y2="425.2" stroke="#666" stroke-width="0.7"/>
<line x1="275.6" y1="425.2" x2="274.0" y2="425.2" stroke="#666" stroke-width="0.7"/>
<line x1="39" y1="422.1" x2="40.6" y2="422.1" stroke="#666" stroke-width="0.7"/>
<line x1="275.6" y1="422.1" x2="274.0" y2="422.1" stroke="#666" stroke-width="0.7"/>
<line x1="39" y1="419.0" x2="40.6" y2="419.0" stroke="#666" stroke-width="0.7"/>
<line x1="275.6" y1="419.0" x2="274.0" y2="419.0" stroke="#666" stroke-width="0.7"/>
<line x1="39" y1="415.9" x2="40.6" y2="415.9" stroke="#666" stroke-width="0.7"/>
<line x1="275.6" y1="415.9" x2="274.0" y2="415.9" stroke="#666" stroke-width="0.7"/>
<line x1="39" y1="412.8" x2="40.6" y2="412.8" stroke="#666" stroke-width="0.7"/>
<line x1="275.6" y1="412.8" x2="274.0" y2="412.8" stroke="#666" stroke-width="0.7"/>
<line x1="39" y1="409.7" x2="40.6" y2="409.7" stroke="#666" stroke-width="0.7"/>
<line x1="275.6" y1="409.7" x2="274.0" y2="409.7" stroke="#666" stroke-width="0.7"/>
<line x1="39" y1="406.6" x2="42.5" y2="406.6" stroke="#666" stroke-width="0.7"/>
<line x1="275.6" y1="406.6" x2="272.1" y2="406.6" stroke="#666" stroke-width="0.7"/>
<text x="32.5" y="565.9" style='font-family:"Liberation Serif",serif;font-size:14.3px;font-weight:normal' fill="#111" text-anchor="end" >0</text>
<text x="32.5" y="534.84" style='font-family:"Liberation Serif",serif;font-size:14.3px;font-weight:normal' fill="#111" text-anchor="end" >2</text>
<text x="32.5" y="503.78" style='font-family:"Liberation Serif",serif;font-size:14.3px;font-weight:normal' fill="#111" text-anchor="end" >4</text>
<text x="32.5" y="472.72" style='font-family:"Liberation Serif",serif;font-size:14.3px;font-weight:normal' fill="#111" text-anchor="end" >6</text>
<text x="32.5" y="441.66" style='font-family:"Liberation Serif",serif;font-size:14.3px;font-weight:normal' fill="#111" text-anchor="end" >8</text>
<text x="32.5" y="410.6" style='font-family:"Liberation Serif",serif;font-size:14.3px;font-weight:normal' fill="#111" text-anchor="end" >10</text>
<text x="39.7" y="582.6" style='font-family:"Liberation Serif",serif;font-size:14.3px;font-weight:normal' fill="#111" text-anchor="middle" >10<tspan dy="-6" font-size="10">0</tspan></text>
<text x="98.85000000000001" y="582.6" style='font-family:"Liberation Serif",serif;font-size:14.3px;font-weight:normal' fill="#111" text-anchor="middle" >10<tspan dy="-6" font-size="10">1</tspan></text>
<text x="158.0" y="582.6" style='font-family:"Liberation Serif",serif;font-size:14.3px;font-weight:normal' fill="#111" text-anchor="middle" >10<tspan dy="-6" font-size="10">2</tspan></text>
<text x="217.15" y="582.6" style='font-family:"Liberation Serif",serif;font-size:14.3px;font-weight:normal' fill="#111" text-anchor="middle" >10<tspan dy="-6" font-size="10">3</tspan></text>
<text x="276.3" y="582.6" style='font-family:"Liberation Serif",serif;font-size:14.3px;font-weight:normal' fill="#111" text-anchor="middle" >10<tspan dy="-6" font-size="10">4</tspan></text>
<text x="139.5" y="595.5" style='font-family:"Liberation Serif",serif;font-size:14.6px;font-weight:normal' fill="#111" text-anchor="start" >R<tspan dy="3" font-size="10.5">h</tspan><tspan dy="-3">(Å)</tspan></text>
<text transform="translate(11.5,483.7) rotate(-90)" style='font-family:"Liberation Serif",serif;font-size:15.6px' fill="#111" text-anchor="middle">ln(D<tspan dy="3" font-size="11">0</tspan><tspan dy="-3">/D</tspan><tspan dy="3" font-size="11">cyto</tspan><tspan dy="-3">)</tspan></text>
<path d="M39,554.8 C42.5,554.2 51.5,553.4 60,551.5 C68.5,549.6 81.6,546.2 89.9,543.3 C98.2,540.4 104.0,537.2 109.8,534.1 C115.6,531.0 119.8,528.5 124.8,524.6 C129.8,520.7 134.7,516.3 139.7,510.9 C144.7,505.5 149.7,499.0 154.7,492.2 C159.7,485.4 164.6,476.9 169.6,469.8 C174.6,462.8 179.6,455.3 184.6,449.9 C189.6,444.5 194.4,440.6 199.5,437.4 C204.6,434.2 209.1,432.0 215,430.5 C220.9,429.0 225.0,428.7 235,428.3 C245.0,427.9 268.3,428.1 275,428" fill="none" stroke="#7ee84a" stroke-width="1.6"/>
<circle cx="48.3" cy="561" r="2.4" fill="#86e050"/>
<circle cx="82.4" cy="529.6" r="2.4" fill="#86e050"/>
<circle cx="124.8" cy="513.4" r="2.4" fill="#86e050"/>
<circle cx="131" cy="507.2" r="2.4" fill="#86e050"/>
<circle cx="132.2" cy="509.7" r="2.4" fill="#86e050"/>
<circle cx="133.5" cy="512.2" r="2.4" fill="#86e050"/>
<circle cx="136" cy="510.9" r="2.4" fill="#86e050"/>
<circle cx="124.8" cy="520.9" r="2.4" fill="#86e050"/>
<circle cx="125.3" cy="524.6" r="2.4" fill="#86e050"/>
<circle cx="124.8" cy="528.9" r="2.4" fill="#86e050"/>
<circle cx="131" cy="528.9" r="2.4" fill="#86e050"/>
<circle cx="136.7" cy="528.1" r="2.4" fill="#86e050"/>
<circle cx="128.5" cy="518.9" r="2.4" fill="#86e050"/>
<circle cx="138" cy="518.9" r="2.4" fill="#86e050"/>
<circle cx="146.7" cy="487.5" r="2.4" fill="#86e050"/>
<circle cx="150.2" cy="507.7" r="2.4" fill="#86e050"/>
<circle cx="162.6" cy="484.5" r="2.4" fill="#86e050"/>
<circle cx="169.1" cy="460.9" r="2.4" fill="#86e050"/>
<circle cx="199.5" cy="434.2" r="2.4" fill="#86e050"/>
<circle cx="216.8" cy="437.5" r="2.4" fill="#86e050"/>
<circle cx="223.1" cy="432.3" r="2.4" fill="#86e050"/>
<circle cx="224.9" cy="438.6" r="2.4" fill="#86e050"/>
<circle cx="230.5" cy="434" r="2.4" fill="#86e050"/>
<circle cx="232.3" cy="429.8" r="2.4" fill="#86e050"/>
<circle cx="242.1" cy="424.9" r="2.4" fill="#86e050"/>
<circle cx="249.9" cy="426.3" r="2.4" fill="#86e050"/>
<text x="331" y="379.0" style='font-family:"Liberation Sans",sans-serif;font-size:14px;font-weight:bold' fill="#111" text-anchor="start" >h</text>
<text x="347.3" y="379.7" style='font-family:"Liberation Serif",serif;font-size:15.6px;font-weight:normal' fill="#111" text-anchor="start" >- Intermolecular potential parameters</text>
<rect x="329.6" y="409.3" width="217.89999999999998" height="150.99999999999994" fill="none" stroke="#666" stroke-width="0.9"/>
<line x1="329.6" y1="560.3" x2="329.6" y2="556.8" stroke="#666" stroke-width="0.7"/>
<line x1="329.6" y1="409.3" x2="329.6" y2="412.8" stroke="#666" stroke-width="0.7"/>
<line x1="335.0" y1="560.3" x2="335.0" y2="558.6999999999999" stroke="#666" stroke-width="0.7"/>
<line x1="335.0" y1="409.3" x2="335.0" y2="410.90000000000003" stroke="#666" stroke-width="0.7"/>
<line x1="340.5" y1="560.3" x2="340.5" y2="558.6999999999999" stroke="#666" stroke-width="0.7"/>
<line x1="340.5" y1="409.3" x2="340.5" y2="410.90000000000003" stroke="#666" stroke-width="0.7"/>
<line x1="345.9" y1="560.3" x2="345.9" y2="558.6999999999999" stroke="#666" stroke-width="0.7"/>
<line x1="345.9" y1="409.3" x2="345.9" y2="410.90000000000003" stroke="#666" stroke-width="0.7"/>
<line x1="351.4" y1="560.3" x2="351.4" y2="558.6999999999999" stroke="#666" stroke-width="0.7"/>
<line x1="351.4" y1="409.3" x2="351.4" y2="410.90000000000003" stroke="#666" stroke-width="0.7"/>
<line x1="356.8" y1="560.3" x2="356.8" y2="558.6999999999999" stroke="#666" stroke-width="0.7"/>
<line x1="356.8" y1="409.3" x2="356.8" y2="410.90000000000003" stroke="#666" stroke-width="0.7"/>
<line x1="362.3" y1="560.3" x2="362.3" y2="558.6999999999999" stroke="#666" stroke-width="0.7"/>
<line x1="362.3" y1="409.3" x2="362.3" y2="410.90000000000003" stroke="#666" stroke-width="0.7"/>
<line x1="367.7" y1="560.3" x2="367.7" y2="558.6999999999999" stroke="#666" stroke-width="0.7"/>
<line x1="367.7" y1="409.3" x2="367.7" y2="410.90000000000003" stroke="#666" stroke-width="0.7"/>
<line x1="373.2" y1="560.3" x2="373.2" y2="558.6999999999999" stroke="#666" stroke-width="0.7"/>
<line x1="373.2" y1="409.3" x2="373.2" y2="410.90000000000003" stroke="#666" stroke-width="0.7"/>
<line x1="378.6" y1="560.3" x2="378.6" y2="558.6999999999999" stroke="#666" stroke-width="0.7"/>
<line x1="378.6" y1="409.3" x2="378.6" y2="410.90000000000003" stroke="#666" stroke-width="0.7"/>
<line x1="384.1" y1="560.3" x2="384.1" y2="556.8" stroke="#666" stroke-width="0.7"/>
<line x1="384.1" y1="409.3" x2="384.1" y2="412.8" stroke="#666" stroke-width="0.7"/>
<line x1="389.5" y1="560.3" x2="389.5" y2="558.6999999999999" stroke="#666" stroke-width="0.7"/>
<line x1="389.5" y1="409.3" x2="389.5" y2="410.90000000000003" stroke="#666" stroke-width="0.7"/>
<line x1="395.0" y1="560.3" x2="395.0" y2="558.6999999999999" stroke="#666" stroke-width="0.7"/>
<line x1="395.0" y1="409.3" x2="395.0" y2="410.90000000000003" stroke="#666" stroke-width="0.7"/>
<line x1="400.4" y1="560.3" x2="400.4" y2="558.6999999999999" stroke="#666" stroke-width="0.7"/>
<line x1="400.4" y1="409.3" x2="400.4" y2="410.90000000000003" stroke="#666" stroke-width="0.7"/>
<line x1="405.9" y1="560.3" x2="405.9" y2="558.6999999999999" stroke="#666" stroke-width="0.7"/>
<line x1="405.9" y1="409.3" x2="405.9" y2="410.90000000000003" stroke="#666" stroke-width="0.7"/>
<line x1="411.3" y1="560.3" x2="411.3" y2="558.6999999999999" stroke="#666" stroke-width="0.7"/>
<line x1="411.3" y1="409.3" x2="411.3" y2="410.90000000000003" stroke="#666" stroke-width="0.7"/>
<line x1="416.8" y1="560.3" x2="416.8" y2="558.6999999999999" stroke="#666" stroke-width="0.7"/>
<line x1="416.8" y1="409.3" x2="416.8" y2="410.90000000000003" stroke="#666" stroke-width="0.7"/>
<line x1="422.2" y1="560.3" x2="422.2" y2="558.6999999999999" stroke="#666" stroke-width="0.7"/>
<line x1="422.2" y1="409.3" x2="422.2" y2="410.90000000000003" stroke="#666" stroke-width="0.7"/>
<line x1="427.7" y1="560.3" x2="427.7" y2="558.6999999999999" stroke="#666" stroke-width="0.7"/>
<line x1="427.7" y1="409.3" x2="427.7" y2="410.90000000000003" stroke="#666" stroke-width="0.7"/>
<line x1="433.1" y1="560.3" x2="433.1" y2="558.6999999999999" stroke="#666" stroke-width="0.7"/>
<line x1="433.1" y1="409.3" x2="433.1" y2="410.90000000000003" stroke="#666" stroke-width="0.7"/>
<line x1="438.6" y1="560.3" x2="438.6" y2="556.8" stroke="#666" stroke-width="0.7"/>
<line x1="438.6" y1="409.3" x2="438.6" y2="412.8" stroke="#666" stroke-width="0.7"/>
<line x1="444.0" y1="560.3" x2="444.0" y2="558.6999999999999" stroke="#666" stroke-width="0.7"/>
<line x1="444.0" y1="409.3" x2="444.0" y2="410.90000000000003" stroke="#666" stroke-width="0.7"/>
<line x1="449.4" y1="560.3" x2="449.4" y2="558.6999999999999" stroke="#666" stroke-width="0.7"/>
<line x1="449.4" y1="409.3" x2="449.4" y2="410.90000000000003" stroke="#666" stroke-width="0.7"/>
<line x1="454.9" y1="560.3" x2="454.9" y2="558.6999999999999" stroke="#666" stroke-width="0.7"/>
<line x1="454.9" y1="409.3" x2="454.9" y2="410.90000000000003" stroke="#666" stroke-width="0.7"/>
<line x1="460.3" y1="560.3" x2="460.3" y2="558.6999999999999" stroke="#666" stroke-width="0.7"/>
<line x1="460.3" y1="409.3" x2="460.3" y2="410.90000000000003" stroke="#666" stroke-width="0.7"/>
<line x1="465.8" y1="560.3" x2="465.8" y2="558.6999999999999" stroke="#666" stroke-width="0.7"/>
<line x1="465.8" y1="409.3" x2="465.8" y2="410.90000000000003" stroke="#666" stroke-width="0.7"/>
<line x1="471.2" y1="560.3" x2="471.2" y2="558.6999999999999" stroke="#666" stroke-width="0.7"/>
<line x1="471.2" y1="409.3" x2="471.2" y2="410.90000000000003" stroke="#666" stroke-width="0.7"/>
<line x1="476.7" y1="560.3" x2="476.7" y2="558.6999999999999" stroke="#666" stroke-width="0.7"/>
<line x1="476.7" y1="409.3" x2="476.7" y2="410.90000000000003" stroke="#666" stroke-width="0.7"/>
<line x1="482.1" y1="560.3" x2="482.1" y2="558.6999999999999" stroke="#666" stroke-width="0.7"/>
<line x1="482.1" y1="409.3" x2="482.1" y2="410.90000000000003" stroke="#666" stroke-width="0.7"/>
<line x1="487.6" y1="560.3" x2="487.6" y2="558.6999999999999" stroke="#666" stroke-width="0.7"/>
<line x1="487.6" y1="409.3" x2="487.6" y2="410.90000000000003" stroke="#666" stroke-width="0.7"/>
<line x1="493.0" y1="560.3" x2="493.0" y2="556.8" stroke="#666" stroke-width="0.7"/>
<line x1="493.0" y1="409.3" x2="493.0" y2="412.8" stroke="#666" stroke-width="0.7"/>
<line x1="498.5" y1="560.3" x2="498.5" y2="558.6999999999999" stroke="#666" stroke-width="0.7"/>
<line x1="498.5" y1="409.3" x2="498.5" y2="410.90000000000003" stroke="#666" stroke-width="0.7"/>
<line x1="503.9" y1="560.3" x2="503.9" y2="558.6999999999999" stroke="#666" stroke-width="0.7"/>
<line x1="503.9" y1="409.3" x2="503.9" y2="410.90000000000003" stroke="#666" stroke-width="0.7"/>
<line x1="509.4" y1="560.3" x2="509.4" y2="558.6999999999999" stroke="#666" stroke-width="0.7"/>
<line x1="509.4" y1="409.3" x2="509.4" y2="410.90000000000003" stroke="#666" stroke-width="0.7"/>
<line x1="514.8" y1="560.3" x2="514.8" y2="558.6999999999999" stroke="#666" stroke-width="0.7"/>
<line x1="514.8" y1="409.3" x2="514.8" y2="410.90000000000003" stroke="#666" stroke-width="0.7"/>
<line x1="520.3" y1="560.3" x2="520.3" y2="558.6999999999999" stroke="#666" stroke-width="0.7"/>
<line x1="520.3" y1="409.3" x2="520.3" y2="410.90000000000003" stroke="#666" stroke-width="0.7"/>
<line x1="525.7" y1="560.3" x2="525.7" y2="558.6999999999999" stroke="#666" stroke-width="0.7"/>
<line x1="525.7" y1="409.3" x2="525.7" y2="410.90000000000003" stroke="#666" stroke-width="0.7"/>
<line x1="531.2" y1="560.3" x2="531.2" y2="558.6999999999999" stroke="#666" stroke-width="0.7"/>
<line x1="531.2" y1="409.3" x2="531.2" y2="410.90000000000003" stroke="#666" stroke-width="0.7"/>
<line x1="536.6" y1="560.3" x2="536.6" y2="558.6999999999999" stroke="#666" stroke-width="0.7"/>
<line x1="536.6" y1="409.3" x2="536.6" y2="410.90000000000003" stroke="#666" stroke-width="0.7"/>
<line x1="542.1" y1="560.3" x2="542.1" y2="558.6999999999999" stroke="#666" stroke-width="0.7"/>
<line x1="542.1" y1="409.3" x2="542.1" y2="410.90000000000003" stroke="#666" stroke-width="0.7"/>
<line x1="547.5" y1="560.3" x2="547.5" y2="556.8" stroke="#666" stroke-width="0.7"/>
<line x1="547.5" y1="409.3" x2="547.5" y2="412.8" stroke="#666" stroke-width="0.7"/>
<line x1="329.6" y1="560.3" x2="333.1" y2="560.3" stroke="#666" stroke-width="0.7"/>
<line x1="329.6" y1="558.0" x2="331.0" y2="558.0" stroke="#666" stroke-width="0.7"/>
<line x1="329.6" y1="555.7" x2="331.0" y2="555.7" stroke="#666" stroke-width="0.7"/>
<line x1="329.6" y1="553.4" x2="331.0" y2="553.4" stroke="#666" stroke-width="0.7"/>
<line x1="329.6" y1="551.1" x2="331.0" y2="551.1" stroke="#666" stroke-width="0.7"/>
<line x1="329.6" y1="548.8" x2="331.8" y2="548.8" stroke="#666" stroke-width="0.7"/>
<line x1="329.6" y1="546.6" x2="331.0" y2="546.6" stroke="#666" stroke-width="0.7"/>
<line x1="329.6" y1="544.3" x2="331.0" y2="544.3" stroke="#666" stroke-width="0.7"/>
<line x1="329.6" y1="542.0" x2="331.0" y2="542.0" stroke="#666" stroke-width="0.7"/>
<line x1="329.6" y1="539.7" x2="331.0" y2="539.7" stroke="#666" stroke-width="0.7"/>
<line x1="329.6" y1="537.4" x2="333.1" y2="537.4" stroke="#666" stroke-width="0.7"/>
<line x1="329.6" y1="535.1" x2="331.0" y2="535.1" stroke="#666" stroke-width="0.7"/>
<line x1="329.6" y1="532.8" x2="331.0" y2="532.8" stroke="#666" stroke-width="0.7"/>
<line x1="329.6" y1="530.5" x2="331.0" y2="530.5" stroke="#666" stroke-width="0.7"/>
<line x1="329.6" y1="528.2" x2="331.0" y2="528.2" stroke="#666" stroke-width="0.7"/>
<line x1="329.6" y1="525.9" x2="331.8" y2="525.9" stroke="#666" stroke-width="0.7"/>
<line x1="329.6" y1="523.7" x2="331.0" y2="523.7" stroke="#666" stroke-width="0.7"/>
<line x1="329.6" y1="521.4" x2="331.0" y2="521.4" stroke="#666" stroke-width="0.7"/>
<line x1="329.6" y1="519.1" x2="331.0" y2="519.1" stroke="#666" stroke-width="0.7"/>
<line x1="329.6" y1="516.8" x2="331.0" y2="516.8" stroke="#666" stroke-width="0.7"/>
<line x1="329.6" y1="514.5" x2="333.1" y2="514.5" stroke="#666" stroke-width="0.7"/>
<line x1="329.6" y1="512.2" x2="331.0" y2="512.2" stroke="#666" stroke-width="0.7"/>
<line x1="329.6" y1="509.9" x2="331.0" y2="509.9" stroke="#666" stroke-width="0.7"/>
<line x1="329.6" y1="507.6" x2="331.0" y2="507.6" stroke="#666" stroke-width="0.7"/>
<line x1="329.6" y1="505.3" x2="331.0" y2="505.3" stroke="#666" stroke-width="0.7"/>
<line x1="329.6" y1="503.0" x2="331.8" y2="503.0" stroke="#666" stroke-width="0.7"/>
<line x1="329.6" y1="500.8" x2="331.0" y2="500.8" stroke="#666" stroke-width="0.7"/>
<line x1="329.6" y1="498.5" x2="331.0" y2="498.5" stroke="#666" stroke-width="0.7"/>
<line x1="329.6" y1="496.2" x2="331.0" y2="496.2" stroke="#666" stroke-width="0.7"/>
<line x1="329.6" y1="493.9" x2="331.0" y2="493.9" stroke="#666" stroke-width="0.7"/>
<line x1="329.6" y1="491.6" x2="333.1" y2="491.6" stroke="#666" stroke-width="0.7"/>
<line x1="329.6" y1="489.3" x2="331.0" y2="489.3" stroke="#666" stroke-width="0.7"/>
<line x1="329.6" y1="487.0" x2="331.0" y2="487.0" stroke="#666" stroke-width="0.7"/>
<line x1="329.6" y1="484.7" x2="331.0" y2="484.7" stroke="#666" stroke-width="0.7"/>
<line x1="329.6" y1="482.4" x2="331.0" y2="482.4" stroke="#666" stroke-width="0.7"/>
<line x1="329.6" y1="480.1" x2="331.8" y2="480.1" stroke="#666" stroke-width="0.7"/>
<line x1="329.6" y1="477.9" x2="331.0" y2="477.9" stroke="#666" stroke-width="0.7"/>
<line x1="329.6" y1="475.6" x2="331.0" y2="475.6" stroke="#666" stroke-width="0.7"/>
<line x1="329.6" y1="473.3" x2="331.0" y2="473.3" stroke="#666" stroke-width="0.7"/>
<line x1="329.6" y1="471.0" x2="331.0" y2="471.0" stroke="#666" stroke-width="0.7"/>
<line x1="329.6" y1="468.7" x2="333.1" y2="468.7" stroke="#666" stroke-width="0.7"/>
<line x1="329.6" y1="466.4" x2="331.0" y2="466.4" stroke="#666" stroke-width="0.7"/>
<line x1="329.6" y1="464.1" x2="331.0" y2="464.1" stroke="#666" stroke-width="0.7"/>
<line x1="329.6" y1="461.8" x2="331.0" y2="461.8" stroke="#666" stroke-width="0.7"/>
<line x1="329.6" y1="459.5" x2="331.0" y2="459.5" stroke="#666" stroke-width="0.7"/>
<line x1="329.6" y1="457.2" x2="331.8" y2="457.2" stroke="#666" stroke-width="0.7"/>
<line x1="329.6" y1="455.0" x2="331.0" y2="455.0" stroke="#666" stroke-width="0.7"/>
<line x1="329.6" y1="452.7" x2="331.0" y2="452.7" stroke="#666" stroke-width="0.7"/>
<line x1="329.6" y1="450.4" x2="331.0" y2="450.4" stroke="#666" stroke-width="0.7"/>
<line x1="329.6" y1="448.1" x2="331.0" y2="448.1" stroke="#666" stroke-width="0.7"/>
<line x1="329.6" y1="445.8" x2="333.1" y2="445.8" stroke="#666" stroke-width="0.7"/>
<line x1="329.6" y1="443.5" x2="331.0" y2="443.5" stroke="#666" stroke-width="0.7"/>
<line x1="329.6" y1="441.2" x2="331.0" y2="441.2" stroke="#666" stroke-width="0.7"/>
<line x1="329.6" y1="438.9" x2="331.0" y2="438.9" stroke="#666" stroke-width="0.7"/>
<line x1="329.6" y1="436.6" x2="331.0" y2="436.6" stroke="#666" stroke-width="0.7"/>
<line x1="329.6" y1="434.3" x2="331.8" y2="434.3" stroke="#666" stroke-width="0.7"/>
<line x1="329.6" y1="432.1" x2="331.0" y2="432.1" stroke="#666" stroke-width="0.7"/>
<line x1="329.6" y1="429.8" x2="331.0" y2="429.8" stroke="#666" stroke-width="0.7"/>
<line x1="329.6" y1="427.5" x2="331.0" y2="427.5" stroke="#666" stroke-width="0.7"/>
<line x1="329.6" y1="425.2" x2="331.0" y2="425.2" stroke="#666" stroke-width="0.7"/>
<line x1="329.6" y1="422.9" x2="333.1" y2="422.9" stroke="#666" stroke-width="0.7"/>
<line x1="329.6" y1="420.6" x2="331.0" y2="420.6" stroke="#666" stroke-width="0.7"/>
<line x1="329.6" y1="418.3" x2="331.0" y2="418.3" stroke="#666" stroke-width="0.7"/>
<line x1="329.6" y1="416.0" x2="331.0" y2="416.0" stroke="#666" stroke-width="0.7"/>
<line x1="329.6" y1="413.7" x2="331.0" y2="413.7" stroke="#666" stroke-width="0.7"/>
<line x1="329.6" y1="411.4" x2="331.8" y2="411.4" stroke="#666" stroke-width="0.7"/>
<line x1="547.5" y1="557.3" x2="545.9" y2="557.3" stroke="#666" stroke-width="0.7"/>
<line x1="547.5" y1="552.2" x2="545.9" y2="552.2" stroke="#666" stroke-width="0.7"/>
<line x1="547.5" y1="547.1" x2="545.9" y2="547.1" stroke="#666" stroke-width="0.7"/>
<line x1="547.5" y1="542.0" x2="545.9" y2="542.0" stroke="#666" stroke-width="0.7"/>
<line x1="547.5" y1="536.9" x2="545.9" y2="536.9" stroke="#666" stroke-width="0.7"/>
<line x1="547.5" y1="531.8" x2="545.9" y2="531.8" stroke="#666" stroke-width="0.7"/>
<line x1="547.5" y1="526.7" x2="545.9" y2="526.7" stroke="#666" stroke-width="0.7"/>
<line x1="547.5" y1="521.6" x2="545.9" y2="521.6" stroke="#666" stroke-width="0.7"/>
<line x1="547.5" y1="516.5" x2="545.9" y2="516.5" stroke="#666" stroke-width="0.7"/>
<line x1="547.5" y1="511.4" x2="544.0" y2="511.4" stroke="#666" stroke-width="0.7"/>
<line x1="547.5" y1="506.3" x2="545.9" y2="506.3" stroke="#666" stroke-width="0.7"/>
<line x1="547.5" y1="501.2" x2="545.9" y2="501.2" stroke="#666" stroke-width="0.7"/>
<line x1="547.5" y1="496.0" x2="545.9" y2="496.0" stroke="#666" stroke-width="0.7"/>
<line x1="547.5" y1="490.9" x2="545.9" y2="490.9" stroke="#666" stroke-width="0.7"/>
<line x1="547.5" y1="485.8" x2="545.9" y2="485.8" stroke="#666" stroke-width="0.7"/>
<line x1="547.5" y1="480.7" x2="545.9" y2="480.7" stroke="#666" stroke-width="0.7"/>
<line x1="547.5" y1="475.6" x2="545.9" y2="475.6" stroke="#666" stroke-width="0.7"/>
<line x1="547.5" y1="470.5" x2="545.9" y2="470.5" stroke="#666" stroke-width="0.7"/>
<line x1="547.5" y1="465.4" x2="545.9" y2="465.4" stroke="#666" stroke-width="0.7"/>
<line x1="547.5" y1="460.3" x2="544.0" y2="460.3" stroke="#666" stroke-width="0.7"/>
<line x1="547.5" y1="455.2" x2="545.9" y2="455.2" stroke="#666" stroke-width="0.7"/>
<line x1="547.5" y1="450.1" x2="545.9" y2="450.1" stroke="#666" stroke-width="0.7"/>
<line x1="547.5" y1="445.0" x2="545.9" y2="445.0" stroke="#666" stroke-width="0.7"/>
<line x1="547.5" y1="439.9" x2="545.9" y2="439.9" stroke="#666" stroke-width="0.7"/>
<line x1="547.5" y1="434.8" x2="545.9" y2="434.8" stroke="#666" stroke-width="0.7"/>
<line x1="547.5" y1="429.7" x2="545.9" y2="429.7" stroke="#666" stroke-width="0.7"/>
<line x1="547.5" y1="424.6" x2="545.9" y2="424.6" stroke="#666" stroke-width="0.7"/>
<line x1="547.5" y1="419.5" x2="545.9" y2="419.5" stroke="#666" stroke-width="0.7"/>
<line x1="547.5" y1="414.4" x2="545.9" y2="414.4" stroke="#666" stroke-width="0.7"/>
<line x1="547.5" y1="409.3" x2="544.0" y2="409.3" stroke="#666" stroke-width="0.7"/>
<text x="322" y="564.8" style='font-family:"Liberation Serif",serif;font-size:14.3px;font-weight:normal' fill="#111" text-anchor="end" >0</text>
<text x="322" y="541.9" style='font-family:"Liberation Serif",serif;font-size:14.3px;font-weight:normal' fill="#111" text-anchor="end" >10</text>
<text x="322" y="519.0" style='font-family:"Liberation Serif",serif;font-size:14.3px;font-weight:normal' fill="#111" text-anchor="end" >20</text>
<text x="322" y="496.09999999999997" style='font-family:"Liberation Serif",serif;font-size:14.3px;font-weight:normal' fill="#111" text-anchor="end" >30</text>
<text x="322" y="473.19999999999993" style='font-family:"Liberation Serif",serif;font-size:14.3px;font-weight:normal' fill="#111" text-anchor="end" >40</text>
<text x="322" y="450.29999999999995" style='font-family:"Liberation Serif",serif;font-size:14.3px;font-weight:normal' fill="#111" text-anchor="end" >50</text>
<text x="322" y="427.4" style='font-family:"Liberation Serif",serif;font-size:14.3px;font-weight:normal' fill="#111" text-anchor="end" >60</text>
<text x="551" y="515.56" style='font-family:"Liberation Serif",serif;font-size:14.3px;font-weight:normal' fill="#111" text-anchor="start" >0.2</text>
<text x="551" y="464.52" style='font-family:"Liberation Serif",serif;font-size:14.3px;font-weight:normal' fill="#111" text-anchor="start" >0.4</text>
<text x="551" y="413.47999999999996" style='font-family:"Liberation Serif",serif;font-size:14.3px;font-weight:normal' fill="#111" text-anchor="start" >0.6</text>
<text x="330.6" y="580.8" style='font-family:"Liberation Serif",serif;font-size:14.3px;font-weight:normal' fill="#111" text-anchor="middle" >0</text>
<text x="387.07500000000005" y="580.8" style='font-family:"Liberation Serif",serif;font-size:14.3px;font-weight:normal' fill="#111" text-anchor="middle" >100</text>
<text x="441.05" y="580.8" style='font-family:"Liberation Serif",serif;font-size:14.3px;font-weight:normal' fill="#111" text-anchor="middle" >200</text>
<text x="494.025" y="580.8" style='font-family:"Liberation Serif",serif;font-size:14.3px;font-weight:normal' fill="#111" text-anchor="middle" >300</text>
<text x="547.8" y="580.8" style='font-family:"Liberation Serif",serif;font-size:14.3px;font-weight:normal' fill="#111" text-anchor="middle" >400</text>
<text x="437.5" y="597.5" style='font-family:"Liberation Serif",serif;font-size:14.6px;font-weight:normal' fill="#111" text-anchor="middle" >R (Å)</text>
<text transform="translate(299.3,484.7) rotate(-90)" style='font-family:"Liberation Serif",serif;font-size:14.6px' fill="#111" text-anchor="middle">ε<tspan dy="3" font-size="10.5">I I</tspan><tspan dy="-3"> (kcal/mol)</tspan></text>
<text transform="translate(589,487) rotate(-90)" style='font-family:"Liberation Serif",serif;font-size:16.5px' fill="#111" text-anchor="middle">α<tspan dy="3" font-size="11.5">I I</tspan><tspan dy="-3"> (Å</tspan><tspan dy="-6" font-size="11">-1</tspan><tspan dy="6">)</tspan></text>
<path d="M332.3,409.5 C332.8,425 334,436 341.6,440 C348,443 360,444.5 380,445.5 C420,446.5 480,447 547.5,447.2" fill="none" stroke="#7eea50" stroke-width="1.1"/>
<path d="M331.3,444 C332,456 333.5,467 338.3,473 C342,477 348,479 366.5,480.6 C400,481.6 450,482 547.5,482.2" fill="none" stroke="#444" stroke-width="1"/>
<line x1="330.5" y1="560.3" x2="546.7" y2="454" stroke="#444" stroke-width="1"/>
<path d="M330.5,560 L340,556.5 L547.5,537.8" fill="none" stroke="#7eea50" stroke-width="1.2"/>
<text x="520.5" y="444.5" style='font-family:"Liberation Serif",serif;font-size:8px;font-weight:normal' fill="#7ee84a" text-anchor="start" >α<tspan dy="-4" font-size="6">*</tspan></text>
<text x="520.5" y="480" style='font-family:"Liberation Serif",serif;font-size:8px;font-weight:normal' fill="#444" text-anchor="start" >α<tspan dy="2" font-size="6">0</tspan></text>
<text x="431" y="517.5" style='font-family:"Liberation Serif",serif;font-size:8px;font-weight:normal' fill="#444" text-anchor="start" >ε<tspan dy="2" font-size="6">0</tspan></text>
<text x="431" y="558" style='font-family:"Liberation Serif",serif;font-size:8px;font-weight:normal' fill="#7ee84a" text-anchor="start" >ε<tspan dy="-4" font-size="6">*</tspan></text>
<path d="M331.1,424.7 L334.90000000000003,431.1 L327.3,431.1 Z" fill="#444"/>
<path d="M340.3,467.09999999999997 L344.1,473.5 L336.5,473.5 Z" fill="#444"/>
<path d="M337.3,480.0 L341.1,486.40000000000003 L333.5,486.40000000000003 Z" fill="#444"/>
<path d="M344.3,474.5 L348.1,480.90000000000003 L340.5,480.90000000000003 Z" fill="#444"/>
<path d="M348.5,470.3 L352.3,476.70000000000005 L344.7,476.70000000000005 Z" fill="#444"/>
<path d="M347.3,474.5 L351.1,480.90000000000003 L343.5,480.90000000000003 Z" fill="#444"/>
<path d="M351,477.0 L354.8,483.40000000000003 L347.2,483.40000000000003 Z" fill="#444"/>
<path d="M362.2,474.5 L366.0,480.90000000000003 L358.4,480.90000000000003 Z" fill="#444"/>
<path d="M384.2,477.0 L388.0,483.40000000000003 L380.4,483.40000000000003 Z" fill="#444"/>
<path d="M411.3,474.5 L415.1,480.90000000000003 L407.5,480.90000000000003 Z" fill="#444"/>
<circle cx="331.2" cy="560.5" r="3.3" fill="#3a3a3a"/>
<circle cx="337" cy="557" r="3.3" fill="#3a3a3a"/>
<circle cx="340.4" cy="555.2" r="3.3" fill="#3a3a3a"/>
<circle cx="343.1" cy="553.6" r="3.3" fill="#3a3a3a"/>
<circle cx="346.1" cy="551.3" r="3.3" fill="#3a3a3a"/>
<circle cx="350" cy="549.5" r="3.3" fill="#3a3a3a"/>
<circle cx="351.4" cy="548.5" r="3.3" fill="#3a3a3a"/>
<circle cx="362.1" cy="542.1" r="3.3" fill="#3a3a3a"/>
<circle cx="383.4" cy="534.6" r="3.3" fill="#3a3a3a"/>
<circle cx="411.4" cy="518.8" r="3.3" fill="#3a3a3a"/>
<defs><linearGradient id="bar" x1="0" y1="0" x2="0" y2="1"><stop offset="0" stop-color="#989898"/><stop offset="0.26" stop-color="#989898"/><stop offset="0.33" stop-color="#9270c0"/><stop offset="0.415" stop-color="#8424f0"/><stop offset="0.50" stop-color="#7432e4"/><stop offset="0.56" stop-color="#6a48cc"/><stop offset="0.61" stop-color="#5a60a8"/><stop offset="0.66" stop-color="#4a7c80"/><stop offset="0.675" stop-color="#40a070"/><stop offset="0.72" stop-color="#38c440"/><stop offset="0.80" stop-color="#3ad83e"/><stop offset="1" stop-color="#40e040"/></linearGradient><filter id="sh" x="-50%" y="-50%" width="200%" height="200%"><feGaussianBlur in="SourceAlpha" stdDeviation="3.3"/><feOffset dx="4" dy="4"/><feComponentTransfer><feFuncA type="linear" slope="0.55"/></feComponentTransfer><feMerge><feMergeNode/><feMergeNode in="SourceGraphic"/></feMerge></filter></defs>
<path d="M601,15 A14,14 0 0 1 615,1.2 L621.6,1.2 A14,14 0 0 1 635.6,15 L635.6,587.6 A11,11 0 0 1 624.6,598.6 L612,598.6 A11,11 0 0 1 601,587.6 Z" fill="url(#bar)"/>
<text transform="translate(624.6,94) rotate(-90)" style='font-family:"Liberation Mono",monospace;font-size:17px' fill="#111" stroke="#111" stroke-width="0.25" text-anchor="middle">Bottom - up</text>
<text transform="translate(626.5,294.5) rotate(-90)" style='font-family:"Liberation Mono",monospace;font-size:21px' fill="#111" stroke="#111" stroke-width="0.2" text-anchor="middle">Model</text>
<text transform="translate(625.5,501.5) rotate(-90)" style='font-family:"Liberation Mono",monospace;font-size:17px' fill="#111" stroke="#111" stroke-width="0.25" text-anchor="middle">Top - down</text>
<path d="M587.4,179.5 L611,190.5 Q618.2,193 625.4,190.5 L648.9,179.5 L618.2,239.6 Z" fill="#999" filter="url(#sh)"/>
<path d="M618.2,350.8 L648.9,410.5 L626,400.5 Q618,397.5 610,400.5 L587.4,411.4 Z" fill="#52a02a" filter="url(#sh)"/>
</svg></body></html>
